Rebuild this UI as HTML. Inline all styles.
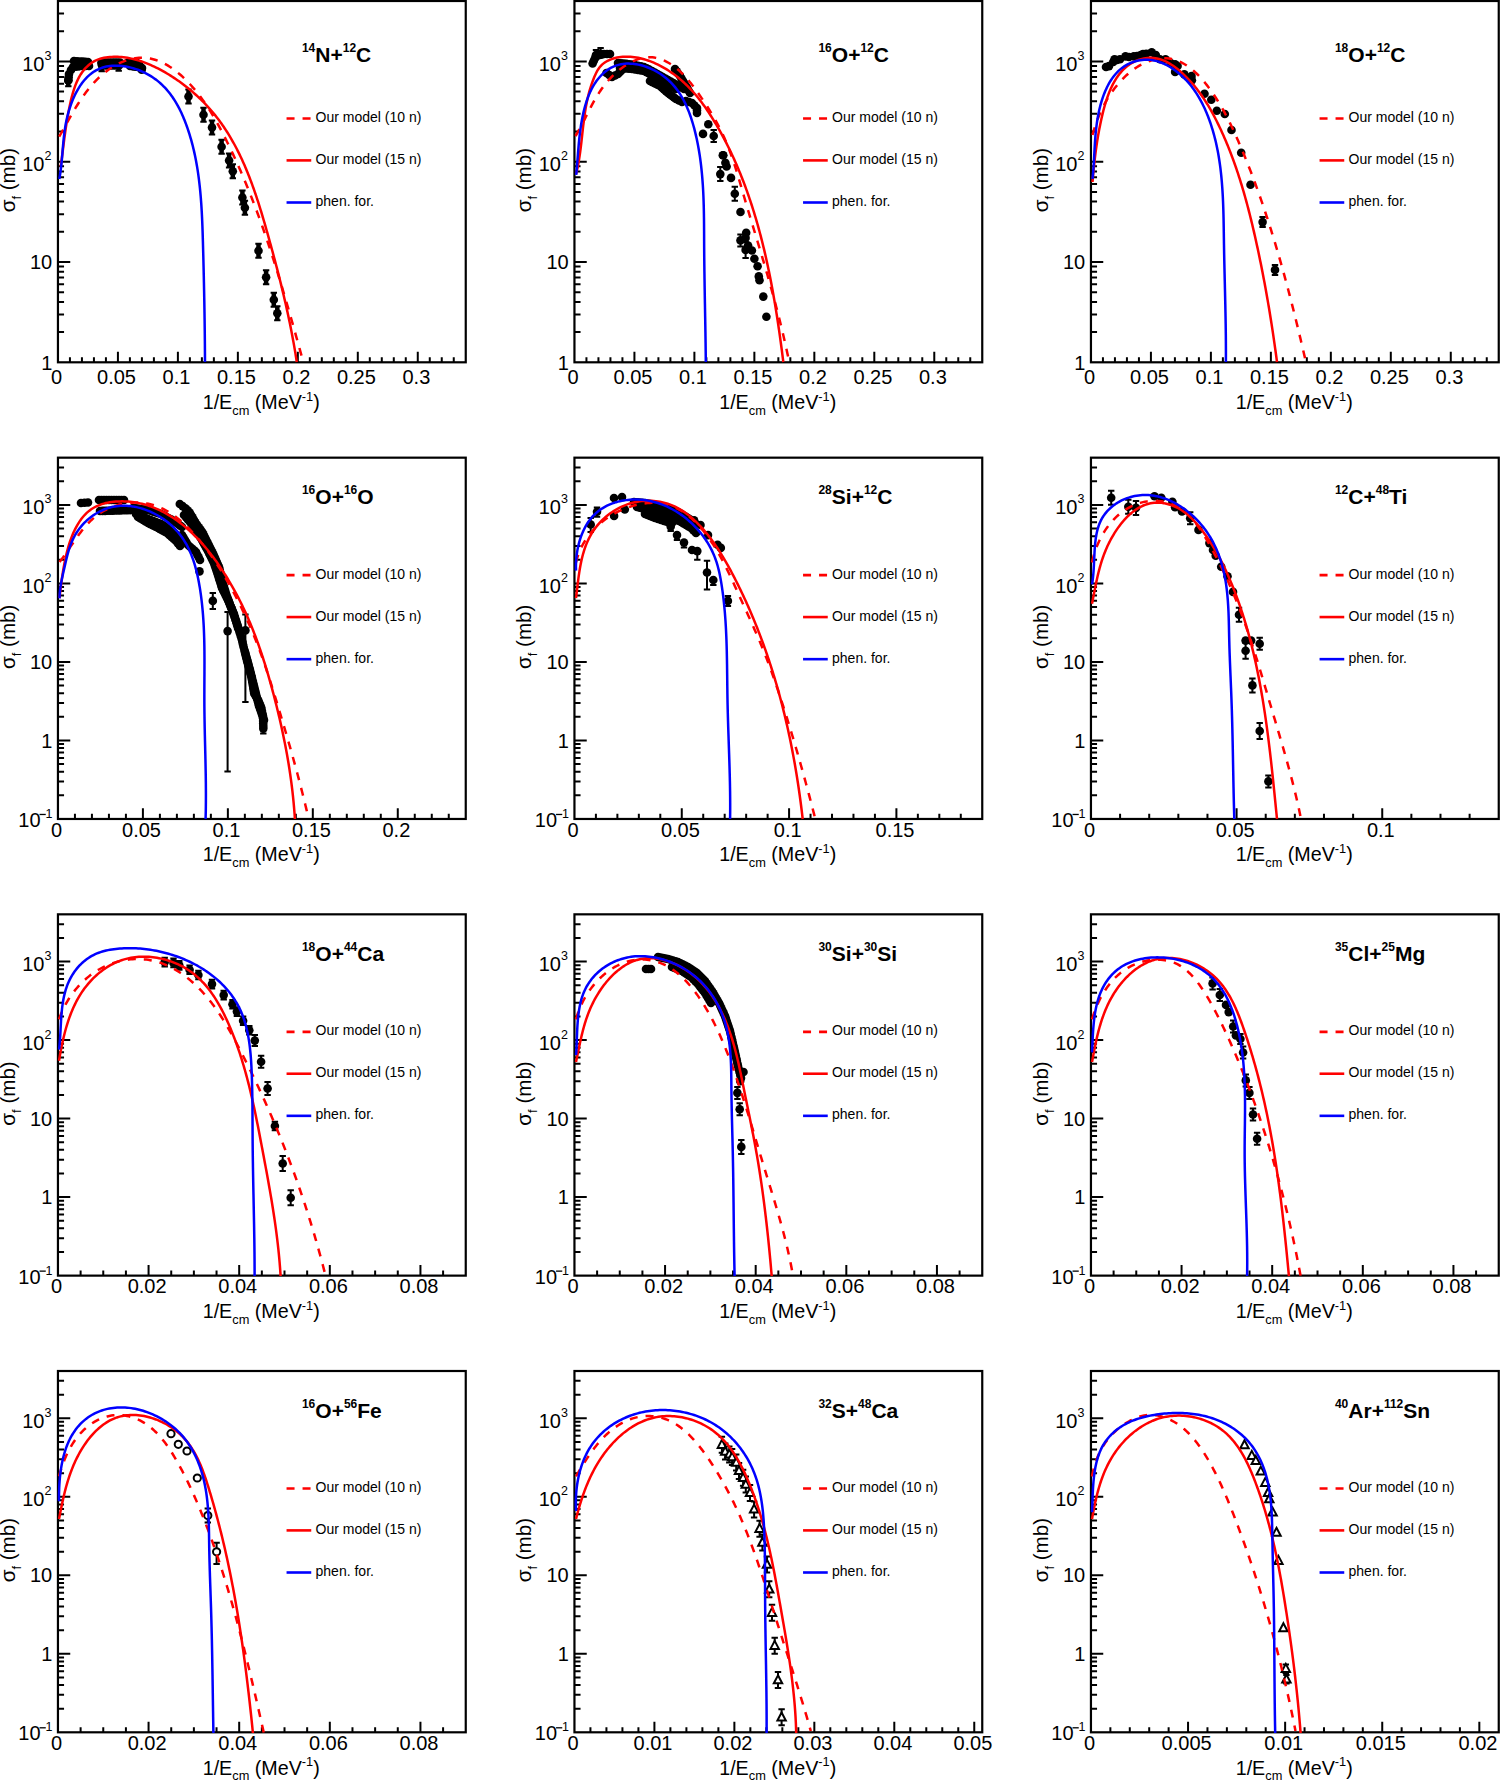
<!DOCTYPE html><html><head><meta charset="utf-8"><style>html,body{margin:0;padding:0;background:#fff;}svg{display:block;}</style></head><body>
<svg width="1500" height="1781" viewBox="0 0 1500 1781" font-family="&quot;Liberation Sans&quot;, sans-serif">
<rect width="1500" height="1781" fill="#fff"/>
<g>
<path d="M69.94,362.3V357.2M81.94,362.3V357.2M93.93,362.3V357.2M105.93,362.3V357.2M117.92,362.3V351.7M129.91,362.3V357.2M141.91,362.3V357.2M153.9,362.3V357.2M165.9,362.3V357.2M177.89,362.3V351.7M189.89,362.3V357.2M201.88,362.3V357.2M213.87,362.3V357.2M225.87,362.3V357.2M237.86,362.3V351.7M249.86,362.3V357.2M261.85,362.3V357.2M273.84,362.3V357.2M285.84,362.3V357.2M297.83,362.3V351.7M309.83,362.3V357.2M321.82,362.3V357.2M333.81,362.3V357.2M345.81,362.3V357.2M357.8,362.3V351.7M369.8,362.3V357.2M381.79,362.3V357.2M393.79,362.3V357.2M405.78,362.3V357.2M417.77,362.3V351.7M429.77,362.3V357.2M441.76,362.3V357.2M453.76,362.3V357.2M57.95,332.11H64.05M57.95,314.44H64.05M57.95,301.91H64.05M57.95,292.19H64.05M57.95,284.25H64.05M57.95,277.53H64.05M57.95,271.72H64.05M57.95,266.59H64.05M57.95,262H70.25M57.95,231.8H64.05M57.95,214.14H64.05M57.95,201.61H64.05M57.95,191.89H64.05M57.95,183.94H64.05M57.95,177.23H64.05M57.95,171.41H64.05M57.95,166.28H64.05M57.95,161.69H70.25M57.95,131.5H64.05M57.95,113.84H64.05M57.95,101.3H64.05M57.95,91.58H64.05M57.95,83.64H64.05M57.95,76.93H64.05M57.95,71.11H64.05M57.95,65.98H64.05M57.95,61.39H70.25M57.95,31.19H64.05M57.95,13.53H64.05" stroke="#000" stroke-width="2.0" fill="none"/>
<rect x="57.95" y="1" width="407.8" height="361.3" fill="none" stroke="#000" stroke-width="2.2"/>
<text x="56.55" y="384.2" text-anchor="middle" font-size="20">0</text>
<text x="116.52" y="384.2" text-anchor="middle" font-size="20">0.05</text>
<text x="176.49" y="384.2" text-anchor="middle" font-size="20">0.1</text>
<text x="236.46" y="384.2" text-anchor="middle" font-size="20">0.15</text>
<text x="296.43" y="384.2" text-anchor="middle" font-size="20">0.2</text>
<text x="356.4" y="384.2" text-anchor="middle" font-size="20">0.25</text>
<text x="416.37" y="384.2" text-anchor="middle" font-size="20">0.3</text>
<text x="52.25" y="369.5" text-anchor="end" font-size="20">1</text>
<text x="52.25" y="269.2" text-anchor="end" font-size="20">10</text>
<text x="51.45" y="171.09" text-anchor="end" font-size="20">10<tspan font-size="12.5" dy="-11">2</tspan></text>
<text x="51.45" y="70.79" text-anchor="end" font-size="20">10<tspan font-size="12.5" dy="-11">3</tspan></text>
<text x="261.25" y="409" text-anchor="middle" font-size="19.7">1/E<tspan font-size="12.8" dy="5.6">cm</tspan><tspan dy="-5.6"> (MeV</tspan><tspan font-size="12.8" dy="-8.4">-1</tspan><tspan dy="8.4">)</tspan></text>
<text transform="translate(14.75,180.15) rotate(-90)" text-anchor="middle" font-size="20.6">σ<tspan font-size="13" dy="6">f</tspan><tspan dy="-6"> (mb)</tspan></text>
<text x="301.95" y="61.8" font-size="21" font-weight="bold"><tspan font-size="12" dy="-9.7">14</tspan><tspan dy="9.7">N+</tspan><tspan font-size="12" dy="-9.7">12</tspan><tspan dy="9.7">C</tspan></text>
<path d="M286.55,118.5H311.25" stroke="#f00" stroke-width="2.6" stroke-dasharray="8,8"/>
<path d="M286.55,160.4H311.25" stroke="#f00" stroke-width="2.6"/>
<path d="M286.55,202.5H311.25" stroke="#00f" stroke-width="2.6"/>
<text x="315.55" y="122" font-size="14">Our model (10 n)</text>
<text x="315.55" y="164" font-size="14">Our model (15 n)</text>
<text x="315.55" y="206" font-size="14">phen. for.</text>
<path d="M68.3,80.3V86.3M65.1,86.3H71.5M101.7,63.7V71.2M98.5,71.2H104.9M118.7,63.7V70.7M115.5,70.7H121.9M188.5,89.5V103.5M185.3,89.5H191.7M185.3,103.5H191.7M203.5,107.7V121.7M200.3,107.7H206.7M200.3,121.7H206.7M212,120.5V134.5M208.8,120.5H215.2M208.8,134.5H215.2M221.6,139.7V153.7M218.4,139.7H224.8M218.4,153.7H224.8M229.1,153.5V167.5M225.9,153.5H232.3M225.9,167.5H232.3M232.8,164.2V178.2M229.6,164.2H236M229.6,178.2H236M242.4,190.5V204.5M239.2,190.5H245.6M239.2,204.5H245.6M244.9,200.8V214.8M241.7,200.8H248.1M241.7,214.8H248.1M258.5,243.8V257.8M255.3,243.8H261.7M255.3,257.8H261.7M266.1,270.3V284.3M262.9,270.3H269.3M262.9,284.3H269.3M273.8,292.7V306.7M270.6,292.7H277M270.6,306.7H277M277.3,306.3V320.3M274.1,306.3H280.5M274.1,320.3H280.5" stroke="#000" stroke-width="2" fill="none"/>
<path d="M68.3,80.3V86.3M101.7,63.7V71.2M118.7,63.7V70.7M188.5,89.5V103.5M203.5,107.7V121.7M212,120.5V134.5M221.6,139.7V153.7M229.1,153.5V167.5M232.8,164.2V178.2M242.4,190.5V204.5M244.9,200.8V214.8M258.5,243.8V257.8M266.1,270.3V284.3M273.8,292.7V306.7M277.3,306.3V320.3" stroke="#000" stroke-width="4.5" fill="none"/>
<circle cx="68.3" cy="80.3" r="4.3"/>
<circle cx="101.7" cy="63.7" r="4.3"/>
<circle cx="118.7" cy="63.7" r="4.3"/>
<circle cx="141.7" cy="69.7" r="4.3"/>
<circle cx="188.5" cy="96.5" r="4.3"/>
<circle cx="203.5" cy="114.7" r="4.3"/>
<circle cx="212" cy="127.5" r="4.3"/>
<circle cx="221.6" cy="146.7" r="4.3"/>
<circle cx="229.1" cy="160.5" r="4.3"/>
<circle cx="232.8" cy="171.2" r="4.3"/>
<circle cx="242.4" cy="197.5" r="4.3"/>
<circle cx="244.9" cy="207.8" r="4.3"/>
<circle cx="258.5" cy="250.8" r="4.3"/>
<circle cx="266.1" cy="277.3" r="4.3"/>
<circle cx="273.8" cy="299.7" r="4.3"/>
<circle cx="277.3" cy="313.3" r="4.3"/>
<circle cx="68.3" cy="80.5" r="4.3"/>
<circle cx="68.65" cy="77.25" r="4.3"/>
<circle cx="69" cy="74" r="4.3"/>
<circle cx="71" cy="70" r="4.3"/>
<circle cx="74" cy="61" r="4.3"/>
<circle cx="77" cy="61.25" r="4.3"/>
<circle cx="80" cy="61.5" r="4.3"/>
<circle cx="82.67" cy="61.67" r="4.3"/>
<circle cx="85.33" cy="61.83" r="4.3"/>
<circle cx="88" cy="62" r="4.3"/>
<circle cx="73" cy="67" r="4.3"/>
<circle cx="76" cy="66.67" r="4.3"/>
<circle cx="79" cy="66.33" r="4.3"/>
<circle cx="82" cy="66" r="4.3"/>
<circle cx="85.5" cy="66" r="4.3"/>
<circle cx="89" cy="66" r="4.3"/>
<circle cx="101.5" cy="62.5" r="4.3"/>
<circle cx="104.14" cy="62.5" r="4.3"/>
<circle cx="106.79" cy="62.5" r="4.3"/>
<circle cx="109.43" cy="62.5" r="4.3"/>
<circle cx="112.07" cy="62.5" r="4.3"/>
<circle cx="114.71" cy="62.5" r="4.3"/>
<circle cx="117.36" cy="62.5" r="4.3"/>
<circle cx="120" cy="62.5" r="4.3"/>
<circle cx="102" cy="65.5" r="4.3"/>
<circle cx="104.83" cy="65.5" r="4.3"/>
<circle cx="107.67" cy="65.5" r="4.3"/>
<circle cx="110.5" cy="65.5" r="4.3"/>
<circle cx="113.33" cy="65.5" r="4.3"/>
<circle cx="116.17" cy="65.5" r="4.3"/>
<circle cx="119" cy="65.5" r="4.3"/>
<circle cx="127" cy="63" r="4.3"/>
<circle cx="129.5" cy="63" r="4.3"/>
<circle cx="132" cy="63" r="4.3"/>
<circle cx="134.5" cy="63" r="4.3"/>
<circle cx="137" cy="63" r="4.3"/>
<circle cx="139.5" cy="65.5" r="4.3"/>
<circle cx="142" cy="68" r="4.3"/>
<circle cx="130" cy="66" r="4.3"/>
<circle cx="132.67" cy="66.33" r="4.3"/>
<circle cx="135.33" cy="66.67" r="4.3"/>
<circle cx="138" cy="67" r="4.3"/>
<path d="M59.2,136.69L60.17,134.98 61.14,133.26 62.1,131.54 63.07,129.81 64.03,128.07 64.99,126.33 65.96,124.59 66.93,122.85 67.9,121.1 68.87,119.36 69.86,117.62 70.85,115.87 71.85,114.14 72.86,112.4 73.88,110.67 74.91,108.94 75.96,107.22 77.02,105.5 78.1,103.79 79.19,102.09 80.3,100.4 81.43,98.72 82.58,97.05 83.75,95.4 84.95,93.75 86.16,92.12 87.41,90.5 88.68,88.9 89.97,87.31 91.3,85.74 92.65,84.19 94.03,82.65 95.45,81.14 96.89,79.65 98.36,78.19 99.86,76.76 101.39,75.37 102.95,74 104.54,72.68 106.15,71.4 107.79,70.15 109.46,68.96 111.16,67.81 112.88,66.71 114.63,65.67 116.41,64.68 118.21,63.74 120.04,62.87 121.89,62.06 123.75,61.32 125.63,60.64 127.53,60.03 129.43,59.48 131.34,59.01 133.26,58.61 135.18,58.28 137.09,58.04 139.01,57.87 140.92,57.78 142.82,57.77 144.71,57.85 146.59,58.01 148.46,58.25 150.31,58.58 152.15,58.98 153.98,59.45 155.79,60 157.58,60.62 159.36,61.31 161.13,62.06 162.88,62.88 164.61,63.75 166.33,64.69 168.03,65.67 169.71,66.72 171.37,67.81 173.01,68.95 174.64,70.14 176.25,71.37 177.83,72.64 179.4,73.95 180.95,75.29 182.47,76.67 183.98,78.08 185.46,79.52 186.93,80.98 188.37,82.47 189.78,83.98 191.18,85.51 192.55,87.05 193.9,88.61 195.22,90.18 196.52,91.77 197.8,93.37 199.06,94.98 200.29,96.6 201.51,98.23 202.7,99.87 203.88,101.53 205.04,103.19 206.18,104.87 207.3,106.55 208.41,108.24 209.5,109.95 210.57,111.66 211.63,113.38 212.67,115.1 213.7,116.84 214.72,118.58 215.72,120.33 216.71,122.08 217.69,123.84 218.66,125.61 219.62,127.38 220.57,129.16 221.51,130.94 222.44,132.72 223.36,134.51 224.28,136.31 225.19,138.1 226.09,139.9 226.99,141.7 227.88,143.51 228.76,145.31 229.64,147.12 230.52,148.93 231.38,150.75 232.24,152.56 233.1,154.38 233.95,156.21 234.79,158.03 235.63,159.86 236.46,161.69 237.29,163.52 238.11,165.35 238.93,167.19 239.74,169.03 240.55,170.87 241.35,172.71 242.15,174.55 242.94,176.4 243.72,178.25 244.5,180.1 245.28,181.96 246.05,183.81 246.81,185.67 247.58,187.53 248.33,189.39 249.08,191.26 249.83,193.12 250.57,194.99 251.31,196.86 252.04,198.73 252.77,200.61 253.5,202.48 254.22,204.36 254.93,206.24 255.64,208.12 256.35,210 257.06,211.89 257.75,213.77 258.45,215.66 259.14,217.55 259.83,219.44 260.51,221.33 261.19,223.23 261.87,225.12 262.54,227.02 263.21,228.92 263.87,230.82 264.53,232.72 265.19,234.62 265.84,236.53 266.49,238.43 267.14,240.34 267.78,242.25 268.42,244.16 269.06,246.07 269.69,247.98 270.33,249.89 270.95,251.81 271.58,253.72 272.2,255.64 272.82,257.56 273.43,259.47 274.05,261.39 274.66,263.31 275.27,265.24 275.87,267.16 276.47,269.08 277.07,271.01 277.67,272.93 278.26,274.86 278.86,276.78 279.45,278.71 280.03,280.64 280.62,282.57 281.2,284.5 281.78,286.43 282.36,288.36 282.94,290.29 283.51,292.23 284.09,294.16 284.66,296.09 285.23,298.03 285.79,299.96 286.36,301.9 286.92,303.84 287.48,305.77 288.05,307.71 288.6,309.65 289.16,311.58 289.72,313.52 290.27,315.46 290.82,317.4 291.38,319.34 291.93,321.27 292.48,323.21 293.02,325.15 293.57,327.09 294.12,329.03 294.66,330.97 295.21,332.91 295.75,334.85 296.29,336.79 296.83,338.73 297.38,340.67 297.92,342.61 298.45,344.55 298.99,346.49 299.53,348.43 300.07,350.37 300.61,352.31 301.14,354.25 301.68,356.19 302.22,358.13 302.75,360.06 303.29,362" stroke="#f00" stroke-width="2.5" fill="none" stroke-dasharray="8,8"/>
<path d="M60.7,166.7L60.98,164.65 61.25,162.6 61.52,160.56 61.78,158.54 62.04,156.52 62.3,154.51 62.55,152.51 62.8,150.52 63.05,148.53 63.3,146.55 63.55,144.57 63.8,142.6 64.06,140.64 64.31,138.67 64.57,136.71 64.84,134.76 65.11,132.8 65.39,130.84 65.67,128.89 65.96,126.93 66.26,124.97 66.56,123.01 66.88,121.05 67.21,119.08 67.55,117.11 67.9,115.14 68.26,113.16 68.64,111.18 69.03,109.18 69.44,107.19 69.86,105.18 70.3,103.16 70.76,101.14 71.24,99.12 71.74,97.09 72.28,95.07 72.84,93.05 73.43,91.05 74.06,89.06 74.74,87.09 75.45,85.15 76.22,83.23 77.03,81.35 77.89,79.5 78.82,77.7 79.8,75.93 80.84,74.22 81.95,72.55 83.13,70.95 84.38,69.4 85.69,67.93 87.07,66.53 88.51,65.21 90.01,63.98 91.58,62.84 93.2,61.81 94.88,60.88 96.62,60.07 98.41,59.36 100.24,58.76 102.1,58.25 104,57.83 105.92,57.49 107.86,57.23 109.81,57.03 111.76,56.9 113.71,56.82 115.67,56.81 117.63,56.85 119.58,56.94 121.54,57.09 123.5,57.3 125.45,57.55 127.41,57.85 129.36,58.21 131.31,58.61 133.25,59.06 135.19,59.55 137.13,60.08 139.06,60.66 140.98,61.28 142.9,61.94 144.81,62.63 146.72,63.36 148.61,64.13 150.5,64.94 152.38,65.77 154.25,66.64 156.11,67.53 157.95,68.46 159.79,69.41 161.61,70.39 163.42,71.39 165.22,72.42 167.01,73.47 168.78,74.54 170.53,75.63 172.27,76.73 173.99,77.86 175.7,79 177.39,80.16 179.07,81.33 180.72,82.52 182.37,83.73 183.99,84.95 185.6,86.18 187.19,87.44 188.77,88.71 190.32,89.99 191.87,91.29 193.39,92.61 194.9,93.94 196.39,95.28 197.86,96.64 199.32,98.02 200.76,99.41 202.18,100.81 203.59,102.23 204.98,103.66 206.35,105.11 207.7,106.57 209.04,108.05 210.35,109.54 211.65,111.04 212.94,112.55 214.2,114.08 215.45,115.63 216.68,117.19 217.89,118.76 219.08,120.34 220.26,121.93 221.42,123.54 222.56,125.16 223.68,126.8 224.78,128.44 225.87,130.1 226.95,131.77 228,133.45 229.04,135.14 230.07,136.84 231.08,138.56 232.07,140.28 233.05,142.01 234.02,143.75 234.97,145.51 235.9,147.27 236.83,149.04 237.73,150.82 238.63,152.61 239.51,154.41 240.38,156.21 241.24,158.03 242.08,159.85 242.91,161.68 243.73,163.52 244.54,165.36 245.33,167.22 246.12,169.07 246.89,170.94 247.65,172.81 248.41,174.69 249.15,176.57 249.88,178.46 250.6,180.35 251.32,182.25 252.02,184.16 252.71,186.07 253.4,187.98 254.08,189.9 254.74,191.82 255.41,193.75 256.06,195.68 256.7,197.61 257.34,199.54 257.97,201.48 258.6,203.42 259.21,205.37 259.82,207.31 260.43,209.26 261.03,211.21 261.62,213.16 262.21,215.12 262.79,217.07 263.37,219.02 263.94,220.98 264.51,222.93 265.08,224.89 265.64,226.85 266.19,228.8 266.75,230.76 267.3,232.71 267.85,234.66 268.39,236.62 268.94,238.57 269.48,240.52 270.01,242.46 270.55,244.41 271.08,246.35 271.62,248.3 272.14,250.24 272.67,252.18 273.19,254.12 273.72,256.06 274.23,258 274.75,259.94 275.26,261.87 275.78,263.81 276.28,265.75 276.79,267.68 277.29,269.62 277.79,271.55 278.29,273.49 278.78,275.43 279.27,277.36 279.76,279.3 280.24,281.23 280.72,283.17 281.2,285.11 281.67,287.04 282.15,288.98 282.61,290.92 283.08,292.86 283.54,294.8 283.99,296.74 284.45,298.69 284.9,300.63 285.34,302.58 285.79,304.52 286.23,306.47 286.66,308.42 287.09,310.37 287.52,312.33 287.94,314.28 288.36,316.24 288.78,318.2 289.19,320.16 289.59,322.12 290,324.09 290.4,326.06 290.79,328.03 291.18,330 291.56,331.98 291.95,333.96 292.32,335.94 292.69,337.92 293.06,339.91 293.42,341.9 293.78,343.9 294.14,345.9 294.48,347.9 294.83,349.9 295.17,351.91 295.5,353.92 295.83,355.94 296.16,357.96 296.47,359.98 296.79,362.01" stroke="#f00" stroke-width="2.5" fill="none"/>
<path d="M59.29,179L59.66,176.98 60,174.97 60.31,172.96 60.59,170.97 60.85,168.97 61.1,166.98 61.32,165 61.53,163.01 61.72,161.03 61.91,159.06 62.08,157.08 62.25,155.11 62.42,153.13 62.58,151.16 62.74,149.19 62.9,147.21 63.07,145.24 63.25,143.26 63.43,141.29 63.63,139.31 63.84,137.32 64.06,135.34 64.31,133.35 64.57,131.35 64.86,129.35 65.17,127.35 65.51,125.33 65.88,123.32 66.28,121.29 66.71,119.26 67.18,117.22 67.68,115.18 68.22,113.14 68.8,111.1 69.42,109.07 70.07,107.05 70.76,105.04 71.48,103.04 72.25,101.07 73.05,99.12 73.89,97.19 74.77,95.29 75.69,93.42 76.65,91.59 77.65,89.79 78.68,88.04 79.76,86.33 80.88,84.67 82.05,83.05 83.25,81.49 84.49,79.99 85.78,78.55 87.11,77.17 88.48,75.86 89.9,74.62 91.36,73.44 92.86,72.35 94.41,71.33 96,70.4 97.63,69.55 99.32,68.79 101.04,68.11 102.8,67.52 104.6,67.01 106.43,66.59 108.29,66.24 110.17,65.98 112.08,65.79 114.02,65.68 115.97,65.64 117.93,65.68 119.91,65.79 121.9,65.97 123.9,66.22 125.89,66.53 127.89,66.91 129.89,67.36 131.88,67.87 133.86,68.44 135.84,69.08 137.79,69.77 139.73,70.52 141.65,71.33 143.55,72.19 145.42,73.1 147.27,74.07 149.08,75.08 150.86,76.15 152.6,77.26 154.29,78.42 155.95,79.62 157.56,80.87 159.12,82.16 160.64,83.49 162.12,84.85 163.55,86.26 164.94,87.7 166.29,89.18 167.6,90.69 168.87,92.24 170.1,93.81 171.29,95.42 172.45,97.05 173.57,98.71 174.65,100.4 175.71,102.11 176.73,103.85 177.71,105.6 178.67,107.38 179.6,109.18 180.49,110.99 181.36,112.82 182.2,114.67 183.02,116.53 183.8,118.4 184.57,120.28 185.31,122.17 186.03,124.08 186.72,125.98 187.39,127.9 188.05,129.82 188.68,131.74 189.3,133.67 189.89,135.6 190.47,137.53 191.03,139.46 191.57,141.4 192.09,143.35 192.6,145.29 193.08,147.24 193.56,149.2 194.01,151.15 194.45,153.11 194.87,155.07 195.28,157.04 195.68,159 196.06,160.97 196.42,162.95 196.77,164.92 197.11,166.9 197.43,168.88 197.74,170.86 198.04,172.84 198.32,174.83 198.59,176.82 198.86,178.81 199.1,180.8 199.34,182.8 199.57,184.79 199.79,186.79 200,188.79 200.19,190.79 200.38,192.79 200.56,194.8 200.73,196.8 200.89,198.81 201.04,200.82 201.19,202.83 201.33,204.84 201.46,206.85 201.58,208.86 201.7,210.87 201.81,212.89 201.91,214.9 202.01,216.92 202.11,218.93 202.2,220.95 202.28,222.97 202.36,224.99 202.44,227 202.51,229.02 202.58,231.04 202.65,233.06 202.71,235.08 202.77,237.1 202.83,239.11 202.89,241.13 202.95,243.15 203,245.17 203.06,247.19 203.11,249.2 203.17,251.22 203.22,253.23 203.28,255.25 203.33,257.27 203.38,259.28 203.43,261.3 203.48,263.31 203.53,265.33 203.58,267.34 203.63,269.35 203.68,271.37 203.72,273.38 203.77,275.4 203.82,277.41 203.86,279.42 203.9,281.44 203.95,283.45 203.99,285.46 204.03,287.47 204.07,289.49 204.12,291.5 204.16,293.51 204.19,295.52 204.23,297.54 204.27,299.55 204.31,301.56 204.34,303.57 204.38,305.59 204.41,307.6 204.45,309.61 204.48,311.62 204.51,313.64 204.54,315.65 204.57,317.66 204.6,319.67 204.63,321.69 204.66,323.7 204.68,325.71 204.71,327.73 204.73,329.74 204.76,331.76 204.78,333.77 204.8,335.78 204.82,337.8 204.84,339.81 204.86,341.83 204.88,343.84 204.9,345.86 204.91,347.88 204.93,349.89 204.94,351.91 204.96,353.93 204.97,355.95 204.98,357.96 204.99,359.98 205,362" stroke="#00f" stroke-width="2.5" fill="none"/>
</g>
<g>
<path d="M586.44,362.3V357.2M598.44,362.3V357.2M610.43,362.3V357.2M622.43,362.3V357.2M634.42,362.3V351.7M646.41,362.3V357.2M658.41,362.3V357.2M670.4,362.3V357.2M682.4,362.3V357.2M694.39,362.3V351.7M706.39,362.3V357.2M718.38,362.3V357.2M730.37,362.3V357.2M742.37,362.3V357.2M754.36,362.3V351.7M766.36,362.3V357.2M778.35,362.3V357.2M790.34,362.3V357.2M802.34,362.3V357.2M814.33,362.3V351.7M826.33,362.3V357.2M838.32,362.3V357.2M850.31,362.3V357.2M862.31,362.3V357.2M874.3,362.3V351.7M886.3,362.3V357.2M898.29,362.3V357.2M910.29,362.3V357.2M922.28,362.3V357.2M934.27,362.3V351.7M946.27,362.3V357.2M958.26,362.3V357.2M970.26,362.3V357.2M574.45,332.11H580.55M574.45,314.44H580.55M574.45,301.91H580.55M574.45,292.19H580.55M574.45,284.25H580.55M574.45,277.53H580.55M574.45,271.72H580.55M574.45,266.59H580.55M574.45,262H586.75M574.45,231.8H580.55M574.45,214.14H580.55M574.45,201.61H580.55M574.45,191.89H580.55M574.45,183.94H580.55M574.45,177.23H580.55M574.45,171.41H580.55M574.45,166.28H580.55M574.45,161.69H586.75M574.45,131.5H580.55M574.45,113.84H580.55M574.45,101.3H580.55M574.45,91.58H580.55M574.45,83.64H580.55M574.45,76.93H580.55M574.45,71.11H580.55M574.45,65.98H580.55M574.45,61.39H586.75M574.45,31.19H580.55M574.45,13.53H580.55" stroke="#000" stroke-width="2.0" fill="none"/>
<rect x="574.45" y="1" width="407.8" height="361.3" fill="none" stroke="#000" stroke-width="2.2"/>
<text x="573.05" y="384.2" text-anchor="middle" font-size="20">0</text>
<text x="633.02" y="384.2" text-anchor="middle" font-size="20">0.05</text>
<text x="692.99" y="384.2" text-anchor="middle" font-size="20">0.1</text>
<text x="752.96" y="384.2" text-anchor="middle" font-size="20">0.15</text>
<text x="812.93" y="384.2" text-anchor="middle" font-size="20">0.2</text>
<text x="872.9" y="384.2" text-anchor="middle" font-size="20">0.25</text>
<text x="932.87" y="384.2" text-anchor="middle" font-size="20">0.3</text>
<text x="568.75" y="369.5" text-anchor="end" font-size="20">1</text>
<text x="568.75" y="269.2" text-anchor="end" font-size="20">10</text>
<text x="567.95" y="171.09" text-anchor="end" font-size="20">10<tspan font-size="12.5" dy="-11">2</tspan></text>
<text x="567.95" y="70.79" text-anchor="end" font-size="20">10<tspan font-size="12.5" dy="-11">3</tspan></text>
<text x="777.75" y="409" text-anchor="middle" font-size="19.7">1/E<tspan font-size="12.8" dy="5.6">cm</tspan><tspan dy="-5.6"> (MeV</tspan><tspan font-size="12.8" dy="-8.4">-1</tspan><tspan dy="8.4">)</tspan></text>
<text transform="translate(531.25,180.15) rotate(-90)" text-anchor="middle" font-size="20.6">σ<tspan font-size="13" dy="6">f</tspan><tspan dy="-6"> (mb)</tspan></text>
<text x="818.45" y="61.8" font-size="21" font-weight="bold"><tspan font-size="12" dy="-9.7">16</tspan><tspan dy="9.7">O+</tspan><tspan font-size="12" dy="-9.7">12</tspan><tspan dy="9.7">C</tspan></text>
<path d="M803.05,118.5H827.75" stroke="#f00" stroke-width="2.6" stroke-dasharray="8,8"/>
<path d="M803.05,160.4H827.75" stroke="#f00" stroke-width="2.6"/>
<path d="M803.05,202.5H827.75" stroke="#00f" stroke-width="2.6"/>
<text x="832.05" y="122" font-size="14">Our model (10 n)</text>
<text x="832.05" y="164" font-size="14">Our model (15 n)</text>
<text x="832.05" y="206" font-size="14">phen. for.</text>
<path d="M600.6,47.9V53.9M597.4,47.9H603.8M596,50V55M592.8,50H599.2M713.7,130V142M710.5,130H716.9M710.5,142H716.9M720.3,167.1V181.1M717.1,167.1H723.5M717.1,181.1H723.5M734.8,186.7V200.7M731.6,186.7H738M731.6,200.7H738M740.5,234.4V246.4M737.3,234.4H743.7M737.3,246.4H743.7M745.6,241.9V257.9M742.4,241.9H748.8M742.4,257.9H748.8" stroke="#000" stroke-width="2" fill="none"/>
<circle cx="600.6" cy="53.9" r="4.3"/>
<circle cx="596" cy="55" r="4.3"/>
<circle cx="708.3" cy="124.3" r="4.3"/>
<circle cx="703" cy="133.9" r="4.3"/>
<circle cx="713.7" cy="136" r="4.3"/>
<circle cx="723.3" cy="155.2" r="4.3"/>
<circle cx="722.8" cy="155.2" r="4.3"/>
<circle cx="725.4" cy="162.7" r="4.3"/>
<circle cx="726.6" cy="166.5" r="4.3"/>
<circle cx="720.3" cy="174.1" r="4.3"/>
<circle cx="731" cy="177.9" r="4.3"/>
<circle cx="734.8" cy="193.7" r="4.3"/>
<circle cx="740.5" cy="212" r="4.3"/>
<circle cx="746.2" cy="232.8" r="4.3"/>
<circle cx="740.5" cy="240.4" r="4.3"/>
<circle cx="745.6" cy="237.9" r="4.3"/>
<circle cx="748.1" cy="245.5" r="4.3"/>
<circle cx="745.6" cy="249.9" r="4.3"/>
<circle cx="751.9" cy="250.5" r="4.3"/>
<circle cx="754.4" cy="258.7" r="4.3"/>
<circle cx="757.6" cy="266.3" r="4.3"/>
<circle cx="758.8" cy="276.4" r="4.3"/>
<circle cx="759.5" cy="280.2" r="4.3"/>
<circle cx="763.3" cy="296.6" r="4.3"/>
<circle cx="766.4" cy="316.8" r="4.3"/>
<circle cx="592.6" cy="63.5" r="4.3"/>
<circle cx="593.73" cy="61" r="4.3"/>
<circle cx="594.87" cy="58.5" r="4.3"/>
<circle cx="596" cy="56" r="4.3"/>
<circle cx="598.67" cy="55.33" r="4.3"/>
<circle cx="601.33" cy="54.67" r="4.3"/>
<circle cx="604" cy="54" r="4.3"/>
<circle cx="607" cy="54" r="4.3"/>
<circle cx="610" cy="54" r="4.3"/>
<circle cx="606.5" cy="73" r="4.3"/>
<circle cx="609.25" cy="75" r="4.3"/>
<circle cx="612" cy="77" r="4.3"/>
<circle cx="615" cy="75.5" r="4.3"/>
<circle cx="618" cy="74" r="4.3"/>
<circle cx="620" cy="72" r="4.3"/>
<circle cx="622" cy="70" r="4.3"/>
<circle cx="618" cy="63" r="4.3"/>
<circle cx="620.8" cy="63.3" r="4.3"/>
<circle cx="623.6" cy="63.6" r="4.3"/>
<circle cx="626.4" cy="63.9" r="4.3"/>
<circle cx="629.2" cy="64.2" r="4.3"/>
<circle cx="632" cy="64.5" r="4.3"/>
<circle cx="635" cy="65.12" r="4.3"/>
<circle cx="638" cy="65.75" r="4.3"/>
<circle cx="641" cy="66.38" r="4.3"/>
<circle cx="644" cy="67" r="4.3"/>
<circle cx="646.67" cy="68.33" r="4.3"/>
<circle cx="649.33" cy="69.67" r="4.3"/>
<circle cx="652" cy="71" r="4.3"/>
<circle cx="654.67" cy="72.5" r="4.3"/>
<circle cx="657.33" cy="74" r="4.3"/>
<circle cx="660" cy="75.5" r="4.3"/>
<circle cx="662.67" cy="77" r="4.3"/>
<circle cx="665.33" cy="78.5" r="4.3"/>
<circle cx="668" cy="80" r="4.3"/>
<circle cx="670.67" cy="81.5" r="4.3"/>
<circle cx="673.33" cy="83" r="4.3"/>
<circle cx="676" cy="84.5" r="4.3"/>
<circle cx="678.67" cy="86" r="4.3"/>
<circle cx="681.33" cy="87.5" r="4.3"/>
<circle cx="684" cy="89" r="4.3"/>
<circle cx="620" cy="68" r="4.3"/>
<circle cx="623" cy="68.25" r="4.3"/>
<circle cx="626" cy="68.5" r="4.3"/>
<circle cx="629" cy="68.75" r="4.3"/>
<circle cx="632" cy="69" r="4.3"/>
<circle cx="635" cy="69.5" r="4.3"/>
<circle cx="638" cy="70" r="4.3"/>
<circle cx="641" cy="70.5" r="4.3"/>
<circle cx="644" cy="71" r="4.3"/>
<circle cx="646.67" cy="72.33" r="4.3"/>
<circle cx="649.33" cy="73.67" r="4.3"/>
<circle cx="652" cy="75" r="4.3"/>
<circle cx="654.67" cy="76.67" r="4.3"/>
<circle cx="657.33" cy="78.33" r="4.3"/>
<circle cx="660" cy="80" r="4.3"/>
<circle cx="662.67" cy="81.33" r="4.3"/>
<circle cx="665.33" cy="82.67" r="4.3"/>
<circle cx="668" cy="84" r="4.3"/>
<circle cx="670.67" cy="85.67" r="4.3"/>
<circle cx="673.33" cy="87.33" r="4.3"/>
<circle cx="676" cy="89" r="4.3"/>
<circle cx="650" cy="81" r="4.3"/>
<circle cx="652.5" cy="82.25" r="4.3"/>
<circle cx="655" cy="83.5" r="4.3"/>
<circle cx="657.5" cy="84.75" r="4.3"/>
<circle cx="660" cy="86" r="4.3"/>
<circle cx="662" cy="87.75" r="4.3"/>
<circle cx="664" cy="89.5" r="4.3"/>
<circle cx="666" cy="91.25" r="4.3"/>
<circle cx="668" cy="93" r="4.3"/>
<circle cx="670" cy="94.5" r="4.3"/>
<circle cx="672" cy="96" r="4.3"/>
<circle cx="674" cy="97.5" r="4.3"/>
<circle cx="676" cy="99" r="4.3"/>
<circle cx="679" cy="100.5" r="4.3"/>
<circle cx="682" cy="102" r="4.3"/>
<circle cx="686" cy="101" r="4.3"/>
<circle cx="689" cy="102" r="4.3"/>
<circle cx="692" cy="103" r="4.3"/>
<circle cx="694.5" cy="105.5" r="4.3"/>
<circle cx="697" cy="108" r="4.3"/>
<circle cx="697" cy="110.5" r="4.3"/>
<circle cx="697" cy="113" r="4.3"/>
<circle cx="675" cy="69" r="4.3"/>
<circle cx="676.67" cy="71.33" r="4.3"/>
<circle cx="678.33" cy="73.67" r="4.3"/>
<circle cx="680" cy="76" r="4.3"/>
<circle cx="681.5" cy="78.5" r="4.3"/>
<circle cx="683" cy="81" r="4.3"/>
<circle cx="684.5" cy="83.5" r="4.3"/>
<circle cx="686" cy="86" r="4.3"/>
<circle cx="687.33" cy="88.33" r="4.3"/>
<circle cx="688.67" cy="90.67" r="4.3"/>
<circle cx="690" cy="93" r="4.3"/>
<path d="M575.5,136L576.54,134.25 577.56,132.5 578.56,130.74 579.53,128.98 580.49,127.21 581.43,125.44 582.36,123.67 583.28,121.9 584.19,120.12 585.09,118.34 585.99,116.56 586.89,114.79 587.78,113.02 588.68,111.24 589.59,109.48 590.5,107.71 591.43,105.96 592.36,104.2 593.31,102.46 594.28,100.72 595.27,98.99 596.28,97.27 597.32,95.56 598.38,93.86 599.47,92.17 600.59,90.49 601.75,88.83 602.94,87.18 604.17,85.54 605.44,83.92 606.75,82.32 608.11,80.74 609.5,79.18 610.93,77.64 612.4,76.14 613.91,74.67 615.44,73.23 617.01,71.83 618.61,70.48 620.23,69.17 621.88,67.92 623.56,66.71 625.26,65.57 626.98,64.48 628.72,63.45 630.47,62.49 632.24,61.6 634.03,60.79 635.83,60.05 637.64,59.39 639.46,58.81 641.29,58.32 643.13,57.91 644.96,57.6 646.8,57.39 648.65,57.28 650.49,57.26 652.33,57.36 654.16,57.56 655.99,57.88 657.81,58.29 659.62,58.81 661.42,59.42 663.2,60.12 664.97,60.91 666.72,61.78 668.44,62.72 670.15,63.74 671.83,64.83 673.48,65.98 675.1,67.19 676.69,68.46 678.25,69.77 679.77,71.13 681.26,72.54 682.72,73.99 684.15,75.47 685.55,76.98 686.92,78.53 688.27,80.1 689.59,81.7 690.89,83.32 692.17,84.96 693.43,86.61 694.67,88.27 695.89,89.94 697.1,91.62 698.29,93.3 699.47,94.98 700.64,96.66 701.8,98.34 702.94,100.02 704.07,101.71 705.18,103.39 706.28,105.08 707.37,106.78 708.44,108.47 709.5,110.17 710.55,111.87 711.58,113.58 712.6,115.29 713.6,117.01 714.59,118.73 715.56,120.46 716.52,122.19 717.46,123.93 718.39,125.68 719.3,127.43 720.19,129.2 721.08,130.96 721.94,132.74 722.79,134.53 723.63,136.32 724.44,138.12 725.25,139.94 726.03,141.76 726.8,143.59 727.55,145.43 728.29,147.29 729.02,149.15 729.73,151.02 730.43,152.89 731.11,154.78 731.78,156.67 732.44,158.57 733.09,160.47 733.74,162.38 734.37,164.3 734.99,166.22 735.6,168.14 736.21,170.07 736.81,172.01 737.4,173.94 737.99,175.88 738.57,177.82 739.15,179.77 739.72,181.71 740.29,183.66 740.86,185.6 741.42,187.55 741.99,189.5 742.55,191.44 743.12,193.39 743.68,195.33 744.25,197.27 744.81,199.21 745.38,201.15 745.95,203.09 746.52,205.02 747.1,206.95 747.67,208.88 748.25,210.81 748.83,212.73 749.4,214.65 749.98,216.58 750.56,218.5 751.14,220.42 751.73,222.34 752.31,224.26 752.89,226.18 753.47,228.09 754.05,230.01 754.64,231.93 755.22,233.84 755.8,235.76 756.38,237.68 756.96,239.59 757.54,241.51 758.12,243.43 758.7,245.34 759.28,247.26 759.86,249.18 760.43,251.1 761.01,253.02 761.58,254.95 762.15,256.87 762.72,258.8 763.29,260.72 763.86,262.65 764.43,264.58 764.99,266.5 765.55,268.43 766.11,270.37 766.67,272.3 767.23,274.23 767.78,276.16 768.33,278.1 768.88,280.03 769.43,281.97 769.98,283.91 770.52,285.85 771.06,287.79 771.6,289.73 772.13,291.67 772.67,293.61 773.2,295.55 773.73,297.5 774.25,299.44 774.77,301.39 775.29,303.33 775.81,305.28 776.32,307.23 776.83,309.17 777.34,311.12 777.84,313.07 778.34,315.02 778.84,316.97 779.33,318.92 779.82,320.88 780.31,322.83 780.79,324.78 781.27,326.74 781.75,328.69 782.22,330.65 782.69,332.6 783.15,334.56 783.61,336.52 784.07,338.47 784.52,340.43 784.97,342.39 785.41,344.35 785.85,346.31 786.29,348.27 786.72,350.23 787.14,352.19 787.56,354.15 787.98,356.11 788.39,358.07 788.8,360.04 789.2,362" stroke="#f00" stroke-width="2.5" fill="none" stroke-dasharray="8,8"/>
<path d="M576.2,173.6L576.67,171.64 577.12,169.68 577.54,167.71 577.93,165.75 578.31,163.77 578.67,161.8 579,159.82 579.32,157.84 579.62,155.86 579.91,153.87 580.19,151.89 580.45,149.9 580.71,147.91 580.95,145.92 581.19,143.92 581.42,141.93 581.64,139.94 581.86,137.94 582.08,135.95 582.3,133.96 582.52,131.96 582.74,129.97 582.96,127.97 583.19,125.98 583.43,123.99 583.67,122 583.92,120.01 584.18,118.03 584.45,116.04 584.74,114.06 585.04,112.08 585.35,110.1 585.68,108.13 586.03,106.15 586.4,104.18 586.79,102.22 587.21,100.25 587.65,98.29 588.11,96.33 588.6,94.37 589.11,92.41 589.66,90.46 590.23,88.51 590.84,86.56 591.48,84.61 592.16,82.66 592.87,80.72 593.62,78.78 594.4,76.84 595.24,74.92 596.13,73.04 597.09,71.22 598.13,69.48 599.26,67.83 600.48,66.29 601.8,64.88 603.24,63.62 604.77,62.48 606.38,61.47 608.06,60.58 609.8,59.79 611.58,59.11 613.4,58.51 615.24,58.01 617.1,57.58 618.97,57.24 620.86,56.97 622.76,56.78 624.68,56.67 626.6,56.63 628.53,56.66 630.47,56.76 632.42,56.93 634.36,57.16 636.32,57.46 638.27,57.82 640.22,58.24 642.17,58.71 644.12,59.25 646.06,59.84 647.99,60.48 649.92,61.18 651.84,61.92 653.74,62.71 655.64,63.55 657.51,64.43 659.38,65.36 661.23,66.32 663.05,67.33 664.86,68.37 666.65,69.44 668.41,70.55 670.15,71.69 671.86,72.86 673.55,74.06 675.2,75.28 676.83,76.53 678.43,77.8 679.99,79.1 681.54,80.42 683.05,81.76 684.54,83.12 686,84.51 687.44,85.91 688.85,87.34 690.24,88.78 691.61,90.24 692.95,91.73 694.27,93.22 695.57,94.74 696.85,96.27 698.11,97.82 699.35,99.38 700.57,100.96 701.77,102.55 702.96,104.15 704.12,105.77 705.27,107.4 706.41,109.04 707.53,110.69 708.63,112.35 709.72,114.02 710.8,115.7 711.86,117.39 712.92,119.09 713.96,120.79 714.99,122.5 716,124.21 717.01,125.93 718.01,127.66 719,129.39 719.98,131.13 720.94,132.87 721.9,134.62 722.85,136.37 723.79,138.13 724.71,139.9 725.63,141.67 726.54,143.44 727.44,145.22 728.33,147.01 729.21,148.8 730.08,150.59 730.94,152.39 731.79,154.19 732.63,156 733.46,157.82 734.29,159.64 735.1,161.46 735.91,163.29 736.71,165.12 737.49,166.96 738.27,168.8 739.04,170.64 739.81,172.49 740.56,174.34 741.3,176.2 742.04,178.06 742.77,179.93 743.49,181.8 744.2,183.67 744.9,185.54 745.6,187.42 746.29,189.31 746.97,191.2 747.64,193.09 748.3,194.98 748.96,196.88 749.61,198.78 750.25,200.68 750.88,202.59 751.51,204.5 752.12,206.41 752.74,208.33 753.34,210.25 753.94,212.17 754.52,214.1 755.11,216.03 755.68,217.96 756.25,219.89 756.81,221.83 757.37,223.76 757.91,225.7 758.46,227.65 758.99,229.59 759.52,231.54 760.04,233.49 760.56,235.44 761.06,237.4 761.57,239.35 762.06,241.31 762.55,243.27 763.04,245.23 763.52,247.2 763.99,249.16 764.46,251.13 764.92,253.1 765.37,255.07 765.82,257.04 766.26,259.01 766.7,260.98 767.14,262.96 767.56,264.94 767.99,266.91 768.4,268.89 768.81,270.87 769.22,272.85 769.62,274.84 770.02,276.82 770.41,278.8 770.8,280.79 771.18,282.77 771.56,284.76 771.93,286.74 772.3,288.73 772.66,290.71 773.02,292.7 773.37,294.69 773.72,296.68 774.07,298.66 774.41,300.65 774.75,302.64 775.08,304.63 775.41,306.61 775.74,308.6 776.06,310.59 776.38,312.58 776.7,314.56 777.01,316.55 777.31,318.54 777.62,320.52 777.92,322.51 778.22,324.49 778.51,326.47 778.8,328.46 779.09,330.44 779.37,332.42 779.65,334.4 779.93,336.38 780.21,338.35 780.48,340.33 780.75,342.31 781.02,344.28 781.28,346.25 781.55,348.23 781.81,350.2 782.06,352.16 782.32,354.13 782.57,356.1 782.82,358.06 783.07,360.02 783.32,361.98" stroke="#f00" stroke-width="2.5" fill="none"/>
<path d="M576.19,174.99L576.38,173.02 576.57,171.05 576.74,169.08 576.91,167.11 577.07,165.14 577.23,163.16 577.39,161.19 577.54,159.21 577.69,157.23 577.84,155.25 577.99,153.27 578.15,151.28 578.31,149.3 578.48,147.31 578.65,145.32 578.83,143.33 579.02,141.33 579.22,139.34 579.43,137.34 579.66,135.33 579.89,133.33 580.15,131.32 580.42,129.31 580.7,127.3 581.01,125.29 581.34,123.27 581.69,121.25 582.06,119.22 582.45,117.19 582.87,115.16 583.32,113.13 583.79,111.09 584.3,109.06 584.83,107.03 585.4,105.02 586,103.01 586.65,101.01 587.33,99.04 588.05,97.08 588.81,95.14 589.61,93.23 590.47,91.35 591.37,89.5 592.32,87.69 593.32,85.91 594.37,84.17 595.47,82.48 596.62,80.83 597.82,79.24 599.08,77.7 600.37,76.22 601.72,74.81 603.11,73.47 604.55,72.19 606.03,71 607.55,69.88 609.12,68.85 610.72,67.91 612.37,67.06 614.06,66.3 615.78,65.64 617.54,65.08 619.34,64.61 621.16,64.23 623,63.94 624.87,63.74 626.76,63.62 628.66,63.59 630.58,63.64 632.51,63.77 634.45,63.98 636.39,64.26 638.33,64.62 640.27,65.05 642.21,65.56 644.14,66.13 646.05,66.77 647.96,67.47 649.85,68.24 651.71,69.07 653.56,69.95 655.38,70.9 657.17,71.9 658.93,72.96 660.65,74.07 662.34,75.23 663.99,76.44 665.59,77.69 667.14,78.99 668.65,80.34 670.1,81.72 671.51,83.15 672.87,84.61 674.18,86.11 675.45,87.65 676.67,89.22 677.85,90.82 678.99,92.46 680.08,94.13 681.14,95.82 682.15,97.54 683.13,99.29 684.07,101.07 684.98,102.86 685.85,104.68 686.68,106.52 687.49,108.38 688.26,110.25 689.01,112.15 689.72,114.05 690.41,115.97 691.07,117.9 691.7,119.85 692.31,121.8 692.89,123.76 693.46,125.73 694,127.7 694.52,129.67 695.02,131.65 695.5,133.63 695.97,135.61 696.42,137.58 696.85,139.56 697.26,141.55 697.66,143.53 698.04,145.51 698.41,147.49 698.76,149.47 699.1,151.46 699.42,153.44 699.73,155.43 700.02,157.41 700.3,159.4 700.56,161.39 700.82,163.38 701.06,165.36 701.28,167.35 701.5,169.34 701.7,171.33 701.9,173.32 702.08,175.32 702.25,177.31 702.41,179.3 702.56,181.29 702.7,183.29 702.84,185.28 702.96,187.28 703.07,189.27 703.18,191.27 703.28,193.27 703.37,195.26 703.45,197.26 703.53,199.26 703.6,201.26 703.66,203.26 703.72,205.26 703.77,207.26 703.82,209.26 703.86,211.26 703.9,213.26 703.93,215.26 703.96,217.27 703.99,219.27 704.01,221.27 704.03,223.28 704.05,225.28 704.06,227.29 704.07,229.29 704.09,231.3 704.1,233.31 704.11,235.32 704.11,237.32 704.12,239.33 704.13,241.34 704.14,243.35 704.15,245.36 704.16,247.37 704.18,249.38 704.19,251.39 704.21,253.4 704.22,255.41 704.24,257.42 704.26,259.43 704.29,261.45 704.31,263.46 704.33,265.47 704.36,267.49 704.38,269.5 704.41,271.51 704.44,273.53 704.47,275.54 704.49,277.55 704.53,279.57 704.56,281.58 704.59,283.6 704.62,285.61 704.65,287.63 704.69,289.64 704.72,291.66 704.75,293.67 704.79,295.68 704.82,297.7 704.86,299.71 704.89,301.73 704.93,303.74 704.97,305.75 705,307.77 705.04,309.78 705.07,311.79 705.11,313.81 705.14,315.82 705.18,317.83 705.22,319.85 705.25,321.86 705.28,323.87 705.32,325.88 705.35,327.89 705.38,329.9 705.42,331.91 705.45,333.92 705.48,335.93 705.51,337.94 705.54,339.95 705.57,341.95 705.6,343.96 705.62,345.97 705.65,347.97 705.67,349.98 705.7,351.98 705.72,353.99 705.74,355.99 705.76,357.99 705.78,360 705.8,362" stroke="#00f" stroke-width="2.5" fill="none"/>
</g>
<g>
<path d="M1102.94,362.3V357.2M1114.94,362.3V357.2M1126.93,362.3V357.2M1138.93,362.3V357.2M1150.92,362.3V351.7M1162.91,362.3V357.2M1174.91,362.3V357.2M1186.9,362.3V357.2M1198.9,362.3V357.2M1210.89,362.3V351.7M1222.89,362.3V357.2M1234.88,362.3V357.2M1246.87,362.3V357.2M1258.87,362.3V357.2M1270.86,362.3V351.7M1282.86,362.3V357.2M1294.85,362.3V357.2M1306.84,362.3V357.2M1318.84,362.3V357.2M1330.83,362.3V351.7M1342.83,362.3V357.2M1354.82,362.3V357.2M1366.81,362.3V357.2M1378.81,362.3V357.2M1390.8,362.3V351.7M1402.8,362.3V357.2M1414.79,362.3V357.2M1426.79,362.3V357.2M1438.78,362.3V357.2M1450.77,362.3V351.7M1462.77,362.3V357.2M1474.76,362.3V357.2M1486.76,362.3V357.2M1090.95,332.11H1097.05M1090.95,314.44H1097.05M1090.95,301.91H1097.05M1090.95,292.19H1097.05M1090.95,284.25H1097.05M1090.95,277.53H1097.05M1090.95,271.72H1097.05M1090.95,266.59H1097.05M1090.95,262H1103.25M1090.95,231.8H1097.05M1090.95,214.14H1097.05M1090.95,201.61H1097.05M1090.95,191.89H1097.05M1090.95,183.94H1097.05M1090.95,177.23H1097.05M1090.95,171.41H1097.05M1090.95,166.28H1097.05M1090.95,161.69H1103.25M1090.95,131.5H1097.05M1090.95,113.84H1097.05M1090.95,101.3H1097.05M1090.95,91.58H1097.05M1090.95,83.64H1097.05M1090.95,76.93H1097.05M1090.95,71.11H1097.05M1090.95,65.98H1097.05M1090.95,61.39H1103.25M1090.95,31.19H1097.05M1090.95,13.53H1097.05" stroke="#000" stroke-width="2.0" fill="none"/>
<rect x="1090.95" y="1" width="407.8" height="361.3" fill="none" stroke="#000" stroke-width="2.2"/>
<text x="1089.55" y="384.2" text-anchor="middle" font-size="20">0</text>
<text x="1149.52" y="384.2" text-anchor="middle" font-size="20">0.05</text>
<text x="1209.49" y="384.2" text-anchor="middle" font-size="20">0.1</text>
<text x="1269.46" y="384.2" text-anchor="middle" font-size="20">0.15</text>
<text x="1329.43" y="384.2" text-anchor="middle" font-size="20">0.2</text>
<text x="1389.4" y="384.2" text-anchor="middle" font-size="20">0.25</text>
<text x="1449.37" y="384.2" text-anchor="middle" font-size="20">0.3</text>
<text x="1085.25" y="369.5" text-anchor="end" font-size="20">1</text>
<text x="1085.25" y="269.2" text-anchor="end" font-size="20">10</text>
<text x="1084.45" y="171.09" text-anchor="end" font-size="20">10<tspan font-size="12.5" dy="-11">2</tspan></text>
<text x="1084.45" y="70.79" text-anchor="end" font-size="20">10<tspan font-size="12.5" dy="-11">3</tspan></text>
<text x="1294.25" y="409" text-anchor="middle" font-size="19.7">1/E<tspan font-size="12.8" dy="5.6">cm</tspan><tspan dy="-5.6"> (MeV</tspan><tspan font-size="12.8" dy="-8.4">-1</tspan><tspan dy="8.4">)</tspan></text>
<text transform="translate(1047.75,180.15) rotate(-90)" text-anchor="middle" font-size="20.6">σ<tspan font-size="13" dy="6">f</tspan><tspan dy="-6"> (mb)</tspan></text>
<text x="1334.95" y="61.8" font-size="21" font-weight="bold"><tspan font-size="12" dy="-9.7">18</tspan><tspan dy="9.7">O+</tspan><tspan font-size="12" dy="-9.7">12</tspan><tspan dy="9.7">C</tspan></text>
<path d="M1319.55,118.5H1344.25" stroke="#f00" stroke-width="2.6" stroke-dasharray="8,8"/>
<path d="M1319.55,160.4H1344.25" stroke="#f00" stroke-width="2.6"/>
<path d="M1319.55,202.5H1344.25" stroke="#00f" stroke-width="2.6"/>
<text x="1348.55" y="122" font-size="14">Our model (10 n)</text>
<text x="1348.55" y="164" font-size="14">Our model (15 n)</text>
<text x="1348.55" y="206" font-size="14">phen. for.</text>
<path d="M1262.6,217.1V227.1M1259.4,217.1H1265.8M1259.4,227.1H1265.8M1275,264.9V274.9M1271.8,264.9H1278.2M1271.8,274.9H1278.2" stroke="#000" stroke-width="2" fill="none"/>
<circle cx="1109" cy="66.1" r="4.3"/>
<circle cx="1113.2" cy="62" r="4.3"/>
<circle cx="1114.5" cy="59.2" r="4.3"/>
<circle cx="1120" cy="59.2" r="4.3"/>
<circle cx="1125.5" cy="56.4" r="4.3"/>
<circle cx="1133.8" cy="56.4" r="4.3"/>
<circle cx="1140.7" cy="55.1" r="4.3"/>
<circle cx="1146.2" cy="53.7" r="4.3"/>
<circle cx="1151.7" cy="52.3" r="4.3"/>
<circle cx="1155.8" cy="55.1" r="4.3"/>
<circle cx="1160" cy="59.2" r="4.3"/>
<circle cx="1165.5" cy="59.2" r="4.3"/>
<circle cx="1171" cy="63.3" r="4.3"/>
<circle cx="1175.1" cy="64.3" r="4.3"/>
<circle cx="1177.6" cy="66" r="4.3"/>
<circle cx="1175.1" cy="71.9" r="4.3"/>
<circle cx="1184.3" cy="74.4" r="4.3"/>
<circle cx="1191.5" cy="76.1" r="4.3"/>
<circle cx="1191.9" cy="80.3" r="4.3"/>
<circle cx="1204.5" cy="93.8" r="4.3"/>
<circle cx="1211.3" cy="99.7" r="4.3"/>
<circle cx="1216.8" cy="110.7" r="4.3"/>
<circle cx="1224.8" cy="114" r="4.3"/>
<circle cx="1231.5" cy="130" r="4.3"/>
<circle cx="1241.2" cy="152.8" r="4.3"/>
<circle cx="1250.5" cy="184.8" r="4.3"/>
<circle cx="1262.6" cy="222.1" r="4.3"/>
<circle cx="1275" cy="269.9" r="4.3"/>
<circle cx="1117" cy="60" r="4.3"/>
<circle cx="1129" cy="57" r="4.3"/>
<circle cx="1137" cy="56" r="4.3"/>
<circle cx="1143" cy="54" r="4.3"/>
<circle cx="1106" cy="67" r="4.3"/>
<path d="M1092.5,135L1093.06,133.02 1093.63,131.06 1094.22,129.11 1094.83,127.17 1095.46,125.25 1096.12,123.34 1096.8,121.44 1097.49,119.56 1098.22,117.7 1098.96,115.85 1099.73,114.01 1100.53,112.19 1101.35,110.38 1102.2,108.59 1103.07,106.81 1103.97,105.05 1104.9,103.31 1105.86,101.58 1106.84,99.86 1107.86,98.16 1108.9,96.48 1109.98,94.82 1111.09,93.17 1112.23,91.53 1113.4,89.92 1114.6,88.32 1115.84,86.73 1117.11,85.17 1118.42,83.62 1119.76,82.08 1121.14,80.57 1122.55,79.08 1124,77.62 1125.48,76.19 1126.99,74.79 1128.54,73.43 1130.12,72.1 1131.74,70.82 1133.39,69.58 1135.08,68.39 1136.79,67.25 1138.55,66.17 1140.33,65.14 1142.15,64.17 1144,63.26 1145.87,62.42 1147.76,61.65 1149.68,60.95 1151.6,60.33 1153.54,59.78 1155.48,59.32 1157.43,58.93 1159.37,58.64 1161.3,58.43 1163.23,58.31 1165.14,58.29 1167.03,58.37 1168.89,58.55 1170.74,58.83 1172.56,59.2 1174.36,59.67 1176.13,60.22 1177.88,60.86 1179.61,61.59 1181.31,62.39 1182.99,63.27 1184.65,64.22 1186.28,65.23 1187.89,66.32 1189.48,67.47 1191.04,68.67 1192.58,69.93 1194.09,71.25 1195.59,72.61 1197.05,74.02 1198.5,75.48 1199.92,76.97 1201.32,78.5 1202.69,80.06 1204.04,81.65 1205.37,83.26 1206.67,84.9 1207.95,86.56 1209.21,88.24 1210.44,89.92 1211.65,91.62 1212.83,93.33 1214,95.04 1215.14,96.75 1216.26,98.48 1217.35,100.21 1218.43,101.94 1219.49,103.68 1220.53,105.43 1221.55,107.18 1222.55,108.94 1223.54,110.7 1224.51,112.47 1225.47,114.24 1226.4,116.02 1227.33,117.8 1228.24,119.59 1229.14,121.38 1230.03,123.17 1230.9,124.97 1231.76,126.77 1232.62,128.58 1233.46,130.39 1234.29,132.2 1235.12,134.02 1235.94,135.84 1236.75,137.66 1237.55,139.49 1238.35,141.32 1239.14,143.15 1239.93,144.98 1240.72,146.82 1241.5,148.66 1242.27,150.5 1243.04,152.34 1243.81,154.19 1244.57,156.04 1245.32,157.89 1246.07,159.74 1246.82,161.6 1247.56,163.46 1248.3,165.32 1249.03,167.18 1249.76,169.04 1250.49,170.91 1251.21,172.78 1251.92,174.65 1252.64,176.52 1253.34,178.4 1254.05,180.28 1254.75,182.16 1255.44,184.04 1256.13,185.92 1256.82,187.81 1257.5,189.69 1258.18,191.58 1258.86,193.47 1259.53,195.36 1260.19,197.26 1260.86,199.16 1261.52,201.05 1262.17,202.95 1262.82,204.85 1263.47,206.76 1264.11,208.66 1264.75,210.57 1265.39,212.48 1266.02,214.38 1266.65,216.3 1267.28,218.21 1267.9,220.12 1268.52,222.04 1269.14,223.95 1269.75,225.87 1270.36,227.79 1270.96,229.71 1271.56,231.63 1272.16,233.56 1272.76,235.48 1273.35,237.41 1273.94,239.33 1274.52,241.26 1275.11,243.19 1275.69,245.12 1276.26,247.05 1276.83,248.99 1277.4,250.92 1277.97,252.85 1278.54,254.79 1279.1,256.73 1279.65,258.66 1280.21,260.6 1280.76,262.54 1281.31,264.48 1281.86,266.42 1282.4,268.37 1282.94,270.31 1283.48,272.25 1284.02,274.2 1284.55,276.14 1285.08,278.09 1285.61,280.03 1286.14,281.98 1286.66,283.93 1287.18,285.87 1287.7,287.82 1288.22,289.77 1288.73,291.72 1289.24,293.67 1289.75,295.62 1290.26,297.57 1290.76,299.52 1291.26,301.47 1291.76,303.43 1292.26,305.38 1292.76,307.33 1293.25,309.28 1293.74,311.24 1294.23,313.19 1294.72,315.14 1295.2,317.09 1295.69,319.05 1296.17,321 1296.65,322.96 1297.13,324.91 1297.6,326.86 1298.08,328.82 1298.55,330.77 1299.02,332.72 1299.49,334.68 1299.96,336.63 1300.43,338.58 1300.89,340.53 1301.35,342.49 1301.82,344.44 1302.28,346.39 1302.73,348.34 1303.19,350.29 1303.65,352.25 1304.1,354.2 1304.55,356.15 1305.01,358.1 1305.46,360.05 1305.91,361.99" stroke="#f00" stroke-width="2.5" fill="none" stroke-dasharray="8,8"/>
<path d="M1092.5,182.01L1092.69,179.87 1092.88,177.76 1093.07,175.68 1093.26,173.61 1093.46,171.56 1093.66,169.53 1093.86,167.52 1094.07,165.53 1094.28,163.54 1094.49,161.57 1094.71,159.62 1094.94,157.67 1095.17,155.73 1095.41,153.8 1095.66,151.88 1095.91,149.96 1096.18,148.05 1096.45,146.14 1096.73,144.23 1097.02,142.32 1097.32,140.41 1097.63,138.49 1097.95,136.58 1098.28,134.66 1098.62,132.73 1098.98,130.79 1099.35,128.85 1099.73,126.89 1100.13,124.92 1100.54,122.94 1100.96,120.95 1101.4,118.94 1101.86,116.92 1102.33,114.89 1102.82,112.84 1103.34,110.8 1103.87,108.75 1104.43,106.71 1105.01,104.67 1105.62,102.63 1106.25,100.6 1106.92,98.59 1107.61,96.59 1108.33,94.61 1109.09,92.66 1109.88,90.72 1110.71,88.81 1111.57,86.94 1112.47,85.09 1113.41,83.28 1114.39,81.51 1115.41,79.78 1116.47,78.09 1117.58,76.45 1118.74,74.86 1119.94,73.33 1121.19,71.84 1122.49,70.42 1123.84,69.06 1125.25,67.76 1126.71,66.53 1128.22,65.37 1129.79,64.28 1131.41,63.26 1133.08,62.33 1134.8,61.47 1136.55,60.7 1138.33,60.02 1140.15,59.42 1141.99,58.92 1143.85,58.51 1145.73,58.2 1147.62,57.98 1149.51,57.87 1151.41,57.87 1153.3,57.97 1155.19,58.18 1157.06,58.51 1158.92,58.94 1160.77,59.49 1162.59,60.14 1164.4,60.88 1166.19,61.71 1167.96,62.63 1169.71,63.63 1171.44,64.69 1173.14,65.83 1174.82,67.02 1176.48,68.27 1178.11,69.57 1179.71,70.91 1181.29,72.28 1182.83,73.69 1184.35,75.12 1185.84,76.58 1187.29,78.05 1188.72,79.54 1190.12,81.05 1191.49,82.57 1192.83,84.11 1194.15,85.67 1195.44,87.24 1196.7,88.83 1197.94,90.43 1199.16,92.05 1200.35,93.68 1201.52,95.33 1202.67,96.98 1203.79,98.65 1204.9,100.34 1205.98,102.03 1207.05,103.74 1208.09,105.45 1209.12,107.18 1210.13,108.91 1211.12,110.66 1212.1,112.41 1213.06,114.17 1214,115.94 1214.93,117.72 1215.85,119.5 1216.75,121.29 1217.65,123.09 1218.53,124.89 1219.39,126.7 1220.25,128.51 1221.1,130.33 1221.93,132.15 1222.76,133.97 1223.57,135.8 1224.38,137.64 1225.17,139.48 1225.95,141.32 1226.73,143.17 1227.49,145.02 1228.25,146.87 1228.99,148.73 1229.73,150.59 1230.46,152.46 1231.18,154.33 1231.88,156.2 1232.58,158.08 1233.28,159.96 1233.96,161.85 1234.63,163.74 1235.3,165.63 1235.95,167.52 1236.6,169.42 1237.25,171.32 1237.88,173.23 1238.5,175.13 1239.12,177.04 1239.73,178.95 1240.34,180.87 1240.93,182.79 1241.52,184.71 1242.1,186.63 1242.68,188.56 1243.25,190.49 1243.81,192.42 1244.36,194.35 1244.91,196.28 1245.45,198.22 1245.99,200.16 1246.52,202.1 1247.04,204.04 1247.56,205.99 1248.08,207.93 1248.58,209.88 1249.08,211.83 1249.58,213.78 1250.07,215.74 1250.56,217.69 1251.04,219.65 1251.52,221.6 1251.99,223.56 1252.46,225.52 1252.92,227.48 1253.38,229.44 1253.84,231.4 1254.29,233.36 1254.74,235.33 1255.18,237.29 1255.62,239.26 1256.06,241.22 1256.49,243.19 1256.92,245.15 1257.35,247.12 1257.77,249.09 1258.19,251.05 1258.61,253.02 1259.02,254.99 1259.43,256.96 1259.84,258.93 1260.24,260.9 1260.64,262.87 1261.04,264.84 1261.43,266.81 1261.82,268.78 1262.21,270.75 1262.6,272.73 1262.98,274.7 1263.36,276.67 1263.73,278.65 1264.11,280.62 1264.48,282.6 1264.84,284.57 1265.21,286.55 1265.57,288.53 1265.93,290.5 1266.28,292.48 1266.63,294.46 1266.98,296.44 1267.33,298.41 1267.67,300.39 1268.01,302.37 1268.35,304.35 1268.69,306.33 1269.02,308.32 1269.35,310.3 1269.68,312.28 1270,314.26 1270.32,316.25 1270.64,318.23 1270.96,320.21 1271.27,322.2 1271.58,324.18 1271.89,326.17 1272.19,328.16 1272.5,330.14 1272.8,332.13 1273.1,334.12 1273.39,336.11 1273.68,338.09 1273.97,340.08 1274.26,342.07 1274.55,344.06 1274.83,346.05 1275.11,348.05 1275.39,350.04 1275.66,352.03 1275.94,354.02 1276.21,356.02 1276.48,358.01 1276.74,360 1277.01,362" stroke="#f00" stroke-width="2.5" fill="none"/>
<path d="M1092.5,179L1092.71,176.93 1092.91,174.87 1093.1,172.83 1093.26,170.79 1093.42,168.77 1093.56,166.76 1093.69,164.76 1093.82,162.76 1093.93,160.77 1094.04,158.79 1094.15,156.82 1094.25,154.85 1094.36,152.88 1094.46,150.92 1094.56,148.96 1094.67,147 1094.79,145.04 1094.91,143.08 1095.04,141.12 1095.18,139.16 1095.33,137.2 1095.49,135.23 1095.67,133.26 1095.86,131.28 1096.08,129.3 1096.31,127.31 1096.56,125.31 1096.83,123.3 1097.13,121.29 1097.45,119.26 1097.8,117.22 1098.18,115.18 1098.59,113.12 1099.03,111.07 1099.49,109.02 1099.99,106.97 1100.53,104.92 1101.09,102.89 1101.7,100.86 1102.34,98.86 1103.01,96.87 1103.73,94.9 1104.48,92.95 1105.27,91.03 1106.11,89.14 1106.98,87.29 1107.9,85.47 1108.86,83.68 1109.87,81.94 1110.93,80.25 1112.03,78.6 1113.18,77 1114.38,75.45 1115.63,73.96 1116.93,72.53 1118.29,71.16 1119.69,69.86 1121.15,68.62 1122.67,67.46 1124.24,66.37 1125.86,65.35 1127.54,64.41 1129.25,63.55 1131.01,62.77 1132.8,62.08 1134.62,61.47 1136.47,60.94 1138.35,60.51 1140.24,60.16 1142.15,59.91 1144.08,59.75 1146.01,59.69 1147.95,59.73 1149.89,59.87 1151.82,60.11 1153.75,60.44 1155.67,60.88 1157.58,61.4 1159.48,62.02 1161.36,62.71 1163.22,63.48 1165.07,64.33 1166.89,65.25 1168.68,66.23 1170.45,67.27 1172.19,68.37 1173.9,69.53 1175.58,70.73 1177.21,71.97 1178.81,73.26 1180.37,74.58 1181.89,75.94 1183.37,77.34 1184.81,78.76 1186.21,80.22 1187.58,81.71 1188.91,83.22 1190.2,84.77 1191.46,86.34 1192.68,87.95 1193.87,89.57 1195.02,91.22 1196.14,92.9 1197.23,94.59 1198.28,96.31 1199.31,98.05 1200.3,99.81 1201.26,101.59 1202.2,103.38 1203.1,105.19 1203.98,107.01 1204.83,108.85 1205.65,110.7 1206.45,112.57 1207.22,114.44 1207.97,116.33 1208.69,118.22 1209.39,120.12 1210.06,122.03 1210.72,123.94 1211.35,125.86 1211.95,127.78 1212.54,129.7 1213.11,131.63 1213.66,133.56 1214.19,135.5 1214.69,137.44 1215.18,139.38 1215.65,141.33 1216.11,143.28 1216.54,145.23 1216.96,147.19 1217.36,149.15 1217.74,151.11 1218.11,153.08 1218.46,155.05 1218.79,157.02 1219.11,158.99 1219.42,160.97 1219.71,162.95 1219.98,164.93 1220.25,166.92 1220.5,168.9 1220.73,170.89 1220.96,172.88 1221.17,174.88 1221.37,176.87 1221.56,178.87 1221.74,180.87 1221.91,182.87 1222.06,184.87 1222.21,186.87 1222.35,188.88 1222.48,190.89 1222.6,192.89 1222.71,194.9 1222.82,196.91 1222.92,198.93 1223.01,200.94 1223.09,202.95 1223.17,204.97 1223.24,206.98 1223.31,209 1223.37,211.02 1223.42,213.04 1223.48,215.05 1223.52,217.07 1223.57,219.09 1223.61,221.11 1223.65,223.13 1223.68,225.15 1223.72,227.17 1223.75,229.19 1223.78,231.21 1223.81,233.23 1223.84,235.25 1223.87,237.27 1223.9,239.29 1223.93,241.3 1223.96,243.32 1224,245.34 1224.03,247.35 1224.07,249.37 1224.1,251.38 1224.14,253.4 1224.18,255.41 1224.22,257.43 1224.26,259.44 1224.31,261.45 1224.35,263.46 1224.4,265.47 1224.44,267.48 1224.49,269.49 1224.53,271.5 1224.58,273.51 1224.63,275.52 1224.67,277.53 1224.72,279.54 1224.77,281.55 1224.82,283.56 1224.87,285.57 1224.91,287.57 1224.96,289.58 1225.01,291.59 1225.06,293.6 1225.1,295.61 1225.15,297.61 1225.19,299.62 1225.24,301.63 1225.28,303.64 1225.33,305.65 1225.37,307.65 1225.41,309.66 1225.45,311.67 1225.49,313.68 1225.53,315.69 1225.57,317.7 1225.6,319.71 1225.63,321.71 1225.67,323.72 1225.7,325.73 1225.73,327.74 1225.76,329.76 1225.78,331.77 1225.8,333.78 1225.83,335.79 1225.85,337.8 1225.86,339.82 1225.88,341.83 1225.89,343.84 1225.9,345.86 1225.91,347.87 1225.92,349.89 1225.92,351.91 1225.92,353.92 1225.92,355.94 1225.91,357.96 1225.9,359.98 1225.89,362" stroke="#00f" stroke-width="2.5" fill="none"/>
</g>
<g>
<path d="M74.94,818.97V813.87M91.93,818.97V813.87M108.93,818.97V813.87M125.92,818.97V813.87M142.91,818.97V808.37M159.9,818.97V813.87M176.89,818.97V813.87M193.88,818.97V813.87M210.88,818.97V813.87M227.87,818.97V808.37M244.86,818.97V813.87M261.85,818.97V813.87M278.84,818.97V813.87M295.83,818.97V813.87M312.82,818.97V808.37M329.82,818.97V813.87M346.81,818.97V813.87M363.8,818.97V813.87M380.79,818.97V813.87M397.78,818.97V808.37M414.77,818.97V813.87M431.77,818.97V813.87M448.76,818.97V813.87M57.95,795.34H64.05M57.95,781.51H64.05M57.95,771.7H64.05M57.95,764.1H64.05M57.95,757.88H64.05M57.95,752.62H64.05M57.95,748.07H64.05M57.95,744.05H64.05M57.95,740.46H70.25M57.95,716.83H64.05M57.95,703H64.05M57.95,693.19H64.05M57.95,685.59H64.05M57.95,679.37H64.05M57.95,674.11H64.05M57.95,669.56H64.05M57.95,665.55H64.05M57.95,661.95H70.25M57.95,638.32H64.05M57.95,624.5H64.05M57.95,614.69H64.05M57.95,607.08H64.05M57.95,600.86H64.05M57.95,595.61H64.05M57.95,591.05H64.05M57.95,587.04H64.05M57.95,583.45H70.25M57.95,559.81H64.05M57.95,545.99H64.05M57.95,536.18H64.05M57.95,528.57H64.05M57.95,522.35H64.05M57.95,517.1H64.05M57.95,512.54H64.05M57.95,508.53H64.05M57.95,504.94H70.25M57.95,481.3H64.05M57.95,467.48H64.05" stroke="#000" stroke-width="2.0" fill="none"/>
<rect x="57.95" y="457.67" width="407.8" height="361.3" fill="none" stroke="#000" stroke-width="2.2"/>
<text x="56.55" y="836.67" text-anchor="middle" font-size="20">0</text>
<text x="141.51" y="836.67" text-anchor="middle" font-size="20">0.05</text>
<text x="226.47" y="836.67" text-anchor="middle" font-size="20">0.1</text>
<text x="311.43" y="836.67" text-anchor="middle" font-size="20">0.15</text>
<text x="396.38" y="836.67" text-anchor="middle" font-size="20">0.2</text>
<text x="40.55" y="826.87" text-anchor="end" font-size="20">10</text>
<path d="M39.55,814.47H45.75" stroke="#000" stroke-width="1.3"/>
<text x="52.35" y="817.87" text-anchor="end" font-size="12.5">1</text>
<text x="52.25" y="747.66" text-anchor="end" font-size="20">1</text>
<text x="52.25" y="669.15" text-anchor="end" font-size="20">10</text>
<text x="51.45" y="592.85" text-anchor="end" font-size="20">10<tspan font-size="12.5" dy="-11">2</tspan></text>
<text x="51.45" y="514.34" text-anchor="end" font-size="20">10<tspan font-size="12.5" dy="-11">3</tspan></text>
<text x="261.25" y="861.27" text-anchor="middle" font-size="19.7">1/E<tspan font-size="12.8" dy="5.6">cm</tspan><tspan dy="-5.6"> (MeV</tspan><tspan font-size="12.8" dy="-8.4">-1</tspan><tspan dy="8.4">)</tspan></text>
<text transform="translate(14.75,636.82) rotate(-90)" text-anchor="middle" font-size="20.6">σ<tspan font-size="13" dy="6">f</tspan><tspan dy="-6"> (mb)</tspan></text>
<text x="301.95" y="504.17" font-size="21" font-weight="bold"><tspan font-size="12" dy="-9.7">16</tspan><tspan dy="9.7">O+</tspan><tspan font-size="12" dy="-9.7">16</tspan><tspan dy="9.7">O</tspan></text>
<path d="M286.55,575.17H311.25" stroke="#f00" stroke-width="2.6" stroke-dasharray="8,8"/>
<path d="M286.55,617.07H311.25" stroke="#f00" stroke-width="2.6"/>
<path d="M286.55,659.17H311.25" stroke="#00f" stroke-width="2.6"/>
<text x="315.55" y="578.67" font-size="14">Our model (10 n)</text>
<text x="315.55" y="620.67" font-size="14">Our model (15 n)</text>
<text x="315.55" y="662.67" font-size="14">phen. for.</text>
<path d="M212.8,592.9V608.9M209.6,592.9H216M209.6,608.9H216M227.6,612.1V771.6M224.4,612.1H230.8M224.4,771.6H230.8M245.4,614.4V702M242.2,614.4H248.6M242.2,702H248.6M263.3,728.6V733.6M260.1,733.6H266.5" stroke="#000" stroke-width="2" fill="none"/>
<circle cx="212.8" cy="600.9" r="4.3"/>
<circle cx="227.6" cy="631.1" r="4.3"/>
<circle cx="245.4" cy="630.4" r="4.3"/>
<circle cx="263.3" cy="728.6" r="4.3"/>
<circle cx="199.5" cy="571.4" r="4.3"/>
<circle cx="81" cy="503" r="4.3"/>
<circle cx="84.5" cy="502.75" r="4.3"/>
<circle cx="88" cy="502.5" r="4.3"/>
<circle cx="99" cy="500" r="4.3"/>
<circle cx="101.5" cy="500" r="4.3"/>
<circle cx="104" cy="500" r="4.3"/>
<circle cx="106.5" cy="500" r="4.3"/>
<circle cx="109" cy="500" r="4.3"/>
<circle cx="111.5" cy="500" r="4.3"/>
<circle cx="114" cy="500" r="4.3"/>
<circle cx="116.5" cy="500" r="4.3"/>
<circle cx="119" cy="500" r="4.3"/>
<circle cx="121.5" cy="500" r="4.3"/>
<circle cx="124" cy="500" r="4.3"/>
<circle cx="100" cy="511" r="4.3"/>
<circle cx="102.54" cy="510.92" r="4.3"/>
<circle cx="105.08" cy="510.85" r="4.3"/>
<circle cx="107.62" cy="510.77" r="4.3"/>
<circle cx="110.15" cy="510.69" r="4.3"/>
<circle cx="112.69" cy="510.62" r="4.3"/>
<circle cx="115.23" cy="510.54" r="4.3"/>
<circle cx="117.77" cy="510.46" r="4.3"/>
<circle cx="120.31" cy="510.38" r="4.3"/>
<circle cx="122.85" cy="510.31" r="4.3"/>
<circle cx="125.38" cy="510.23" r="4.3"/>
<circle cx="127.92" cy="510.15" r="4.3"/>
<circle cx="130.46" cy="510.08" r="4.3"/>
<circle cx="133" cy="510" r="4.3"/>
<circle cx="133" cy="508" r="4.3"/>
<circle cx="135.5" cy="508.33" r="4.3"/>
<circle cx="138" cy="508.67" r="4.3"/>
<circle cx="140.5" cy="509" r="4.3"/>
<circle cx="143" cy="509.33" r="4.3"/>
<circle cx="145.5" cy="509.67" r="4.3"/>
<circle cx="148" cy="510" r="4.3"/>
<circle cx="150.6" cy="510.8" r="4.3"/>
<circle cx="153.2" cy="511.6" r="4.3"/>
<circle cx="155.8" cy="512.4" r="4.3"/>
<circle cx="158.4" cy="513.2" r="4.3"/>
<circle cx="161" cy="514" r="4.3"/>
<circle cx="163.6" cy="515.4" r="4.3"/>
<circle cx="166.2" cy="516.8" r="4.3"/>
<circle cx="168.8" cy="518.2" r="4.3"/>
<circle cx="171.4" cy="519.6" r="4.3"/>
<circle cx="174" cy="521" r="4.3"/>
<circle cx="176" cy="522.5" r="4.3"/>
<circle cx="178" cy="524" r="4.3"/>
<circle cx="180" cy="525.5" r="4.3"/>
<circle cx="182" cy="527" r="4.3"/>
<circle cx="136" cy="514" r="4.3"/>
<circle cx="138.4" cy="515" r="4.3"/>
<circle cx="140.8" cy="516" r="4.3"/>
<circle cx="143.2" cy="517" r="4.3"/>
<circle cx="145.6" cy="518" r="4.3"/>
<circle cx="148" cy="519" r="4.3"/>
<circle cx="150.6" cy="520" r="4.3"/>
<circle cx="153.2" cy="521" r="4.3"/>
<circle cx="155.8" cy="522" r="4.3"/>
<circle cx="158.4" cy="523" r="4.3"/>
<circle cx="161" cy="524" r="4.3"/>
<circle cx="163.2" cy="525.4" r="4.3"/>
<circle cx="165.4" cy="526.8" r="4.3"/>
<circle cx="167.6" cy="528.2" r="4.3"/>
<circle cx="169.8" cy="529.6" r="4.3"/>
<circle cx="172" cy="531" r="4.3"/>
<circle cx="174" cy="532.75" r="4.3"/>
<circle cx="176" cy="534.5" r="4.3"/>
<circle cx="178" cy="536.25" r="4.3"/>
<circle cx="180" cy="538" r="4.3"/>
<circle cx="138" cy="517" r="4.3"/>
<circle cx="140.5" cy="518.5" r="4.3"/>
<circle cx="143" cy="520" r="4.3"/>
<circle cx="145.5" cy="521.5" r="4.3"/>
<circle cx="148" cy="523" r="4.3"/>
<circle cx="150.5" cy="524.25" r="4.3"/>
<circle cx="153" cy="525.5" r="4.3"/>
<circle cx="155.5" cy="526.75" r="4.3"/>
<circle cx="158" cy="528" r="4.3"/>
<circle cx="160.25" cy="529.25" r="4.3"/>
<circle cx="162.5" cy="530.5" r="4.3"/>
<circle cx="164.75" cy="531.75" r="4.3"/>
<circle cx="167" cy="533" r="4.3"/>
<circle cx="169.25" cy="535" r="4.3"/>
<circle cx="171.5" cy="537" r="4.3"/>
<circle cx="173.75" cy="539" r="4.3"/>
<circle cx="176" cy="541" r="4.3"/>
<circle cx="178" cy="543.5" r="4.3"/>
<circle cx="180" cy="546" r="4.3"/>
<circle cx="179.8" cy="504" r="4.3"/>
<circle cx="182.6" cy="506.1" r="4.3"/>
<circle cx="185.4" cy="508.2" r="4.3"/>
<circle cx="187.55" cy="510.35" r="4.3"/>
<circle cx="189.7" cy="512.5" r="4.3"/>
<circle cx="191.1" cy="514.95" r="4.3"/>
<circle cx="192.5" cy="517.4" r="4.3"/>
<circle cx="193.9" cy="519.85" r="4.3"/>
<circle cx="195.3" cy="522.3" r="4.3"/>
<circle cx="197.05" cy="524.75" r="4.3"/>
<circle cx="198.8" cy="527.2" r="4.3"/>
<circle cx="200.55" cy="529.65" r="4.3"/>
<circle cx="202.3" cy="532.1" r="4.3"/>
<circle cx="203.42" cy="534.34" r="4.3"/>
<circle cx="204.54" cy="536.58" r="4.3"/>
<circle cx="205.66" cy="538.82" r="4.3"/>
<circle cx="206.78" cy="541.06" r="4.3"/>
<circle cx="207.9" cy="543.3" r="4.3"/>
<circle cx="209.02" cy="545.56" r="4.3"/>
<circle cx="210.14" cy="547.82" r="4.3"/>
<circle cx="211.26" cy="550.08" r="4.3"/>
<circle cx="212.38" cy="552.34" r="4.3"/>
<circle cx="213.5" cy="554.6" r="4.3"/>
<circle cx="214.62" cy="557.12" r="4.3"/>
<circle cx="215.74" cy="559.64" r="4.3"/>
<circle cx="216.86" cy="562.16" r="4.3"/>
<circle cx="217.98" cy="564.68" r="4.3"/>
<circle cx="219.1" cy="567.2" r="4.3"/>
<circle cx="219.66" cy="569.72" r="4.3"/>
<circle cx="220.22" cy="572.24" r="4.3"/>
<circle cx="220.78" cy="574.76" r="4.3"/>
<circle cx="221.34" cy="577.28" r="4.3"/>
<circle cx="221.9" cy="579.8" r="4.3"/>
<circle cx="222.74" cy="582.62" r="4.3"/>
<circle cx="223.58" cy="585.44" r="4.3"/>
<circle cx="224.42" cy="588.26" r="4.3"/>
<circle cx="225.26" cy="591.08" r="4.3"/>
<circle cx="226.1" cy="593.9" r="4.3"/>
<circle cx="227.05" cy="596.47" r="4.3"/>
<circle cx="228" cy="599.03" r="4.3"/>
<circle cx="228.95" cy="601.6" r="4.3"/>
<circle cx="229.9" cy="604.17" r="4.3"/>
<circle cx="230.85" cy="606.73" r="4.3"/>
<circle cx="231.8" cy="609.3" r="4.3"/>
<circle cx="232.73" cy="611.88" r="4.3"/>
<circle cx="233.67" cy="614.47" r="4.3"/>
<circle cx="234.6" cy="617.05" r="4.3"/>
<circle cx="235.53" cy="619.63" r="4.3"/>
<circle cx="236.47" cy="622.22" r="4.3"/>
<circle cx="237.4" cy="624.8" r="4.3"/>
<circle cx="238.24" cy="627.6" r="4.3"/>
<circle cx="239.08" cy="630.4" r="4.3"/>
<circle cx="239.92" cy="633.2" r="4.3"/>
<circle cx="240.76" cy="636" r="4.3"/>
<circle cx="241.6" cy="638.8" r="4.3"/>
<circle cx="242.3" cy="641.6" r="4.3"/>
<circle cx="243" cy="644.4" r="4.3"/>
<circle cx="243.7" cy="647.22" r="4.3"/>
<circle cx="244.4" cy="650.03" r="4.3"/>
<circle cx="245.1" cy="652.85" r="4.3"/>
<circle cx="245.8" cy="655.67" r="4.3"/>
<circle cx="246.5" cy="658.48" r="4.3"/>
<circle cx="247.2" cy="661.3" r="4.3"/>
<circle cx="247.9" cy="663.87" r="4.3"/>
<circle cx="248.6" cy="666.43" r="4.3"/>
<circle cx="249.3" cy="669" r="4.3"/>
<circle cx="250" cy="671.57" r="4.3"/>
<circle cx="250.7" cy="674.13" r="4.3"/>
<circle cx="251.4" cy="676.7" r="4.3"/>
<circle cx="251.87" cy="679.5" r="4.3"/>
<circle cx="252.33" cy="682.3" r="4.3"/>
<circle cx="252.8" cy="685.1" r="4.3"/>
<circle cx="253.27" cy="687.9" r="4.3"/>
<circle cx="253.73" cy="690.7" r="4.3"/>
<circle cx="254.2" cy="693.5" r="4.3"/>
<circle cx="255.6" cy="695.87" r="4.3"/>
<circle cx="257" cy="698.23" r="4.3"/>
<circle cx="258.4" cy="700.6" r="4.3"/>
<circle cx="259.33" cy="702.93" r="4.3"/>
<circle cx="260.27" cy="705.27" r="4.3"/>
<circle cx="261.2" cy="707.6" r="4.3"/>
<circle cx="261.8" cy="710.4" r="4.3"/>
<circle cx="262.4" cy="713.2" r="4.3"/>
<circle cx="263" cy="716" r="4.3"/>
<circle cx="263.07" cy="718.5" r="4.3"/>
<circle cx="263.15" cy="721" r="4.3"/>
<circle cx="263.23" cy="723.5" r="4.3"/>
<circle cx="263.3" cy="726" r="4.3"/>
<circle cx="184" cy="515" r="4.3"/>
<circle cx="186" cy="517.33" r="4.3"/>
<circle cx="188" cy="519.67" r="4.3"/>
<circle cx="190" cy="522" r="4.3"/>
<circle cx="191.5" cy="524" r="4.3"/>
<circle cx="193" cy="526" r="4.3"/>
<circle cx="194.5" cy="528" r="4.3"/>
<circle cx="196" cy="530" r="4.3"/>
<circle cx="197.5" cy="532.5" r="4.3"/>
<circle cx="199" cy="535" r="4.3"/>
<circle cx="200.5" cy="537.5" r="4.3"/>
<circle cx="202" cy="540" r="4.3"/>
<circle cx="203.2" cy="542.2" r="4.3"/>
<circle cx="204.4" cy="544.4" r="4.3"/>
<circle cx="205.6" cy="546.6" r="4.3"/>
<circle cx="206.8" cy="548.8" r="4.3"/>
<circle cx="208" cy="551" r="4.3"/>
<circle cx="209.2" cy="553.4" r="4.3"/>
<circle cx="210.4" cy="555.8" r="4.3"/>
<circle cx="211.6" cy="558.2" r="4.3"/>
<circle cx="212.8" cy="560.6" r="4.3"/>
<circle cx="214" cy="563" r="4.3"/>
<circle cx="214.8" cy="565.4" r="4.3"/>
<circle cx="215.6" cy="567.8" r="4.3"/>
<circle cx="216.4" cy="570.2" r="4.3"/>
<circle cx="217.2" cy="572.6" r="4.3"/>
<circle cx="218" cy="575" r="4.3"/>
<circle cx="218.8" cy="577.6" r="4.3"/>
<circle cx="219.6" cy="580.2" r="4.3"/>
<circle cx="220.4" cy="582.8" r="4.3"/>
<circle cx="221.2" cy="585.4" r="4.3"/>
<circle cx="222" cy="588" r="4.3"/>
<circle cx="223.2" cy="590.4" r="4.3"/>
<circle cx="224.4" cy="592.8" r="4.3"/>
<circle cx="225.6" cy="595.2" r="4.3"/>
<circle cx="226.8" cy="597.6" r="4.3"/>
<circle cx="228" cy="600" r="4.3"/>
<circle cx="229" cy="602.33" r="4.3"/>
<circle cx="230" cy="604.67" r="4.3"/>
<circle cx="231" cy="607" r="4.3"/>
<circle cx="232" cy="609.33" r="4.3"/>
<circle cx="233" cy="611.67" r="4.3"/>
<circle cx="234" cy="614" r="4.3"/>
<circle cx="234.8" cy="616.8" r="4.3"/>
<circle cx="235.6" cy="619.6" r="4.3"/>
<circle cx="236.4" cy="622.4" r="4.3"/>
<circle cx="237.2" cy="625.2" r="4.3"/>
<circle cx="238" cy="628" r="4.3"/>
<circle cx="182" cy="535" r="4.3"/>
<circle cx="183.5" cy="537.5" r="4.3"/>
<circle cx="185" cy="540" r="4.3"/>
<circle cx="186.5" cy="542.5" r="4.3"/>
<circle cx="188" cy="545" r="4.3"/>
<circle cx="190" cy="546.75" r="4.3"/>
<circle cx="192" cy="548.5" r="4.3"/>
<circle cx="194" cy="550.25" r="4.3"/>
<circle cx="196" cy="552" r="4.3"/>
<circle cx="197.33" cy="554.67" r="4.3"/>
<circle cx="198.67" cy="557.33" r="4.3"/>
<circle cx="200" cy="560" r="4.3"/>
<circle cx="245" cy="652" r="4.3"/>
<circle cx="245.71" cy="654.57" r="4.3"/>
<circle cx="246.43" cy="657.14" r="4.3"/>
<circle cx="247.14" cy="659.71" r="4.3"/>
<circle cx="247.86" cy="662.29" r="4.3"/>
<circle cx="248.57" cy="664.86" r="4.3"/>
<circle cx="249.29" cy="667.43" r="4.3"/>
<circle cx="250" cy="670" r="4.3"/>
<circle cx="250.67" cy="672.67" r="4.3"/>
<circle cx="251.33" cy="675.33" r="4.3"/>
<circle cx="252" cy="678" r="4.3"/>
<circle cx="252.67" cy="680.67" r="4.3"/>
<circle cx="253.33" cy="683.33" r="4.3"/>
<circle cx="254" cy="686" r="4.3"/>
<circle cx="254.62" cy="688.5" r="4.3"/>
<circle cx="255.25" cy="691" r="4.3"/>
<circle cx="255.88" cy="693.5" r="4.3"/>
<circle cx="256.5" cy="696" r="4.3"/>
<circle cx="257.12" cy="698.5" r="4.3"/>
<circle cx="257.75" cy="701" r="4.3"/>
<circle cx="258.38" cy="703.5" r="4.3"/>
<circle cx="259" cy="706" r="4.3"/>
<circle cx="260" cy="708.8" r="4.3"/>
<circle cx="261" cy="711.6" r="4.3"/>
<circle cx="262" cy="714.4" r="4.3"/>
<circle cx="263" cy="717.2" r="4.3"/>
<circle cx="264" cy="720" r="4.3"/>
<path d="M59.51,562L60.68,560.5 61.85,558.97 63.01,557.4 64.16,555.81 65.3,554.2 66.44,552.57 67.58,550.92 68.73,549.25 69.87,547.57 71.01,545.89 72.16,544.19 73.32,542.5 74.49,540.81 75.66,539.12 76.85,537.43 78.06,535.76 79.28,534.1 80.51,532.45 81.77,530.83 83.04,529.22 84.34,527.64 85.67,526.09 87.02,524.57 88.4,523.08 89.81,521.63 91.24,520.22 92.72,518.86 94.23,517.54 95.77,516.27 97.35,515.05 98.98,513.88 100.64,512.78 102.33,511.72 104.06,510.73 105.82,509.78 107.61,508.9 109.43,508.07 111.27,507.3 113.14,506.59 115.02,505.93 116.93,505.33 118.85,504.79 120.79,504.31 122.74,503.88 124.71,503.52 126.68,503.21 128.65,502.96 130.64,502.77 132.62,502.65 134.61,502.58 136.59,502.57 138.57,502.62 140.55,502.74 142.51,502.91 144.47,503.15 146.42,503.45 148.35,503.81 150.27,504.23 152.16,504.71 154.04,505.26 155.9,505.87 157.73,506.54 159.55,507.27 161.34,508.06 163.11,508.9 164.86,509.8 166.59,510.74 168.3,511.74 169.98,512.78 171.65,513.87 173.3,515 174.93,516.17 176.53,517.39 178.12,518.64 179.69,519.92 181.24,521.24 182.77,522.6 184.28,523.98 185.77,525.39 187.24,526.82 188.7,528.28 190.14,529.77 191.55,531.27 192.95,532.79 194.34,534.33 195.7,535.88 197.05,537.45 198.38,539.02 199.69,540.61 200.99,542.2 202.26,543.8 203.53,545.4 204.77,547.01 206,548.62 207.22,550.24 208.42,551.86 209.6,553.49 210.77,555.12 211.93,556.76 213.07,558.41 214.2,560.06 215.32,561.71 216.42,563.38 217.52,565.04 218.6,566.71 219.67,568.39 220.72,570.08 221.77,571.77 222.81,573.46 223.83,575.16 224.85,576.87 225.85,578.58 226.85,580.3 227.84,582.02 228.82,583.75 229.79,585.48 230.76,587.22 231.72,588.97 232.67,590.72 233.61,592.48 234.55,594.25 235.48,596.02 236.4,597.79 237.32,599.57 238.23,601.36 239.13,603.15 240.03,604.95 240.92,606.75 241.8,608.55 242.67,610.37 243.54,612.18 244.4,614 245.25,615.83 246.1,617.66 246.94,619.49 247.77,621.32 248.59,623.17 249.4,625.01 250.21,626.86 251.01,628.71 251.8,630.57 252.58,632.42 253.36,634.29 254.12,636.15 254.88,638.02 255.63,639.89 256.37,641.76 257.11,643.64 257.83,645.51 258.55,647.4 259.26,649.28 259.96,651.16 260.66,653.05 261.34,654.94 262.02,656.83 262.69,658.72 263.36,660.62 264.02,662.52 264.67,664.41 265.32,666.32 265.96,668.22 266.6,670.12 267.23,672.03 267.86,673.93 268.48,675.84 269.1,677.75 269.72,679.66 270.33,681.57 270.94,683.48 271.54,685.4 272.14,687.31 272.74,689.23 273.33,691.14 273.93,693.06 274.52,694.97 275.11,696.89 275.7,698.81 276.29,700.73 276.87,702.65 277.46,704.57 278.04,706.49 278.62,708.41 279.21,710.33 279.79,712.25 280.37,714.17 280.94,716.1 281.52,718.02 282.09,719.94 282.67,721.87 283.24,723.79 283.81,725.72 284.38,727.64 284.95,729.57 285.51,731.49 286.08,733.42 286.64,735.35 287.2,737.28 287.76,739.2 288.31,741.13 288.87,743.06 289.42,744.99 289.97,746.93 290.52,748.86 291.07,750.79 291.61,752.72 292.16,754.66 292.7,756.59 293.24,758.52 293.77,760.46 294.31,762.4 294.84,764.33 295.37,766.27 295.9,768.21 296.42,770.15 296.94,772.09 297.46,774.03 297.98,775.97 298.5,777.91 299.01,779.85 299.52,781.8 300.02,783.74 300.53,785.69 301.03,787.63 301.53,789.58 302.02,791.53 302.52,793.48 303.01,795.42 303.49,797.37 303.98,799.33 304.46,801.28 304.94,803.23 305.41,805.18 305.89,807.14 306.35,809.09 306.82,811.05 307.28,813" stroke="#f00" stroke-width="2.5" fill="none" stroke-dasharray="8,8"/>
<path d="M59.5,598L59.72,596.02 59.94,594.04 60.17,592.07 60.41,590.09 60.65,588.12 60.9,586.14 61.15,584.17 61.42,582.19 61.69,580.22 61.98,578.24 62.27,576.26 62.58,574.28 62.89,572.3 63.22,570.31 63.56,568.32 63.92,566.33 64.28,564.33 64.67,562.33 65.07,560.33 65.49,558.32 65.93,556.32 66.39,554.32 66.88,552.32 67.39,550.33 67.93,548.35 68.49,546.37 69.09,544.4 69.72,542.44 70.38,540.5 71.07,538.56 71.81,536.64 72.58,534.74 73.39,532.85 74.24,530.98 75.13,529.14 76.07,527.32 77.05,525.54 78.08,523.79 79.16,522.08 80.29,520.42 81.47,518.81 82.7,517.25 83.98,515.75 85.32,514.31 86.72,512.94 88.17,511.64 89.69,510.42 91.26,509.27 92.89,508.21 94.59,507.24 96.34,506.35 98.14,505.54 99.99,504.82 101.89,504.17 103.82,503.59 105.78,503.09 107.77,502.65 109.79,502.29 111.82,501.99 113.87,501.75 115.93,501.57 117.99,501.45 120.05,501.38 122.11,501.37 124.15,501.4 126.19,501.49 128.2,501.62 130.21,501.8 132.19,502.02 134.17,502.29 136.12,502.61 138.07,502.96 139.99,503.36 141.91,503.81 143.8,504.29 145.69,504.82 147.55,505.38 149.41,505.99 151.24,506.63 153.07,507.32 154.87,508.04 156.67,508.79 158.45,509.59 160.21,510.41 161.96,511.28 163.69,512.18 165.41,513.11 167.12,514.07 168.8,515.07 170.48,516.1 172.14,517.16 173.78,518.24 175.42,519.36 177.03,520.51 178.63,521.69 180.22,522.89 181.79,524.12 183.35,525.37 184.89,526.66 186.42,527.96 187.93,529.29 189.43,530.65 190.92,532.02 192.39,533.42 193.84,534.84 195.28,536.28 196.71,537.74 198.12,539.22 199.52,540.72 200.9,542.23 202.27,543.77 203.62,545.32 204.96,546.88 206.29,548.46 207.6,550.06 208.89,551.67 210.17,553.29 211.44,554.93 212.7,556.58 213.93,558.23 215.16,559.9 216.37,561.58 217.57,563.27 218.75,564.97 219.91,566.67 221.07,568.38 222.21,570.1 223.33,571.83 224.44,573.56 225.54,575.29 226.62,577.03 227.69,578.77 228.74,580.52 229.79,582.27 230.81,584.02 231.83,585.78 232.83,587.54 233.82,589.31 234.79,591.08 235.76,592.85 236.71,594.63 237.64,596.41 238.57,598.2 239.48,599.99 240.39,601.78 241.28,603.58 242.16,605.38 243.02,607.19 243.88,609 244.73,610.81 245.56,612.63 246.38,614.45 247.2,616.27 248,618.1 248.79,619.93 249.57,621.76 250.35,623.6 251.11,625.44 251.86,627.29 252.61,629.14 253.34,630.99 254.07,632.84 254.78,634.7 255.49,636.56 256.19,638.43 256.88,640.29 257.56,642.17 258.24,644.04 258.9,645.92 259.56,647.8 260.21,649.68 260.85,651.57 261.49,653.46 262.12,655.35 262.74,657.25 263.35,659.15 263.96,661.05 264.56,662.95 265.16,664.86 265.74,666.77 266.33,668.68 266.9,670.6 267.47,672.52 268.04,674.44 268.6,676.37 269.15,678.29 269.7,680.22 270.24,682.15 270.78,684.09 271.32,686.03 271.85,687.97 272.37,689.91 272.89,691.85 273.41,693.8 273.93,695.75 274.43,697.7 274.94,699.66 275.44,701.61 275.94,703.57 276.43,705.53 276.92,707.5 277.4,709.46 277.88,711.43 278.35,713.4 278.82,715.37 279.28,717.34 279.74,719.32 280.2,721.29 280.65,723.27 281.09,725.25 281.53,727.23 281.96,729.21 282.39,731.19 282.81,733.18 283.23,735.16 283.64,737.15 284.05,739.14 284.45,741.13 284.84,743.12 285.23,745.11 285.61,747.1 285.99,749.1 286.36,751.09 286.73,753.09 287.09,755.08 287.44,757.08 287.78,759.08 288.12,761.07 288.46,763.07 288.78,765.07 289.1,767.07 289.42,769.07 289.72,771.07 290.02,773.07 290.32,775.07 290.6,777.07 290.88,779.07 291.15,781.07 291.42,783.07 291.68,785.07 291.93,787.07 292.17,789.07 292.41,791.07 292.63,793.07 292.85,795.06 293.07,797.06 293.27,799.06 293.47,801.06 293.66,803.05 293.84,805.05 294.01,807.04 294.18,809.04 294.34,811.03 294.49,813.02 294.63,815.02 294.76,817.01 294.89,819" stroke="#f00" stroke-width="2.5" fill="none"/>
<path d="M59.5,598.4L59.57,596.33 59.68,594.28 59.84,592.26 60.05,590.26 60.29,588.29 60.57,586.32 60.88,584.38 61.22,582.44 61.59,580.51 61.97,578.58 62.38,576.65 62.8,574.72 63.23,572.78 63.67,570.84 64.12,568.88 64.57,566.91 65.02,564.92 65.48,562.92 65.94,560.92 66.42,558.9 66.92,556.89 67.44,554.89 67.99,552.88 68.57,550.89 69.18,548.92 69.83,546.95 70.52,545.01 71.26,543.1 72.04,541.21 72.89,539.36 73.78,537.54 74.74,535.75 75.75,534 76.82,532.3 77.94,530.63 79.1,529 80.32,527.42 81.59,525.88 82.9,524.39 84.26,522.95 85.66,521.55 87.1,520.2 88.59,518.9 90.11,517.66 91.67,516.47 93.27,515.33 94.9,514.26 96.56,513.23 98.26,512.27 99.99,511.37 101.74,510.53 103.53,509.75 105.33,509.03 107.17,508.38 109.02,507.8 110.9,507.29 112.8,506.84 114.72,506.47 116.65,506.17 118.6,505.94 120.56,505.78 122.54,505.7 124.52,505.7 126.52,505.77 128.52,505.91 130.52,506.11 132.53,506.39 134.53,506.73 136.54,507.14 138.54,507.61 140.53,508.15 142.51,508.74 144.48,509.4 146.44,510.11 148.39,510.88 150.31,511.7 152.22,512.57 154.11,513.5 155.97,514.48 157.8,515.5 159.61,516.57 161.39,517.69 163.14,518.86 164.85,520.06 166.52,521.31 168.16,522.59 169.75,523.92 171.3,525.28 172.81,526.67 174.27,528.1 175.68,529.56 177.04,531.05 178.35,532.58 179.6,534.13 180.81,535.7 181.97,537.31 183.09,538.94 184.16,540.6 185.18,542.27 186.17,543.98 187.11,545.7 188.01,547.45 188.87,549.22 189.69,551 190.48,552.81 191.23,554.63 191.95,556.47 192.63,558.32 193.29,560.19 193.91,562.07 194.5,563.97 195.07,565.88 195.6,567.8 196.11,569.73 196.6,571.67 197.06,573.61 197.51,575.57 197.93,577.53 198.33,579.5 198.71,581.47 199.08,583.45 199.42,585.42 199.76,587.4 200.08,589.39 200.38,591.37 200.67,593.36 200.95,595.35 201.21,597.34 201.46,599.33 201.7,601.33 201.93,603.32 202.14,605.32 202.34,607.32 202.53,609.32 202.71,611.33 202.88,613.33 203.04,615.34 203.18,617.34 203.32,619.35 203.45,621.36 203.57,623.37 203.68,625.39 203.78,627.4 203.87,629.41 203.95,631.43 204.03,633.45 204.1,635.46 204.16,637.48 204.22,639.5 204.27,641.52 204.31,643.54 204.35,645.56 204.38,647.59 204.4,649.61 204.43,651.63 204.44,653.65 204.46,655.68 204.47,657.7 204.47,659.73 204.48,661.75 204.48,663.78 204.47,665.8 204.47,667.83 204.46,669.85 204.45,671.88 204.45,673.9 204.44,675.93 204.42,677.95 204.41,679.98 204.4,682 204.39,684.03 204.38,686.05 204.37,688.07 204.36,690.1 204.36,692.12 204.35,694.14 204.35,696.16 204.35,698.18 204.35,700.2 204.36,702.22 204.37,704.24 204.38,706.25 204.4,708.27 204.42,710.28 204.44,712.3 204.47,714.31 204.5,716.33 204.53,718.34 204.56,720.35 204.6,722.36 204.63,724.37 204.67,726.39 204.71,728.4 204.76,730.41 204.8,732.41 204.84,734.42 204.89,736.43 204.94,738.44 204.98,740.45 205.03,742.46 205.08,744.47 205.13,746.47 205.18,748.48 205.22,750.49 205.27,752.5 205.32,754.51 205.37,756.51 205.41,758.52 205.46,760.53 205.5,762.54 205.54,764.55 205.58,766.56 205.62,768.57 205.66,770.58 205.7,772.59 205.73,774.6 205.76,776.61 205.79,778.62 205.81,780.63 205.84,782.64 205.86,784.66 205.87,786.67 205.89,788.68 205.9,790.7 205.91,792.71 205.91,794.73 205.91,796.75 205.9,798.77 205.89,800.79 205.88,802.81 205.86,804.83 205.84,806.85 205.81,808.87 205.78,810.9 205.74,812.92 205.69,814.95 205.64,816.97 205.59,819" stroke="#00f" stroke-width="2.5" fill="none"/>
</g>
<g>
<path d="M595.91,818.97V813.87M617.38,818.97V813.87M638.84,818.97V813.87M660.3,818.97V813.87M681.77,818.97V808.37M703.23,818.97V813.87M724.69,818.97V813.87M746.16,818.97V813.87M767.62,818.97V813.87M789.08,818.97V808.37M810.54,818.97V813.87M832.01,818.97V813.87M853.47,818.97V813.87M874.93,818.97V813.87M896.4,818.97V808.37M917.86,818.97V813.87M939.32,818.97V813.87M960.79,818.97V813.87M574.45,795.34H580.55M574.45,781.51H580.55M574.45,771.7H580.55M574.45,764.1H580.55M574.45,757.88H580.55M574.45,752.62H580.55M574.45,748.07H580.55M574.45,744.05H580.55M574.45,740.46H586.75M574.45,716.83H580.55M574.45,703H580.55M574.45,693.19H580.55M574.45,685.59H580.55M574.45,679.37H580.55M574.45,674.11H580.55M574.45,669.56H580.55M574.45,665.55H580.55M574.45,661.95H586.75M574.45,638.32H580.55M574.45,624.5H580.55M574.45,614.69H580.55M574.45,607.08H580.55M574.45,600.86H580.55M574.45,595.61H580.55M574.45,591.05H580.55M574.45,587.04H580.55M574.45,583.45H586.75M574.45,559.81H580.55M574.45,545.99H580.55M574.45,536.18H580.55M574.45,528.57H580.55M574.45,522.35H580.55M574.45,517.1H580.55M574.45,512.54H580.55M574.45,508.53H580.55M574.45,504.94H586.75M574.45,481.3H580.55M574.45,467.48H580.55" stroke="#000" stroke-width="2.0" fill="none"/>
<rect x="574.45" y="457.67" width="407.8" height="361.3" fill="none" stroke="#000" stroke-width="2.2"/>
<text x="573.05" y="836.67" text-anchor="middle" font-size="20">0</text>
<text x="680.37" y="836.67" text-anchor="middle" font-size="20">0.05</text>
<text x="787.68" y="836.67" text-anchor="middle" font-size="20">0.1</text>
<text x="895" y="836.67" text-anchor="middle" font-size="20">0.15</text>
<text x="557.05" y="826.87" text-anchor="end" font-size="20">10</text>
<path d="M556.05,814.47H562.25" stroke="#000" stroke-width="1.3"/>
<text x="568.85" y="817.87" text-anchor="end" font-size="12.5">1</text>
<text x="568.75" y="747.66" text-anchor="end" font-size="20">1</text>
<text x="568.75" y="669.15" text-anchor="end" font-size="20">10</text>
<text x="567.95" y="592.85" text-anchor="end" font-size="20">10<tspan font-size="12.5" dy="-11">2</tspan></text>
<text x="567.95" y="514.34" text-anchor="end" font-size="20">10<tspan font-size="12.5" dy="-11">3</tspan></text>
<text x="777.75" y="861.27" text-anchor="middle" font-size="19.7">1/E<tspan font-size="12.8" dy="5.6">cm</tspan><tspan dy="-5.6"> (MeV</tspan><tspan font-size="12.8" dy="-8.4">-1</tspan><tspan dy="8.4">)</tspan></text>
<text transform="translate(531.25,636.82) rotate(-90)" text-anchor="middle" font-size="20.6">σ<tspan font-size="13" dy="6">f</tspan><tspan dy="-6"> (mb)</tspan></text>
<text x="818.45" y="504.17" font-size="21" font-weight="bold"><tspan font-size="12" dy="-9.7">28</tspan><tspan dy="9.7">Si+</tspan><tspan font-size="12" dy="-9.7">12</tspan><tspan dy="9.7">C</tspan></text>
<path d="M803.05,575.17H827.75" stroke="#f00" stroke-width="2.6" stroke-dasharray="8,8"/>
<path d="M803.05,617.07H827.75" stroke="#f00" stroke-width="2.6"/>
<path d="M803.05,659.17H827.75" stroke="#00f" stroke-width="2.6"/>
<text x="832.05" y="578.67" font-size="14">Our model (10 n)</text>
<text x="832.05" y="620.67" font-size="14">Our model (15 n)</text>
<text x="832.05" y="662.67" font-size="14">phen. for.</text>
<path d="M597,507.4V516.7M593.8,507.4H600.2M593.8,516.7H600.2M590.7,518V532M587.5,518H593.9M587.5,532H593.9M670.7,526.6V531.1M667.5,531.1H673.9M677,535.1V540.1M673.8,540.1H680.2M684,542.6V547.6M680.8,547.6H687.2M697.3,551.1V559.7M694.1,559.7H700.5M707,560.7V589.5M703.8,560.7H710.2M703.8,589.5H710.2M713.3,580V585M710.1,585H716.5M727.9,595.9V605.9M724.7,595.9H731.1M724.7,605.9H731.1" stroke="#000" stroke-width="2" fill="none"/>
<circle cx="597" cy="511.7" r="4.3"/>
<circle cx="590.7" cy="524.5" r="4.3"/>
<circle cx="614" cy="498" r="4.3"/>
<circle cx="622" cy="497" r="4.3"/>
<circle cx="614.1" cy="515.9" r="4.3"/>
<circle cx="624.8" cy="509.5" r="4.3"/>
<circle cx="694.1" cy="520.2" r="4.3"/>
<circle cx="700.5" cy="525" r="4.3"/>
<circle cx="708" cy="535.1" r="4.3"/>
<circle cx="717.6" cy="544.7" r="4.3"/>
<circle cx="720.8" cy="547.9" r="4.3"/>
<circle cx="670.7" cy="526.6" r="4.3"/>
<circle cx="677" cy="535.1" r="4.3"/>
<circle cx="684" cy="542.6" r="4.3"/>
<circle cx="692" cy="550" r="4.3"/>
<circle cx="697.3" cy="551.1" r="4.3"/>
<circle cx="707" cy="572.5" r="4.3"/>
<circle cx="713.3" cy="580" r="4.3"/>
<circle cx="727.9" cy="600.9" r="4.3"/>
<circle cx="634" cy="502" r="4.3"/>
<circle cx="636.75" cy="502.25" r="4.3"/>
<circle cx="639.5" cy="502.5" r="4.3"/>
<circle cx="642.25" cy="502.75" r="4.3"/>
<circle cx="645" cy="503" r="4.3"/>
<circle cx="647.75" cy="503.5" r="4.3"/>
<circle cx="650.5" cy="504" r="4.3"/>
<circle cx="653.25" cy="504.5" r="4.3"/>
<circle cx="656" cy="505" r="4.3"/>
<circle cx="658.75" cy="505.75" r="4.3"/>
<circle cx="661.5" cy="506.5" r="4.3"/>
<circle cx="664.25" cy="507.25" r="4.3"/>
<circle cx="667" cy="508" r="4.3"/>
<circle cx="669.75" cy="509" r="4.3"/>
<circle cx="672.5" cy="510" r="4.3"/>
<circle cx="675.25" cy="511" r="4.3"/>
<circle cx="678" cy="512" r="4.3"/>
<circle cx="680.5" cy="513.5" r="4.3"/>
<circle cx="683" cy="515" r="4.3"/>
<circle cx="685.5" cy="516.5" r="4.3"/>
<circle cx="688" cy="518" r="4.3"/>
<circle cx="690.33" cy="519.67" r="4.3"/>
<circle cx="692.67" cy="521.33" r="4.3"/>
<circle cx="695" cy="523" r="4.3"/>
<circle cx="637" cy="507" r="4.3"/>
<circle cx="639.75" cy="507.75" r="4.3"/>
<circle cx="642.5" cy="508.5" r="4.3"/>
<circle cx="645.25" cy="509.25" r="4.3"/>
<circle cx="648" cy="510" r="4.3"/>
<circle cx="650.75" cy="510.75" r="4.3"/>
<circle cx="653.5" cy="511.5" r="4.3"/>
<circle cx="656.25" cy="512.25" r="4.3"/>
<circle cx="659" cy="513" r="4.3"/>
<circle cx="661.75" cy="514" r="4.3"/>
<circle cx="664.5" cy="515" r="4.3"/>
<circle cx="667.25" cy="516" r="4.3"/>
<circle cx="670" cy="517" r="4.3"/>
<circle cx="672.75" cy="518.25" r="4.3"/>
<circle cx="675.5" cy="519.5" r="4.3"/>
<circle cx="678.25" cy="520.75" r="4.3"/>
<circle cx="681" cy="522" r="4.3"/>
<circle cx="683.5" cy="523.5" r="4.3"/>
<circle cx="686" cy="525" r="4.3"/>
<circle cx="688.5" cy="526.5" r="4.3"/>
<circle cx="691" cy="528" r="4.3"/>
<circle cx="693.5" cy="530.5" r="4.3"/>
<circle cx="696" cy="533" r="4.3"/>
<circle cx="645" cy="514" r="4.3"/>
<circle cx="647.5" cy="515" r="4.3"/>
<circle cx="650" cy="516" r="4.3"/>
<circle cx="652.5" cy="517" r="4.3"/>
<circle cx="655" cy="518" r="4.3"/>
<circle cx="658" cy="519" r="4.3"/>
<circle cx="661" cy="520" r="4.3"/>
<circle cx="664" cy="521" r="4.3"/>
<circle cx="666.67" cy="521.67" r="4.3"/>
<circle cx="669.33" cy="522.33" r="4.3"/>
<circle cx="672" cy="523" r="4.3"/>
<path d="M576.01,562.4L576.5,560.41 577.05,558.45 577.66,556.51 578.31,554.6 579.02,552.71 579.78,550.86 580.59,549.03 581.45,547.23 582.36,545.45 583.31,543.71 584.32,542 585.37,540.31 586.46,538.66 587.6,537.03 588.78,535.44 590.01,533.88 591.27,532.34 592.58,530.84 593.93,529.38 595.32,527.94 596.74,526.54 598.21,525.17 599.71,523.83 601.25,522.53 602.82,521.26 604.43,520.03 606.07,518.83 607.75,517.67 609.45,516.54 611.19,515.45 612.96,514.39 614.75,513.37 616.58,512.4 618.42,511.46 620.29,510.56 622.18,509.71 624.09,508.9 626.02,508.13 627.96,507.42 629.91,506.75 631.88,506.12 633.86,505.55 635.84,505.03 637.83,504.56 639.83,504.15 641.82,503.79 643.82,503.48 645.82,503.24 647.81,503.05 649.8,502.92 651.78,502.85 653.76,502.85 655.72,502.91 657.67,503.03 659.61,503.22 661.53,503.47 663.43,503.79 665.32,504.18 667.18,504.65 669.02,505.18 670.83,505.79 672.62,506.46 674.39,507.2 676.13,508.01 677.85,508.87 679.55,509.8 681.22,510.79 682.86,511.83 684.49,512.92 686.08,514.07 687.66,515.27 689.21,516.51 690.74,517.8 692.24,519.13 693.72,520.5 695.18,521.91 696.61,523.35 698.02,524.83 699.41,526.34 700.77,527.89 702.11,529.45 703.42,531.05 704.71,532.66 705.98,534.3 707.22,535.96 708.44,537.63 709.64,539.32 710.82,541.01 711.97,542.72 713.09,544.44 714.2,546.16 715.28,547.89 716.34,549.63 717.39,551.37 718.41,553.12 719.41,554.88 720.4,556.64 721.37,558.41 722.33,560.18 723.27,561.96 724.2,563.74 725.11,565.52 726.01,567.31 726.9,569.11 727.79,570.91 728.66,572.71 729.52,574.51 730.38,576.32 731.22,578.13 732.07,579.94 732.91,581.76 733.74,583.58 734.57,585.4 735.4,587.22 736.23,589.04 737.05,590.87 737.88,592.69 738.71,594.52 739.54,596.35 740.37,598.17 741.21,600 742.04,601.83 742.88,603.66 743.72,605.49 744.55,607.32 745.39,609.15 746.23,610.98 747.06,612.82 747.9,614.65 748.73,616.49 749.57,618.32 750.4,620.16 751.23,622 752.05,623.84 752.88,625.69 753.7,627.53 754.51,629.38 755.32,631.22 756.13,633.07 756.94,634.92 757.74,636.77 758.53,638.63 759.32,640.48 760.11,642.34 760.88,644.2 761.65,646.06 762.42,647.93 763.18,649.79 763.93,651.66 764.67,653.53 765.41,655.4 766.14,657.28 766.86,659.16 767.58,661.04 768.29,662.92 769,664.8 769.7,666.68 770.39,668.57 771.08,670.46 771.77,672.35 772.45,674.24 773.12,676.13 773.79,678.03 774.45,679.92 775.11,681.82 775.77,683.72 776.42,685.62 777.06,687.53 777.71,689.43 778.35,691.34 778.98,693.24 779.61,695.15 780.24,697.06 780.87,698.97 781.49,700.89 782.11,702.8 782.73,704.72 783.34,706.63 783.96,708.55 784.57,710.47 785.17,712.39 785.78,714.31 786.38,716.23 786.98,718.15 787.58,720.07 788.18,722 788.77,723.92 789.36,725.85 789.95,727.77 790.54,729.7 791.13,731.63 791.71,733.56 792.29,735.49 792.87,737.42 793.44,739.35 794.02,741.29 794.59,743.22 795.16,745.15 795.72,747.09 796.29,749.02 796.85,750.96 797.41,752.9 797.97,754.83 798.53,756.77 799.08,758.71 799.63,760.65 800.19,762.59 800.73,764.53 801.28,766.47 801.82,768.41 802.37,770.35 802.91,772.3 803.45,774.24 803.98,776.18 804.52,778.13 805.05,780.07 805.58,782.01 806.11,783.96 806.63,785.9 807.16,787.85 807.68,789.79 808.2,791.74 808.72,793.69 809.24,795.63 809.76,797.58 810.27,799.53 810.78,801.47 811.29,803.42 811.8,805.37 812.31,807.31 812.81,809.26 813.31,811.21 813.82,813.15 814.32,815.1 814.81,817.05 815.31,819" stroke="#f00" stroke-width="2.5" fill="none" stroke-dasharray="8,8"/>
<path d="M576,598.2L576.24,596.29 576.48,594.36 576.71,592.42 576.94,590.46 577.18,588.49 577.41,586.5 577.65,584.5 577.89,582.5 578.15,580.48 578.41,578.46 578.68,576.43 578.97,574.41 579.27,572.38 579.59,570.34 579.93,568.31 580.29,566.29 580.67,564.27 581.08,562.25 581.51,560.24 581.97,558.25 582.47,556.26 582.99,554.28 583.55,552.32 584.15,550.38 584.78,548.45 585.45,546.54 586.17,544.65 586.92,542.79 587.73,540.94 588.58,539.13 589.48,537.34 590.43,535.57 591.43,533.84 592.49,532.14 593.59,530.47 594.75,528.83 595.95,527.23 597.2,525.66 598.49,524.13 599.83,522.64 601.21,521.19 602.63,519.77 604.09,518.4 605.59,517.07 607.13,515.79 608.7,514.54 610.31,513.35 611.95,512.2 613.62,511.1 615.33,510.05 617.06,509.04 618.83,508.09 620.61,507.2 622.43,506.35 624.27,505.56 626.13,504.83 628.01,504.15 629.92,503.53 631.84,502.97 633.79,502.48 635.74,502.04 637.72,501.66 639.71,501.35 641.71,501.11 643.72,500.93 645.74,500.81 647.76,500.76 649.79,500.78 651.82,500.86 653.84,501 655.86,501.21 657.87,501.47 659.87,501.81 661.86,502.2 663.83,502.66 665.78,503.17 667.7,503.75 669.61,504.39 671.48,505.09 673.33,505.86 675.14,506.68 676.91,507.55 678.66,508.49 680.37,509.47 682.06,510.51 683.71,511.6 685.33,512.73 686.93,513.9 688.49,515.11 690.03,516.36 691.55,517.65 693.04,518.97 694.5,520.32 695.94,521.69 697.36,523.09 698.75,524.52 700.13,525.96 701.48,527.43 702.81,528.91 704.12,530.42 705.42,531.94 706.69,533.48 707.94,535.04 709.18,536.61 710.4,538.2 711.6,539.81 712.78,541.43 713.95,543.06 715.1,544.71 716.24,546.37 717.36,548.05 718.46,549.73 719.55,551.43 720.63,553.14 721.7,554.86 722.75,556.59 723.79,558.33 724.81,560.08 725.83,561.83 726.83,563.6 727.83,565.37 728.81,567.14 729.78,568.93 730.75,570.71 731.7,572.51 732.65,574.31 733.59,576.11 734.52,577.91 735.44,579.72 736.36,581.53 737.27,583.34 738.17,585.15 739.07,586.97 739.96,588.79 740.84,590.61 741.71,592.44 742.58,594.27 743.44,596.1 744.3,597.93 745.14,599.77 745.98,601.6 746.82,603.44 747.64,605.29 748.46,607.13 749.28,608.98 750.08,610.83 750.88,612.68 751.67,614.54 752.46,616.39 753.24,618.25 754.01,620.12 754.78,621.98 755.54,623.85 756.29,625.71 757.04,627.58 757.78,629.46 758.51,631.33 759.24,633.21 759.96,635.09 760.67,636.97 761.38,638.86 762.08,640.74 762.78,642.63 763.47,644.52 764.15,646.41 764.83,648.31 765.5,650.2 766.16,652.1 766.82,654 767.47,655.9 768.12,657.81 768.76,659.71 769.39,661.62 770.02,663.53 770.64,665.44 771.26,667.36 771.87,669.27 772.47,671.19 773.07,673.11 773.66,675.03 774.25,676.95 774.83,678.88 775.4,680.8 775.97,682.73 776.54,684.66 777.09,686.59 777.64,688.53 778.19,690.46 778.73,692.4 779.27,694.34 779.79,696.28 780.32,698.22 780.84,700.16 781.35,702.11 781.86,704.05 782.36,706 782.85,707.95 783.34,709.9 783.83,711.85 784.31,713.81 784.78,715.76 785.25,717.72 785.72,719.68 786.17,721.64 786.63,723.6 787.08,725.56 787.52,727.52 787.96,729.49 788.39,731.45 788.82,733.42 789.24,735.39 789.65,737.36 790.07,739.33 790.47,741.3 790.88,743.28 791.27,745.25 791.66,747.23 792.05,749.2 792.43,751.18 792.81,753.16 793.18,755.14 793.55,757.12 793.92,759.11 794.27,761.09 794.63,763.08 794.98,765.06 795.32,767.05 795.66,769.04 795.99,771.03 796.32,773.02 796.65,775.01 796.97,777 797.29,778.99 797.6,780.98 797.91,782.98 798.21,784.97 798.51,786.97 798.8,788.97 799.09,790.96 799.37,792.96 799.66,794.96 799.93,796.96 800.2,798.96 800.47,800.96 800.74,802.97 801,804.97 801.25,806.97 801.5,808.98 801.75,810.98 801.99,812.99 802.23,814.99 802.46,817 802.7,819.01" stroke="#f00" stroke-width="2.5" fill="none"/>
<path d="M576.02,570.6L575.95,568.64 575.93,566.66 575.96,564.66 576.02,562.65 576.14,560.62 576.29,558.59 576.49,556.54 576.74,554.5 577.03,552.46 577.37,550.41 577.75,548.38 578.18,546.35 578.66,544.33 579.19,542.33 579.76,540.34 580.38,538.38 581.06,536.43 581.78,534.52 582.55,532.63 583.37,530.77 584.24,528.95 585.17,527.16 586.14,525.41 587.17,523.71 588.25,522.05 589.38,520.44 590.57,518.89 591.81,517.38 593.1,515.94 594.45,514.55 595.85,513.23 597.31,511.97 598.81,510.77 600.36,509.64 601.96,508.57 603.61,507.56 605.29,506.61 607.01,505.72 608.77,504.89 610.57,504.12 612.39,503.42 614.25,502.77 616.13,502.18 618.04,501.65 619.97,501.18 621.92,500.77 623.88,500.42 625.87,500.13 627.87,499.89 629.88,499.71 631.9,499.59 633.92,499.53 635.95,499.52 637.98,499.57 640.01,499.67 642.04,499.83 644.07,500.05 646.08,500.32 648.09,500.64 650.09,501.02 652.07,501.45 654.04,501.94 655.99,502.48 657.93,503.07 659.85,503.7 661.76,504.39 663.65,505.13 665.52,505.91 667.37,506.73 669.2,507.61 671.01,508.52 672.8,509.48 674.56,510.48 676.31,511.52 678.03,512.6 679.73,513.72 681.4,514.87 683.05,516.07 684.67,517.3 686.27,518.56 687.83,519.86 689.37,521.19 690.88,522.55 692.36,523.94 693.81,525.36 695.23,526.81 696.62,528.29 697.97,529.79 699.29,531.32 700.58,532.87 701.83,534.45 703.05,536.05 704.23,537.67 705.37,539.32 706.48,540.98 707.55,542.67 708.58,544.38 709.57,546.1 710.52,547.85 711.43,549.62 712.3,551.4 713.13,553.21 713.91,555.03 714.66,556.86 715.36,558.72 716.02,560.59 716.64,562.47 717.22,564.37 717.76,566.28 718.27,568.2 718.76,570.14 719.21,572.08 719.63,574.03 720.03,575.99 720.41,577.96 720.77,579.93 721.11,581.9 721.44,583.88 721.75,585.86 722.05,587.84 722.34,589.83 722.61,591.81 722.88,593.8 723.13,595.79 723.37,597.78 723.6,599.77 723.83,601.77 724.04,603.76 724.24,605.76 724.43,607.76 724.62,609.76 724.79,611.76 724.96,613.76 725.11,615.76 725.26,617.77 725.4,619.77 725.54,621.78 725.66,623.79 725.78,625.79 725.9,627.8 726,629.81 726.1,631.83 726.19,633.84 726.28,635.85 726.36,637.86 726.44,639.88 726.51,641.89 726.57,643.91 726.64,645.92 726.69,647.94 726.75,649.95 726.8,651.97 726.84,653.99 726.88,656.01 726.92,658.02 726.96,660.04 726.99,662.06 727.03,664.08 727.06,666.1 727.08,668.12 727.11,670.14 727.14,672.16 727.16,674.17 727.19,676.19 727.21,678.21 727.23,680.23 727.26,682.25 727.28,684.27 727.3,686.28 727.33,688.3 727.36,690.32 727.38,692.33 727.41,694.35 727.44,696.37 727.48,698.38 727.51,700.4 727.55,702.41 727.59,704.42 727.64,706.44 727.68,708.45 727.73,710.46 727.78,712.47 727.84,714.48 727.89,716.49 727.95,718.5 728.01,720.51 728.07,722.52 728.13,724.52 728.19,726.53 728.26,728.54 728.32,730.55 728.39,732.55 728.46,734.56 728.53,736.57 728.59,738.57 728.66,740.58 728.73,742.59 728.8,744.59 728.87,746.6 728.94,748.6 729,750.61 729.07,752.62 729.14,754.62 729.2,756.63 729.27,758.63 729.33,760.64 729.4,762.65 729.46,764.65 729.52,766.66 729.58,768.67 729.63,770.67 729.69,772.68 729.74,774.69 729.79,776.7 729.84,778.71 729.88,780.71 729.93,782.72 729.97,784.73 730,786.74 730.04,788.76 730.07,790.77 730.1,792.78 730.12,794.79 730.14,796.81 730.16,798.82 730.17,800.83 730.18,802.85 730.18,804.87 730.18,806.88 730.18,808.9 730.17,810.92 730.16,812.94 730.14,814.96 730.12,816.98 730.09,819" stroke="#00f" stroke-width="2.5" fill="none"/>
</g>
<g>
<path d="M1120.08,818.97V813.87M1149.21,818.97V813.87M1178.34,818.97V813.87M1207.46,818.97V813.87M1236.59,818.97V808.37M1265.72,818.97V813.87M1294.85,818.97V813.87M1323.98,818.97V813.87M1353.11,818.97V813.87M1382.24,818.97V808.37M1411.36,818.97V813.87M1440.49,818.97V813.87M1469.62,818.97V813.87M1090.95,795.34H1097.05M1090.95,781.51H1097.05M1090.95,771.7H1097.05M1090.95,764.1H1097.05M1090.95,757.88H1097.05M1090.95,752.62H1097.05M1090.95,748.07H1097.05M1090.95,744.05H1097.05M1090.95,740.46H1103.25M1090.95,716.83H1097.05M1090.95,703H1097.05M1090.95,693.19H1097.05M1090.95,685.59H1097.05M1090.95,679.37H1097.05M1090.95,674.11H1097.05M1090.95,669.56H1097.05M1090.95,665.55H1097.05M1090.95,661.95H1103.25M1090.95,638.32H1097.05M1090.95,624.5H1097.05M1090.95,614.69H1097.05M1090.95,607.08H1097.05M1090.95,600.86H1097.05M1090.95,595.61H1097.05M1090.95,591.05H1097.05M1090.95,587.04H1097.05M1090.95,583.45H1103.25M1090.95,559.81H1097.05M1090.95,545.99H1097.05M1090.95,536.18H1097.05M1090.95,528.57H1097.05M1090.95,522.35H1097.05M1090.95,517.1H1097.05M1090.95,512.54H1097.05M1090.95,508.53H1097.05M1090.95,504.94H1103.25M1090.95,481.3H1097.05M1090.95,467.48H1097.05" stroke="#000" stroke-width="2.0" fill="none"/>
<rect x="1090.95" y="457.67" width="407.8" height="361.3" fill="none" stroke="#000" stroke-width="2.2"/>
<text x="1089.55" y="836.67" text-anchor="middle" font-size="20">0</text>
<text x="1235.19" y="836.67" text-anchor="middle" font-size="20">0.05</text>
<text x="1380.84" y="836.67" text-anchor="middle" font-size="20">0.1</text>
<text x="1073.55" y="826.87" text-anchor="end" font-size="20">10</text>
<path d="M1072.55,814.47H1078.75" stroke="#000" stroke-width="1.3"/>
<text x="1085.35" y="817.87" text-anchor="end" font-size="12.5">1</text>
<text x="1085.25" y="747.66" text-anchor="end" font-size="20">1</text>
<text x="1085.25" y="669.15" text-anchor="end" font-size="20">10</text>
<text x="1084.45" y="592.85" text-anchor="end" font-size="20">10<tspan font-size="12.5" dy="-11">2</tspan></text>
<text x="1084.45" y="514.34" text-anchor="end" font-size="20">10<tspan font-size="12.5" dy="-11">3</tspan></text>
<text x="1294.25" y="861.27" text-anchor="middle" font-size="19.7">1/E<tspan font-size="12.8" dy="5.6">cm</tspan><tspan dy="-5.6"> (MeV</tspan><tspan font-size="12.8" dy="-8.4">-1</tspan><tspan dy="8.4">)</tspan></text>
<text transform="translate(1047.75,636.82) rotate(-90)" text-anchor="middle" font-size="20.6">σ<tspan font-size="13" dy="6">f</tspan><tspan dy="-6"> (mb)</tspan></text>
<text x="1334.95" y="504.17" font-size="21" font-weight="bold"><tspan font-size="12" dy="-9.7">12</tspan><tspan dy="9.7">C+</tspan><tspan font-size="12" dy="-9.7">48</tspan><tspan dy="9.7">Ti</tspan></text>
<path d="M1319.55,575.17H1344.25" stroke="#f00" stroke-width="2.6" stroke-dasharray="8,8"/>
<path d="M1319.55,617.07H1344.25" stroke="#f00" stroke-width="2.6"/>
<path d="M1319.55,659.17H1344.25" stroke="#00f" stroke-width="2.6"/>
<text x="1348.55" y="578.67" font-size="14">Our model (10 n)</text>
<text x="1348.55" y="620.67" font-size="14">Our model (15 n)</text>
<text x="1348.55" y="662.67" font-size="14">phen. for.</text>
<path d="M1111.2,490.7V504.7M1108,490.7H1114.4M1108,504.7H1114.4M1128.3,499.8V513.8M1125.1,499.8H1131.5M1125.1,513.8H1131.5M1136,500.9V514.9M1132.8,500.9H1139.2M1132.8,514.9H1139.2M1190.2,512.3V524.3M1187,512.3H1193.4M1187,524.3H1193.4M1239,607.7V621.7M1235.8,607.7H1242.2M1235.8,621.7H1242.2M1245.6,642.8V658.8M1242.4,642.8H1248.8M1242.4,658.8H1248.8M1259.7,637.8V649.8M1256.5,637.8H1262.9M1256.5,649.8H1262.9M1252.4,678.4V692.4M1249.2,678.4H1255.6M1249.2,692.4H1255.6M1259.7,723V739M1256.5,723H1262.9M1256.5,739H1262.9M1268.4,775.4V787.4M1265.2,775.4H1271.6M1265.2,787.4H1271.6" stroke="#000" stroke-width="2" fill="none"/>
<circle cx="1111.2" cy="497.7" r="4.3"/>
<circle cx="1128.3" cy="506.8" r="4.3"/>
<circle cx="1136" cy="507.9" r="4.3"/>
<circle cx="1154.5" cy="496.3" r="4.3"/>
<circle cx="1161.3" cy="497.7" r="4.3"/>
<circle cx="1172.4" cy="501.8" r="4.3"/>
<circle cx="1175.1" cy="507.3" r="4.3"/>
<circle cx="1182" cy="511.4" r="4.3"/>
<circle cx="1190.2" cy="518.3" r="4.3"/>
<circle cx="1198.5" cy="529.9" r="4.3"/>
<circle cx="1209.4" cy="543.1" r="4.3"/>
<circle cx="1213" cy="550" r="4.3"/>
<circle cx="1215.7" cy="555.7" r="4.3"/>
<circle cx="1221.2" cy="566.7" r="4.3"/>
<circle cx="1227.5" cy="576.2" r="4.3"/>
<circle cx="1233" cy="591.9" r="4.3"/>
<circle cx="1239" cy="614.7" r="4.3"/>
<circle cx="1245.6" cy="640.6" r="4.3"/>
<circle cx="1245.6" cy="650.8" r="4.3"/>
<circle cx="1251.1" cy="640.6" r="4.3"/>
<circle cx="1259.7" cy="643.8" r="4.3"/>
<circle cx="1252.4" cy="685.4" r="4.3"/>
<circle cx="1259.7" cy="731" r="4.3"/>
<circle cx="1268.4" cy="781.4" r="4.3"/>
<path d="M1092.01,562.4L1092.42,560.52 1092.88,558.64 1093.38,556.75 1093.92,554.85 1094.5,552.95 1095.12,551.06 1095.79,549.16 1096.5,547.28 1097.25,545.39 1098.05,543.52 1098.89,541.66 1099.77,539.81 1100.69,537.98 1101.66,536.17 1102.67,534.38 1103.72,532.61 1104.81,530.86 1105.95,529.14 1107.13,527.46 1108.35,525.8 1109.61,524.18 1110.92,522.59 1112.27,521.04 1113.66,519.53 1115.09,518.07 1116.57,516.64 1118.08,515.27 1119.64,513.95 1121.24,512.67 1122.89,511.45 1124.57,510.29 1126.29,509.18 1128.05,508.14 1129.84,507.15 1131.66,506.23 1133.5,505.38 1135.37,504.59 1137.27,503.87 1139.18,503.22 1141.11,502.65 1143.05,502.15 1145.01,501.73 1146.97,501.39 1148.94,501.12 1150.92,500.94 1152.89,500.85 1154.87,500.83 1156.83,500.9 1158.79,501.04 1160.74,501.26 1162.67,501.56 1164.58,501.94 1166.47,502.4 1168.34,502.93 1170.17,503.53 1171.98,504.21 1173.75,504.96 1175.48,505.78 1177.17,506.68 1178.82,507.64 1180.43,508.67 1182,509.76 1183.54,510.91 1185.05,512.12 1186.51,513.38 1187.95,514.7 1189.35,516.07 1190.73,517.48 1192.07,518.94 1193.38,520.44 1194.67,521.98 1195.93,523.56 1197.17,525.17 1198.38,526.82 1199.56,528.49 1200.73,530.19 1201.87,531.91 1202.99,533.66 1204.1,535.42 1205.18,537.21 1206.25,539 1207.31,540.81 1208.35,542.62 1209.37,544.44 1210.38,546.27 1211.38,548.09 1212.37,549.91 1213.35,551.73 1214.32,553.55 1215.28,555.37 1216.23,557.18 1217.17,559 1218.1,560.81 1219.03,562.62 1219.94,564.44 1220.84,566.25 1221.74,568.06 1222.62,569.87 1223.5,571.68 1224.36,573.49 1225.22,575.31 1226.07,577.12 1226.91,578.94 1227.75,580.75 1228.57,582.57 1229.39,584.39 1230.2,586.21 1231,588.04 1231.8,589.87 1232.58,591.7 1233.36,593.53 1234.13,595.36 1234.9,597.2 1235.65,599.05 1236.4,600.89 1237.15,602.74 1237.88,604.6 1238.61,606.46 1239.34,608.32 1240.06,610.19 1240.77,612.06 1241.47,613.93 1242.17,615.8 1242.87,617.68 1243.55,619.57 1244.24,621.45 1244.91,623.34 1245.58,625.23 1246.25,627.13 1246.91,629.02 1247.57,630.92 1248.22,632.83 1248.87,634.73 1249.51,636.64 1250.15,638.55 1250.79,640.46 1251.42,642.37 1252.04,644.29 1252.67,646.21 1253.28,648.13 1253.9,650.05 1254.51,651.97 1255.12,653.9 1255.73,655.82 1256.33,657.75 1256.93,659.68 1257.53,661.61 1258.12,663.54 1258.72,665.48 1259.31,667.41 1259.89,669.35 1260.48,671.28 1261.06,673.22 1261.65,675.16 1262.23,677.09 1262.81,679.03 1263.38,680.97 1263.96,682.91 1264.54,684.85 1265.11,686.79 1265.68,688.73 1266.26,690.67 1266.83,692.61 1267.4,694.55 1267.97,696.49 1268.54,698.42 1269.12,700.36 1269.69,702.3 1270.26,704.24 1270.83,706.17 1271.4,708.11 1271.98,710.04 1272.55,711.98 1273.13,713.91 1273.7,715.85 1274.27,717.78 1274.85,719.71 1275.42,721.64 1276,723.57 1276.57,725.5 1277.14,727.43 1277.71,729.36 1278.28,731.29 1278.85,733.22 1279.42,735.15 1279.99,737.08 1280.56,739.01 1281.12,740.94 1281.68,742.87 1282.25,744.8 1282.81,746.74 1283.36,748.67 1283.92,750.6 1284.47,752.53 1285.02,754.47 1285.57,756.4 1286.12,758.33 1286.66,760.27 1287.2,762.21 1287.73,764.14 1288.27,766.08 1288.8,768.02 1289.33,769.96 1289.85,771.9 1290.37,773.84 1290.88,775.79 1291.4,777.73 1291.9,779.68 1292.41,781.63 1292.91,783.58 1293.4,785.53 1293.89,787.48 1294.38,789.44 1294.86,791.39 1295.33,793.35 1295.8,795.31 1296.27,797.27 1296.73,799.24 1297.18,801.2 1297.63,803.17 1298.07,805.14 1298.51,807.11 1298.94,809.09 1299.36,811.07 1299.78,813.05 1300.19,815.03 1300.6,817.01 1301,819" stroke="#f00" stroke-width="2.5" fill="none" stroke-dasharray="8,8"/>
<path d="M1092,603.7L1092.41,601.65 1092.81,599.62 1093.21,597.59 1093.6,595.58 1093.99,593.59 1094.38,591.6 1094.77,589.62 1095.16,587.66 1095.55,585.71 1095.95,583.76 1096.36,581.83 1096.77,579.9 1097.2,577.98 1097.64,576.07 1098.09,574.16 1098.55,572.27 1099.03,570.37 1099.53,568.49 1100.05,566.61 1100.59,564.73 1101.15,562.86 1101.74,560.99 1102.35,559.12 1102.99,557.26 1103.66,555.4 1104.36,553.54 1105.09,551.68 1105.86,549.82 1106.66,547.96 1107.49,546.11 1108.37,544.25 1109.28,542.39 1110.24,540.53 1111.23,538.68 1112.26,536.84 1113.33,535.01 1114.44,533.19 1115.58,531.4 1116.75,529.63 1117.96,527.88 1119.21,526.17 1120.49,524.49 1121.8,522.84 1123.15,521.24 1124.53,519.67 1125.93,518.16 1127.37,516.69 1128.84,515.28 1130.34,513.92 1131.87,512.63 1133.43,511.39 1135.02,510.23 1136.63,509.13 1138.27,508.11 1139.94,507.16 1141.63,506.3 1143.34,505.52 1145.09,504.82 1146.85,504.22 1148.64,503.71 1150.45,503.29 1152.28,502.98 1154.14,502.77 1156.01,502.65 1157.89,502.64 1159.78,502.71 1161.67,502.88 1163.56,503.14 1165.45,503.49 1167.34,503.93 1169.21,504.45 1171.07,505.05 1172.91,505.73 1174.73,506.5 1176.53,507.33 1178.29,508.25 1180.02,509.23 1181.72,510.29 1183.37,511.41 1185,512.6 1186.58,513.84 1188.14,515.14 1189.66,516.5 1191.15,517.9 1192.61,519.34 1194.04,520.82 1195.44,522.34 1196.81,523.89 1198.16,525.47 1199.48,527.07 1200.77,528.69 1202.04,530.33 1203.29,531.99 1204.51,533.65 1205.71,535.32 1206.89,537 1208.05,538.69 1209.18,540.39 1210.3,542.09 1211.4,543.81 1212.48,545.53 1213.53,547.26 1214.57,549 1215.59,550.74 1216.6,552.5 1217.58,554.26 1218.55,556.02 1219.51,557.8 1220.44,559.58 1221.36,561.36 1222.27,563.16 1223.16,564.95 1224.04,566.76 1224.9,568.57 1225.75,570.38 1226.59,572.2 1227.41,574.03 1228.22,575.86 1229.02,577.69 1229.81,579.53 1230.59,581.37 1231.36,583.22 1232.12,585.07 1232.86,586.92 1233.6,588.78 1234.33,590.64 1235.05,592.51 1235.76,594.38 1236.46,596.25 1237.15,598.12 1237.84,600 1238.51,601.88 1239.18,603.77 1239.83,605.65 1240.48,607.54 1241.12,609.44 1241.75,611.33 1242.37,613.23 1242.99,615.14 1243.59,617.04 1244.19,618.95 1244.78,620.86 1245.36,622.78 1245.93,624.69 1246.5,626.61 1247.05,628.54 1247.6,630.46 1248.14,632.39 1248.68,634.32 1249.21,636.25 1249.72,638.19 1250.24,640.12 1250.74,642.06 1251.24,644.01 1251.73,645.95 1252.21,647.9 1252.69,649.84 1253.16,651.8 1253.62,653.75 1254.08,655.7 1254.53,657.66 1254.98,659.62 1255.41,661.58 1255.84,663.54 1256.27,665.51 1256.69,667.48 1257.1,669.44 1257.51,671.41 1257.91,673.39 1258.3,675.36 1258.69,677.33 1259.08,679.31 1259.46,681.29 1259.83,683.27 1260.2,685.25 1260.56,687.23 1260.92,689.21 1261.27,691.2 1261.62,693.19 1261.96,695.17 1262.3,697.16 1262.63,699.15 1262.96,701.14 1263.28,703.13 1263.6,705.13 1263.91,707.12 1264.22,709.11 1264.53,711.11 1264.83,713.11 1265.13,715.1 1265.42,717.1 1265.71,719.1 1265.99,721.1 1266.28,723.1 1266.55,725.1 1266.83,727.1 1267.1,729.1 1267.37,731.1 1267.63,733.11 1267.89,735.11 1268.15,737.11 1268.4,739.12 1268.66,741.12 1268.9,743.12 1269.15,745.13 1269.39,747.13 1269.63,749.14 1269.87,751.14 1270.11,753.14 1270.34,755.15 1270.57,757.15 1270.8,759.16 1271.03,761.16 1271.25,763.16 1271.47,765.17 1271.69,767.17 1271.91,769.17 1272.13,771.17 1272.34,773.17 1272.55,775.18 1272.77,777.18 1272.98,779.18 1273.19,781.18 1273.39,783.17 1273.6,785.17 1273.81,787.17 1274.01,789.17 1274.21,791.16 1274.42,793.16 1274.62,795.15 1274.82,797.14 1275.02,799.13 1275.22,801.13 1275.42,803.12 1275.62,805.1 1275.82,807.09 1276.02,809.08 1276.22,811.06 1276.42,813.05 1276.62,815.03 1276.82,817.01 1277.02,818.99" stroke="#f00" stroke-width="2.5" fill="none"/>
<path d="M1091.99,584.39L1092.31,582.56 1092.59,580.69 1092.84,578.81 1093.06,576.89 1093.25,574.96 1093.42,573 1093.57,571.02 1093.7,569.03 1093.81,567.01 1093.92,564.98 1094.02,562.92 1094.11,560.86 1094.2,558.78 1094.3,556.68 1094.4,554.58 1094.51,552.46 1094.63,550.33 1094.77,548.2 1094.93,546.07 1095.12,543.94 1095.34,541.82 1095.59,539.71 1095.89,537.61 1096.22,535.54 1096.61,533.49 1097.05,531.47 1097.55,529.48 1098.11,527.53 1098.73,525.61 1099.43,523.74 1100.2,521.92 1101.05,520.15 1101.98,518.44 1102.99,516.78 1104.06,515.17 1105.21,513.62 1106.42,512.13 1107.7,510.7 1109.04,509.32 1110.44,508 1111.89,506.74 1113.4,505.54 1114.96,504.4 1116.56,503.33 1118.21,502.31 1119.9,501.36 1121.63,500.47 1123.39,499.65 1125.19,498.89 1127.02,498.2 1128.87,497.57 1130.75,497.01 1132.65,496.52 1134.57,496.1 1136.51,495.74 1138.46,495.46 1140.42,495.25 1142.39,495.11 1144.36,495.04 1146.34,495.04 1148.31,495.12 1150.28,495.27 1152.25,495.5 1154.21,495.79 1156.16,496.15 1158.11,496.58 1160.05,497.07 1161.97,497.63 1163.89,498.25 1165.79,498.93 1167.68,499.67 1169.55,500.46 1171.41,501.31 1173.25,502.21 1175.07,503.16 1176.87,504.16 1178.65,505.21 1180.4,506.31 1182.14,507.45 1183.84,508.64 1185.53,509.86 1187.18,511.12 1188.81,512.42 1190.41,513.76 1191.97,515.13 1193.51,516.54 1195.01,517.97 1196.48,519.43 1197.91,520.92 1199.3,522.44 1200.66,523.98 1201.98,525.54 1203.26,527.12 1204.49,528.72 1205.69,530.34 1206.85,531.98 1207.98,533.64 1209.06,535.32 1210.11,537.01 1211.12,538.72 1212.1,540.45 1213.04,542.19 1213.94,543.95 1214.81,545.72 1215.65,547.51 1216.46,549.31 1217.23,551.13 1217.97,552.96 1218.68,554.8 1219.36,556.65 1220.01,558.52 1220.63,560.39 1221.22,562.28 1221.78,564.18 1222.32,566.08 1222.82,568 1223.31,569.92 1223.76,571.86 1224.19,573.8 1224.59,575.75 1224.97,577.7 1225.33,579.67 1225.66,581.63 1225.97,583.61 1226.26,585.59 1226.53,587.57 1226.78,589.56 1227.01,591.55 1227.22,593.55 1227.41,595.55 1227.59,597.56 1227.76,599.57 1227.91,601.58 1228.04,603.6 1228.17,605.62 1228.28,607.64 1228.38,609.67 1228.48,611.69 1228.56,613.72 1228.63,615.75 1228.7,617.78 1228.76,619.81 1228.82,621.84 1228.87,623.87 1228.92,625.9 1228.97,627.94 1229.01,629.97 1229.05,632 1229.1,634.03 1229.14,636.05 1229.19,638.08 1229.24,640.11 1229.29,642.13 1229.34,644.15 1229.4,646.17 1229.46,648.18 1229.53,650.2 1229.59,652.21 1229.66,654.22 1229.73,656.23 1229.81,658.24 1229.88,660.25 1229.96,662.26 1230.04,664.26 1230.12,666.27 1230.2,668.27 1230.29,670.27 1230.37,672.27 1230.45,674.28 1230.54,676.28 1230.62,678.28 1230.7,680.28 1230.79,682.28 1230.87,684.28 1230.95,686.28 1231.04,688.28 1231.12,690.28 1231.2,692.28 1231.28,694.28 1231.35,696.29 1231.43,698.29 1231.5,700.29 1231.57,702.3 1231.64,704.3 1231.71,706.31 1231.78,708.32 1231.84,710.32 1231.9,712.33 1231.96,714.34 1232.02,716.35 1232.08,718.36 1232.13,720.37 1232.19,722.38 1232.24,724.39 1232.29,726.41 1232.34,728.42 1232.39,730.43 1232.43,732.45 1232.48,734.46 1232.53,736.48 1232.57,738.49 1232.61,740.51 1232.66,742.52 1232.7,744.54 1232.74,746.55 1232.78,748.57 1232.82,750.59 1232.86,752.6 1232.9,754.62 1232.94,756.64 1232.97,758.65 1233.01,760.67 1233.05,762.68 1233.09,764.7 1233.13,766.72 1233.16,768.73 1233.2,770.75 1233.24,772.76 1233.28,774.78 1233.32,776.79 1233.35,778.81 1233.39,780.82 1233.43,782.84 1233.47,784.85 1233.51,786.87 1233.56,788.88 1233.6,790.89 1233.64,792.9 1233.69,794.91 1233.73,796.93 1233.78,798.94 1233.82,800.94 1233.87,802.95 1233.92,804.96 1233.97,806.97 1234.02,808.98 1234.08,810.98 1234.13,812.99 1234.19,814.99 1234.24,817 1234.3,819" stroke="#00f" stroke-width="2.5" fill="none"/>
</g>
<g>
<path d="M80.61,1275.63V1270.53M103.26,1275.63V1270.53M125.92,1275.63V1270.53M148.57,1275.63V1265.03M171.23,1275.63V1270.53M193.88,1275.63V1270.53M216.54,1275.63V1270.53M239.19,1275.63V1265.03M261.85,1275.63V1270.53M284.51,1275.63V1270.53M307.16,1275.63V1270.53M329.82,1275.63V1265.03M352.47,1275.63V1270.53M375.13,1275.63V1270.53M397.78,1275.63V1270.53M420.44,1275.63V1265.03M443.09,1275.63V1270.53M57.95,1252H64.05M57.95,1238.17H64.05M57.95,1228.36H64.05M57.95,1220.76H64.05M57.95,1214.54H64.05M57.95,1209.28H64.05M57.95,1204.73H64.05M57.95,1200.71H64.05M57.95,1197.12H70.25M57.95,1173.49H64.05M57.95,1159.66H64.05M57.95,1149.85H64.05M57.95,1142.25H64.05M57.95,1136.03H64.05M57.95,1130.77H64.05M57.95,1126.22H64.05M57.95,1122.21H64.05M57.95,1118.61H70.25M57.95,1094.98H64.05M57.95,1081.16H64.05M57.95,1071.35H64.05M57.95,1063.74H64.05M57.95,1057.52H64.05M57.95,1052.27H64.05M57.95,1047.71H64.05M57.95,1043.7H64.05M57.95,1040.11H70.25M57.95,1016.47H64.05M57.95,1002.65H64.05M57.95,992.84H64.05M57.95,985.23H64.05M57.95,979.01H64.05M57.95,973.76H64.05M57.95,969.2H64.05M57.95,965.19H64.05M57.95,961.6H70.25M57.95,937.96H64.05M57.95,924.14H64.05" stroke="#000" stroke-width="2.0" fill="none"/>
<rect x="57.95" y="914.33" width="407.8" height="361.3" fill="none" stroke="#000" stroke-width="2.2"/>
<text x="56.55" y="1293.33" text-anchor="middle" font-size="20">0</text>
<text x="147.17" y="1293.33" text-anchor="middle" font-size="20">0.02</text>
<text x="237.79" y="1293.33" text-anchor="middle" font-size="20">0.04</text>
<text x="328.42" y="1293.33" text-anchor="middle" font-size="20">0.06</text>
<text x="419.04" y="1293.33" text-anchor="middle" font-size="20">0.08</text>
<text x="40.55" y="1283.53" text-anchor="end" font-size="20">10</text>
<path d="M39.55,1271.13H45.75" stroke="#000" stroke-width="1.3"/>
<text x="52.35" y="1274.53" text-anchor="end" font-size="12.5">1</text>
<text x="52.25" y="1204.32" text-anchor="end" font-size="20">1</text>
<text x="52.25" y="1125.81" text-anchor="end" font-size="20">10</text>
<text x="51.45" y="1049.51" text-anchor="end" font-size="20">10<tspan font-size="12.5" dy="-11">2</tspan></text>
<text x="51.45" y="971" text-anchor="end" font-size="20">10<tspan font-size="12.5" dy="-11">3</tspan></text>
<text x="261.25" y="1317.93" text-anchor="middle" font-size="19.7">1/E<tspan font-size="12.8" dy="5.6">cm</tspan><tspan dy="-5.6"> (MeV</tspan><tspan font-size="12.8" dy="-8.4">-1</tspan><tspan dy="8.4">)</tspan></text>
<text transform="translate(14.75,1093.48) rotate(-90)" text-anchor="middle" font-size="20.6">σ<tspan font-size="13" dy="6">f</tspan><tspan dy="-6"> (mb)</tspan></text>
<text x="301.95" y="960.83" font-size="21" font-weight="bold"><tspan font-size="12" dy="-9.7">18</tspan><tspan dy="9.7">O+</tspan><tspan font-size="12" dy="-9.7">44</tspan><tspan dy="9.7">Ca</tspan></text>
<path d="M286.55,1031.83H311.25" stroke="#f00" stroke-width="2.6" stroke-dasharray="8,8"/>
<path d="M286.55,1073.73H311.25" stroke="#f00" stroke-width="2.6"/>
<path d="M286.55,1115.83H311.25" stroke="#00f" stroke-width="2.6"/>
<text x="315.55" y="1035.33" font-size="14">Our model (10 n)</text>
<text x="315.55" y="1077.33" font-size="14">Our model (15 n)</text>
<text x="315.55" y="1119.33" font-size="14">phen. for.</text>
<path d="M164.7,957.8V966.4M161.5,957.8H167.9M161.5,966.4H167.9M173.5,958.6V967.2M170.3,958.6H176.7M170.3,967.2H176.7M179.3,961.1V969.7M176.1,961.1H182.5M176.1,969.7H182.5M189.6,965.5V974.1M186.4,965.5H192.8M186.4,974.1H192.8M198.4,970.7V979.3M195.2,970.7H201.6M195.2,979.3H201.6M212,979.8V988.4M208.8,979.8H215.2M208.8,988.4H215.2M223.7,990.8V999.4M220.5,990.8H226.9M220.5,999.4H226.9M232.5,1000V1008.6M229.3,1000H235.7M229.3,1008.6H235.7M236.9,1007.3V1015.9M233.7,1007.3H240.1M233.7,1015.9H240.1M243.1,1016.5V1025.1M239.9,1016.5H246.3M239.9,1025.1H246.3M249.3,1026V1034.6M246.1,1026H252.5M246.1,1034.6H252.5M254.8,1035.1V1046.1M251.6,1035.1H258M251.6,1046.1H258M261.1,1055.7V1067.7M257.9,1055.7H264.3M257.9,1067.7H264.3M267.6,1082V1095M264.4,1082H270.8M264.4,1095H270.8M274.9,1121.7V1130.3M271.7,1121.7H278.1M271.7,1130.3H278.1M282.7,1156V1171M279.5,1156H285.9M279.5,1171H285.9M290.7,1190.2V1205.2M287.5,1190.2H293.9M287.5,1205.2H293.9" stroke="#000" stroke-width="2" fill="none"/>
<circle cx="164.7" cy="962.1" r="4.3"/>
<circle cx="173.5" cy="962.9" r="4.3"/>
<circle cx="179.3" cy="965.4" r="4.3"/>
<circle cx="189.6" cy="969.8" r="4.3"/>
<circle cx="198.4" cy="975" r="4.3"/>
<circle cx="212" cy="984.1" r="4.3"/>
<circle cx="223.7" cy="995.1" r="4.3"/>
<circle cx="232.5" cy="1004.3" r="4.3"/>
<circle cx="236.9" cy="1011.6" r="4.3"/>
<circle cx="243.1" cy="1020.8" r="4.3"/>
<circle cx="249.3" cy="1030.3" r="4.3"/>
<circle cx="254.8" cy="1040.6" r="4.3"/>
<circle cx="261.1" cy="1061.7" r="4.3"/>
<circle cx="267.6" cy="1088.5" r="4.3"/>
<circle cx="274.9" cy="1126" r="4.3"/>
<circle cx="282.7" cy="1163.5" r="4.3"/>
<circle cx="290.7" cy="1197.7" r="4.3"/>
<path d="M59.02,1019.42L59.67,1017.53 60.36,1015.64 61.1,1013.76 61.88,1011.9 62.7,1010.04 63.57,1008.21 64.49,1006.38 65.44,1004.58 66.44,1002.79 67.48,1001.02 68.55,999.27 69.67,997.55 70.82,995.84 72.01,994.17 73.24,992.51 74.5,990.89 75.8,989.29 77.13,987.72 78.49,986.18 79.89,984.67 81.32,983.2 82.78,981.76 84.27,980.35 85.8,978.99 87.35,977.66 88.92,976.36 90.53,975.11 92.16,973.91 93.82,972.74 95.5,971.62 97.21,970.54 98.93,969.51 100.69,968.53 102.46,967.59 104.25,966.7 106.06,965.86 107.89,965.07 109.74,964.33 111.6,963.63 113.47,962.98 115.36,962.38 117.26,961.83 119.17,961.33 121.09,960.88 123.02,960.47 124.95,960.12 126.89,959.82 128.83,959.57 130.78,959.36 132.73,959.21 134.68,959.11 136.63,959.06 138.58,959.06 140.53,959.11 142.47,959.22 144.41,959.38 146.34,959.58 148.27,959.84 150.18,960.16 152.09,960.52 153.99,960.94 155.87,961.41 157.74,961.94 159.6,962.52 161.44,963.15 163.27,963.82 165.09,964.55 166.89,965.32 168.68,966.14 170.45,967.01 172.2,967.91 173.94,968.86 175.66,969.85 177.37,970.88 179.06,971.95 180.73,973.06 182.38,974.2 184.02,975.37 185.64,976.58 187.24,977.82 188.82,979.09 190.38,980.39 191.93,981.72 193.45,983.08 194.96,984.46 196.44,985.87 197.9,987.3 199.34,988.75 200.77,990.22 202.17,991.71 203.54,993.22 204.9,994.74 206.23,996.28 207.54,997.84 208.83,999.41 210.1,1000.99 211.35,1002.59 212.58,1004.2 213.79,1005.82 214.98,1007.46 216.15,1009.1 217.3,1010.76 218.44,1012.43 219.56,1014.11 220.67,1015.79 221.76,1017.49 222.84,1019.19 223.9,1020.91 224.95,1022.63 225.99,1024.36 227.02,1026.1 228.04,1027.84 229.04,1029.59 230.04,1031.35 231.02,1033.11 232,1034.87 232.97,1036.64 233.93,1038.42 234.89,1040.2 235.84,1041.98 236.78,1043.76 237.72,1045.55 238.66,1047.33 239.59,1049.12 240.52,1050.91 241.44,1052.71 242.36,1054.5 243.28,1056.3 244.19,1058.09 245.1,1059.89 246.01,1061.69 246.91,1063.49 247.81,1065.29 248.7,1067.1 249.6,1068.9 250.48,1070.71 251.37,1072.52 252.25,1074.33 253.13,1076.14 254,1077.95 254.87,1079.76 255.74,1081.58 256.6,1083.39 257.46,1085.21 258.31,1087.03 259.17,1088.85 260.01,1090.67 260.86,1092.5 261.7,1094.32 262.54,1096.15 263.37,1097.98 264.2,1099.8 265.03,1101.63 265.85,1103.47 266.67,1105.3 267.49,1107.13 268.3,1108.97 269.11,1110.81 269.91,1112.65 270.71,1114.49 271.51,1116.33 272.31,1118.17 273.1,1120.02 273.88,1121.86 274.67,1123.71 275.45,1125.56 276.22,1127.41 277,1129.26 277.76,1131.11 278.53,1132.97 279.29,1134.82 280.05,1136.68 280.8,1138.54 281.56,1140.4 282.3,1142.26 283.05,1144.12 283.79,1145.99 284.52,1147.85 285.25,1149.72 285.98,1151.59 286.71,1153.46 287.43,1155.33 288.15,1157.2 288.86,1159.08 289.57,1160.95 290.28,1162.83 290.99,1164.71 291.69,1166.59 292.38,1168.47 293.08,1170.35 293.76,1172.23 294.45,1174.12 295.13,1176.01 295.81,1177.89 296.49,1179.78 297.16,1181.67 297.82,1183.57 298.49,1185.46 299.15,1187.35 299.8,1189.25 300.46,1191.15 301.11,1193.05 301.75,1194.95 302.4,1196.85 303.03,1198.75 303.67,1200.66 304.3,1202.56 304.93,1204.47 305.55,1206.38 306.17,1208.29 306.79,1210.2 307.4,1212.11 308.01,1214.03 308.62,1215.94 309.22,1217.86 309.82,1219.78 310.41,1221.7 311,1223.62 311.59,1225.54 312.18,1227.46 312.76,1229.39 313.33,1231.32 313.91,1233.24 314.48,1235.17 315.04,1237.1 315.6,1239.04 316.16,1240.97 316.72,1242.9 317.27,1244.84 317.82,1246.78 318.36,1248.72 318.9,1250.66 319.44,1252.6 319.97,1254.54 320.5,1256.49 321.03,1258.43 321.55,1260.38 322.07,1262.33 322.58,1264.28 323.1,1266.23 323.6,1268.18 324.11,1270.14 324.61,1272.09 325.1,1274.05 325.6,1276.01" stroke="#f00" stroke-width="2.5" fill="none" stroke-dasharray="8,8"/>
<path d="M59.02,1060.7L59.34,1058.83 59.66,1056.94 60,1055.04 60.34,1053.12 60.7,1051.19 61.07,1049.25 61.45,1047.3 61.85,1045.35 62.26,1043.38 62.69,1041.41 63.13,1039.43 63.6,1037.44 64.08,1035.46 64.58,1033.47 65.1,1031.48 65.64,1029.5 66.2,1027.51 66.78,1025.53 67.39,1023.56 68.02,1021.59 68.68,1019.63 69.36,1017.67 70.07,1015.73 70.8,1013.8 71.56,1011.88 72.36,1009.97 73.18,1008.08 74.03,1006.21 74.92,1004.35 75.83,1002.51 76.78,1000.69 77.77,998.89 78.78,997.12 79.84,995.36 80.92,993.64 82.05,991.93 83.2,990.26 84.39,988.61 85.61,987 86.86,985.41 88.14,983.85 89.46,982.33 90.81,980.84 92.18,979.38 93.59,977.96 95.02,976.57 96.49,975.22 97.98,973.92 99.5,972.65 101.04,971.42 102.61,970.23 104.21,969.09 105.84,967.99 107.49,966.93 109.16,965.92 110.86,964.96 112.59,964.05 114.33,963.18 116.1,962.37 117.89,961.6 119.71,960.89 121.54,960.24 123.4,959.63 125.27,959.09 127.17,958.6 129.08,958.16 131.01,957.79 132.96,957.47 134.92,957.2 136.9,956.99 138.88,956.84 140.88,956.74 142.88,956.69 144.89,956.7 146.9,956.76 148.91,956.87 150.93,957.03 152.94,957.25 154.95,957.51 156.96,957.83 158.96,958.19 160.95,958.6 162.93,959.06 164.91,959.57 166.87,960.13 168.81,960.73 170.74,961.38 172.65,962.08 174.55,962.82 176.42,963.6 178.27,964.43 180.09,965.31 181.89,966.22 183.66,967.18 185.4,968.18 187.11,969.23 188.79,970.31 190.43,971.43 192.04,972.6 193.61,973.8 195.15,975.04 196.66,976.32 198.13,977.63 199.57,978.98 200.98,980.36 202.36,981.77 203.71,983.21 205.03,984.69 206.32,986.19 207.58,987.72 208.82,989.28 210.02,990.86 211.21,992.47 212.36,994.1 213.49,995.76 214.6,997.43 215.68,999.12 216.74,1000.84 217.78,1002.57 218.8,1004.32 219.79,1006.09 220.77,1007.87 221.72,1009.66 222.66,1011.46 223.58,1013.28 224.48,1015.11 225.36,1016.95 226.23,1018.79 227.08,1020.64 227.92,1022.5 228.74,1024.37 229.55,1026.23 230.34,1028.1 231.13,1029.98 231.89,1031.86 232.65,1033.74 233.39,1035.62 234.12,1037.51 234.84,1039.4 235.55,1041.29 236.25,1043.19 236.93,1045.09 237.6,1046.99 238.26,1048.9 238.92,1050.8 239.56,1052.72 240.19,1054.63 240.8,1056.55 241.41,1058.46 242.01,1060.39 242.6,1062.31 243.18,1064.24 243.76,1066.17 244.32,1068.1 244.87,1070.03 245.42,1071.97 245.95,1073.9 246.48,1075.84 247,1077.79 247.51,1079.73 248.02,1081.68 248.52,1083.62 249.01,1085.57 249.49,1087.53 249.97,1089.48 250.44,1091.43 250.9,1093.39 251.36,1095.35 251.81,1097.31 252.26,1099.27 252.7,1101.23 253.14,1103.19 253.57,1105.16 254,1107.12 254.42,1109.09 254.83,1111.06 255.25,1113.03 255.66,1115 256.06,1116.97 256.46,1118.94 256.86,1120.92 257.26,1122.89 257.65,1124.86 258.04,1126.84 258.43,1128.81 258.81,1130.79 259.19,1132.77 259.57,1134.74 259.95,1136.72 260.33,1138.7 260.71,1140.68 261.08,1142.65 261.46,1144.63 261.83,1146.61 262.2,1148.59 262.58,1150.57 262.95,1152.54 263.32,1154.52 263.7,1156.5 264.07,1158.48 264.44,1160.46 264.81,1162.44 265.18,1164.41 265.54,1166.39 265.91,1168.37 266.28,1170.35 266.64,1172.33 267,1174.31 267.36,1176.29 267.72,1178.27 268.08,1180.25 268.43,1182.23 268.78,1184.21 269.13,1186.19 269.48,1188.17 269.83,1190.15 270.17,1192.13 270.51,1194.12 270.85,1196.1 271.18,1198.08 271.51,1200.07 271.84,1202.05 272.16,1204.04 272.48,1206.02 272.8,1208.01 273.11,1209.99 273.42,1211.98 273.73,1213.97 274.03,1215.96 274.33,1217.95 274.62,1219.94 274.91,1221.93 275.19,1223.92 275.47,1225.91 275.75,1227.9 276.02,1229.89 276.28,1231.89 276.54,1233.88 276.79,1235.88 277.04,1237.88 277.29,1239.87 277.52,1241.87 277.76,1243.87 277.98,1245.87 278.2,1247.87 278.42,1249.87 278.62,1251.88 278.83,1253.88 279.02,1255.89 279.21,1257.89 279.39,1259.9 279.57,1261.91 279.73,1263.92 279.89,1265.93 280.05,1267.94 280.2,1269.96 280.33,1271.97 280.47,1273.99 280.59,1276" stroke="#f00" stroke-width="2.5" fill="none"/>
<path d="M59,1049.69L59.23,1047.82 59.44,1045.92 59.62,1044 59.79,1042.05 59.94,1040.09 60.08,1038.12 60.2,1036.12 60.32,1034.11 60.43,1032.09 60.54,1030.06 60.64,1028.02 60.75,1025.97 60.86,1023.92 60.97,1021.86 61.1,1019.79 61.24,1017.73 61.39,1015.66 61.56,1013.6 61.75,1011.53 61.96,1009.47 62.19,1007.42 62.45,1005.38 62.74,1003.34 63.07,1001.31 63.42,999.3 63.82,997.29 64.26,995.31 64.73,993.34 65.26,991.38 65.83,989.45 66.45,987.54 67.12,985.65 67.85,983.78 68.64,981.94 69.49,980.13 70.39,978.35 71.36,976.6 72.38,974.88 73.46,973.2 74.58,971.56 75.77,969.97 77,968.41 78.28,966.91 79.61,965.46 80.98,964.05 82.4,962.71 83.87,961.42 85.37,960.19 86.92,959.03 88.5,957.93 90.13,956.9 91.79,955.94 93.48,955.05 95.21,954.22 96.96,953.46 98.75,952.76 100.57,952.13 102.41,951.55 104.27,951.02 106.16,950.55 108.07,950.12 110,949.75 111.95,949.42 113.91,949.14 115.88,948.9 117.87,948.69 119.87,948.52 121.87,948.39 123.89,948.29 125.91,948.22 127.93,948.18 129.96,948.17 132,948.2 134.03,948.25 136.07,948.34 138.12,948.45 140.16,948.6 142.2,948.78 144.25,948.98 146.29,949.22 148.33,949.48 150.37,949.78 152.41,950.11 154.44,950.46 156.47,950.84 158.49,951.26 160.51,951.7 162.52,952.17 164.53,952.67 166.53,953.2 168.52,953.76 170.5,954.35 172.47,954.96 174.43,955.6 176.38,956.28 178.32,956.97 180.24,957.7 182.16,958.45 184.06,959.24 185.94,960.05 187.81,960.88 189.67,961.75 191.51,962.64 193.33,963.55 195.13,964.5 196.91,965.47 198.68,966.47 200.43,967.49 202.15,968.54 203.86,969.62 205.54,970.72 207.2,971.85 208.84,973 210.45,974.18 212.04,975.39 213.6,976.62 215.14,977.87 216.65,979.15 218.13,980.46 219.59,981.79 221.02,983.15 222.41,984.53 223.78,985.93 225.12,987.36 226.42,988.81 227.7,990.29 228.94,991.79 230.15,993.32 231.32,994.86 232.46,996.44 233.56,998.03 234.63,999.65 235.66,1001.29 236.66,1002.96 237.61,1004.64 238.53,1006.35 239.4,1008.09 240.24,1009.84 241.04,1011.62 241.8,1013.42 242.52,1015.24 243.2,1017.08 243.85,1018.94 244.46,1020.81 245.04,1022.7 245.59,1024.61 246.1,1026.54 246.59,1028.48 247.04,1030.43 247.47,1032.39 247.87,1034.37 248.25,1036.36 248.59,1038.36 248.92,1040.37 249.22,1042.39 249.5,1044.41 249.76,1046.45 250,1048.49 250.22,1050.53 250.42,1052.58 250.61,1054.63 250.78,1056.69 250.94,1058.75 251.08,1060.81 251.21,1062.87 251.33,1064.93 251.44,1066.99 251.53,1069.05 251.63,1071.11 251.71,1073.16 251.79,1075.21 251.86,1077.25 251.93,1079.29 251.99,1081.32 252.04,1083.35 252.1,1085.37 252.15,1087.4 252.19,1089.41 252.23,1091.43 252.27,1093.44 252.3,1095.45 252.33,1097.45 252.36,1099.45 252.39,1101.45 252.41,1103.45 252.43,1105.45 252.45,1107.44 252.46,1109.43 252.48,1111.42 252.49,1113.41 252.5,1115.4 252.51,1117.39 252.52,1119.37 252.53,1121.36 252.54,1123.34 252.55,1125.33 252.56,1127.32 252.57,1129.3 252.58,1131.29 252.59,1133.28 252.6,1135.26 252.61,1137.25 252.62,1139.24 252.64,1141.23 252.65,1143.23 252.67,1145.22 252.69,1147.22 252.71,1149.22 252.73,1151.22 252.76,1153.22 252.78,1155.22 252.81,1157.23 252.84,1159.23 252.87,1161.24 252.9,1163.25 252.93,1165.26 252.96,1167.27 252.99,1169.28 253.03,1171.3 253.06,1173.31 253.1,1175.32 253.14,1177.34 253.18,1179.36 253.21,1181.37 253.25,1183.39 253.29,1185.41 253.33,1187.43 253.37,1189.45 253.41,1191.47 253.45,1193.49 253.5,1195.51 253.54,1197.53 253.58,1199.55 253.62,1201.57 253.66,1203.59 253.7,1205.62 253.74,1207.64 253.78,1209.66 253.82,1211.68 253.86,1213.7 253.9,1215.72 253.94,1217.74 253.98,1219.77 254.02,1221.79 254.06,1223.81 254.09,1225.82 254.13,1227.84 254.16,1229.86 254.2,1231.88 254.23,1233.9 254.26,1235.91 254.3,1237.93 254.33,1239.94 254.35,1241.96 254.38,1243.97 254.41,1245.98 254.43,1247.99 254.45,1250 254.48,1252.01 254.5,1254.02 254.51,1256.02 254.53,1258.03 254.55,1260.03 254.56,1262.03 254.57,1264.03 254.58,1266.03 254.59,1268.03 254.59,1270.02 254.6,1272.01 254.6,1274.01 254.59,1276" stroke="#00f" stroke-width="2.5" fill="none"/>
</g>
<g>
<path d="M597.11,1275.63V1270.53M619.76,1275.63V1270.53M642.42,1275.63V1270.53M665.07,1275.63V1265.03M687.73,1275.63V1270.53M710.38,1275.63V1270.53M733.04,1275.63V1270.53M755.69,1275.63V1265.03M778.35,1275.63V1270.53M801.01,1275.63V1270.53M823.66,1275.63V1270.53M846.32,1275.63V1265.03M868.97,1275.63V1270.53M891.63,1275.63V1270.53M914.28,1275.63V1270.53M936.94,1275.63V1265.03M959.59,1275.63V1270.53M574.45,1252H580.55M574.45,1238.17H580.55M574.45,1228.36H580.55M574.45,1220.76H580.55M574.45,1214.54H580.55M574.45,1209.28H580.55M574.45,1204.73H580.55M574.45,1200.71H580.55M574.45,1197.12H586.75M574.45,1173.49H580.55M574.45,1159.66H580.55M574.45,1149.85H580.55M574.45,1142.25H580.55M574.45,1136.03H580.55M574.45,1130.77H580.55M574.45,1126.22H580.55M574.45,1122.21H580.55M574.45,1118.61H586.75M574.45,1094.98H580.55M574.45,1081.16H580.55M574.45,1071.35H580.55M574.45,1063.74H580.55M574.45,1057.52H580.55M574.45,1052.27H580.55M574.45,1047.71H580.55M574.45,1043.7H580.55M574.45,1040.11H586.75M574.45,1016.47H580.55M574.45,1002.65H580.55M574.45,992.84H580.55M574.45,985.23H580.55M574.45,979.01H580.55M574.45,973.76H580.55M574.45,969.2H580.55M574.45,965.19H580.55M574.45,961.6H586.75M574.45,937.96H580.55M574.45,924.14H580.55" stroke="#000" stroke-width="2.0" fill="none"/>
<rect x="574.45" y="914.33" width="407.8" height="361.3" fill="none" stroke="#000" stroke-width="2.2"/>
<text x="573.05" y="1293.33" text-anchor="middle" font-size="20">0</text>
<text x="663.67" y="1293.33" text-anchor="middle" font-size="20">0.02</text>
<text x="754.29" y="1293.33" text-anchor="middle" font-size="20">0.04</text>
<text x="844.92" y="1293.33" text-anchor="middle" font-size="20">0.06</text>
<text x="935.54" y="1293.33" text-anchor="middle" font-size="20">0.08</text>
<text x="557.05" y="1283.53" text-anchor="end" font-size="20">10</text>
<path d="M556.05,1271.13H562.25" stroke="#000" stroke-width="1.3"/>
<text x="568.85" y="1274.53" text-anchor="end" font-size="12.5">1</text>
<text x="568.75" y="1204.32" text-anchor="end" font-size="20">1</text>
<text x="568.75" y="1125.81" text-anchor="end" font-size="20">10</text>
<text x="567.95" y="1049.51" text-anchor="end" font-size="20">10<tspan font-size="12.5" dy="-11">2</tspan></text>
<text x="567.95" y="971" text-anchor="end" font-size="20">10<tspan font-size="12.5" dy="-11">3</tspan></text>
<text x="777.75" y="1317.93" text-anchor="middle" font-size="19.7">1/E<tspan font-size="12.8" dy="5.6">cm</tspan><tspan dy="-5.6"> (MeV</tspan><tspan font-size="12.8" dy="-8.4">-1</tspan><tspan dy="8.4">)</tspan></text>
<text transform="translate(531.25,1093.48) rotate(-90)" text-anchor="middle" font-size="20.6">σ<tspan font-size="13" dy="6">f</tspan><tspan dy="-6"> (mb)</tspan></text>
<text x="818.45" y="960.83" font-size="21" font-weight="bold"><tspan font-size="12" dy="-9.7">30</tspan><tspan dy="9.7">Si+</tspan><tspan font-size="12" dy="-9.7">30</tspan><tspan dy="9.7">Si</tspan></text>
<path d="M803.05,1031.83H827.75" stroke="#f00" stroke-width="2.6" stroke-dasharray="8,8"/>
<path d="M803.05,1073.73H827.75" stroke="#f00" stroke-width="2.6"/>
<path d="M803.05,1115.83H827.75" stroke="#00f" stroke-width="2.6"/>
<text x="832.05" y="1035.33" font-size="14">Our model (10 n)</text>
<text x="832.05" y="1077.33" font-size="14">Our model (15 n)</text>
<text x="832.05" y="1119.33" font-size="14">phen. for.</text>
<path d="M737.4,1086.9V1098.9M734.2,1086.9H740.6M734.2,1098.9H740.6M739.7,1103.2V1115.2M736.5,1103.2H742.9M736.5,1115.2H742.9M741.3,1139.9V1153.9M738.1,1139.9H744.5M738.1,1153.9H744.5" stroke="#000" stroke-width="2" fill="none"/>
<circle cx="740.2" cy="1081.1" r="4.3"/>
<circle cx="737.4" cy="1092.9" r="4.3"/>
<circle cx="739.7" cy="1109.2" r="4.3"/>
<circle cx="741.3" cy="1146.9" r="4.3"/>
<circle cx="743.5" cy="1072" r="4.3"/>
<circle cx="646" cy="969" r="4.3"/>
<circle cx="648.5" cy="969" r="4.3"/>
<circle cx="651" cy="969" r="4.3"/>
<circle cx="658" cy="957" r="4.3"/>
<circle cx="660.5" cy="957.5" r="4.3"/>
<circle cx="663" cy="958" r="4.3"/>
<circle cx="665.5" cy="958.5" r="4.3"/>
<circle cx="668" cy="959" r="4.3"/>
<circle cx="670.5" cy="959.75" r="4.3"/>
<circle cx="673" cy="960.5" r="4.3"/>
<circle cx="675.5" cy="961.25" r="4.3"/>
<circle cx="678" cy="962" r="4.3"/>
<circle cx="680.5" cy="963.25" r="4.3"/>
<circle cx="683" cy="964.5" r="4.3"/>
<circle cx="685.5" cy="965.75" r="4.3"/>
<circle cx="688" cy="967" r="4.3"/>
<circle cx="690.25" cy="968.5" r="4.3"/>
<circle cx="692.5" cy="970" r="4.3"/>
<circle cx="694.75" cy="971.5" r="4.3"/>
<circle cx="697" cy="973" r="4.3"/>
<circle cx="699" cy="975" r="4.3"/>
<circle cx="701" cy="977" r="4.3"/>
<circle cx="703" cy="979" r="4.3"/>
<circle cx="705" cy="981" r="4.3"/>
<circle cx="706.75" cy="983.5" r="4.3"/>
<circle cx="708.5" cy="986" r="4.3"/>
<circle cx="710.25" cy="988.5" r="4.3"/>
<circle cx="712" cy="991" r="4.3"/>
<circle cx="713.4" cy="993.4" r="4.3"/>
<circle cx="714.8" cy="995.8" r="4.3"/>
<circle cx="716.2" cy="998.2" r="4.3"/>
<circle cx="717.6" cy="1000.6" r="4.3"/>
<circle cx="719" cy="1003" r="4.3"/>
<circle cx="720.2" cy="1005.6" r="4.3"/>
<circle cx="721.4" cy="1008.2" r="4.3"/>
<circle cx="722.6" cy="1010.8" r="4.3"/>
<circle cx="723.8" cy="1013.4" r="4.3"/>
<circle cx="725" cy="1016" r="4.3"/>
<circle cx="725.83" cy="1018.5" r="4.3"/>
<circle cx="726.67" cy="1021" r="4.3"/>
<circle cx="727.5" cy="1023.5" r="4.3"/>
<circle cx="728.33" cy="1026" r="4.3"/>
<circle cx="729.17" cy="1028.5" r="4.3"/>
<circle cx="730" cy="1031" r="4.3"/>
<circle cx="730.67" cy="1033.83" r="4.3"/>
<circle cx="731.33" cy="1036.67" r="4.3"/>
<circle cx="732" cy="1039.5" r="4.3"/>
<circle cx="732.67" cy="1042.33" r="4.3"/>
<circle cx="733.33" cy="1045.17" r="4.3"/>
<circle cx="734" cy="1048" r="4.3"/>
<circle cx="734.57" cy="1050.57" r="4.3"/>
<circle cx="735.14" cy="1053.14" r="4.3"/>
<circle cx="735.71" cy="1055.71" r="4.3"/>
<circle cx="736.29" cy="1058.29" r="4.3"/>
<circle cx="736.86" cy="1060.86" r="4.3"/>
<circle cx="737.43" cy="1063.43" r="4.3"/>
<circle cx="738" cy="1066" r="4.3"/>
<circle cx="738.75" cy="1069" r="4.3"/>
<circle cx="739.5" cy="1072" r="4.3"/>
<circle cx="740.25" cy="1075" r="4.3"/>
<circle cx="741" cy="1078" r="4.3"/>
<circle cx="672" cy="967" r="4.3"/>
<circle cx="674.5" cy="968" r="4.3"/>
<circle cx="677" cy="969" r="4.3"/>
<circle cx="679.5" cy="970" r="4.3"/>
<circle cx="682" cy="971" r="4.3"/>
<circle cx="684.25" cy="972.5" r="4.3"/>
<circle cx="686.5" cy="974" r="4.3"/>
<circle cx="688.75" cy="975.5" r="4.3"/>
<circle cx="691" cy="977" r="4.3"/>
<circle cx="693.33" cy="979.33" r="4.3"/>
<circle cx="695.67" cy="981.67" r="4.3"/>
<circle cx="698" cy="984" r="4.3"/>
<circle cx="699.75" cy="986.25" r="4.3"/>
<circle cx="701.5" cy="988.5" r="4.3"/>
<circle cx="703.25" cy="990.75" r="4.3"/>
<circle cx="705" cy="993" r="4.3"/>
<circle cx="706.5" cy="995.5" r="4.3"/>
<circle cx="708" cy="998" r="4.3"/>
<circle cx="709.5" cy="1000.5" r="4.3"/>
<circle cx="711" cy="1003" r="4.3"/>
<path d="M576.01,1019.4L576.51,1017.56 577.06,1015.71 577.66,1013.87 578.31,1012.02 579,1010.18 579.73,1008.34 580.52,1006.51 581.34,1004.68 582.21,1002.86 583.12,1001.06 584.08,999.26 585.08,997.49 586.12,995.72 587.2,993.98 588.32,992.26 589.49,990.56 590.69,988.89 591.93,987.24 593.21,985.62 594.53,984.03 595.88,982.47 597.28,980.95 598.71,979.46 600.17,978.01 601.67,976.6 603.21,975.23 604.78,973.9 606.38,972.62 608.02,971.39 609.69,970.2 611.39,969.07 613.11,967.99 614.87,966.96 616.65,965.99 618.46,965.09 620.28,964.24 622.13,963.45 623.99,962.73 625.87,962.07 627.76,961.49 629.66,960.97 631.58,960.53 633.5,960.16 635.43,959.87 637.36,959.66 639.29,959.52 641.22,959.47 643.16,959.48 645.08,959.58 647,959.75 648.92,959.99 650.82,960.3 652.71,960.68 654.58,961.13 656.44,961.65 658.28,962.24 660.1,962.89 661.89,963.61 663.66,964.39 665.41,965.24 667.13,966.14 668.82,967.11 670.49,968.13 672.13,969.2 673.75,970.33 675.35,971.5 676.91,972.72 678.46,973.99 679.98,975.31 681.48,976.66 682.95,978.05 684.4,979.48 685.82,980.95 687.22,982.45 688.6,983.98 689.96,985.54 691.29,987.13 692.6,988.74 693.89,990.37 695.15,992.03 696.4,993.7 697.62,995.39 698.81,997.1 699.99,998.82 701.15,1000.55 702.28,1002.28 703.39,1004.03 704.48,1005.77 705.56,1007.53 706.61,1009.28 707.64,1011.04 708.65,1012.8 709.64,1014.57 710.62,1016.34 711.58,1018.12 712.52,1019.9 713.44,1021.68 714.35,1023.47 715.25,1025.26 716.12,1027.05 716.99,1028.85 717.84,1030.65 718.68,1032.46 719.5,1034.26 720.31,1036.08 721.12,1037.89 721.9,1039.72 722.68,1041.54 723.45,1043.37 724.21,1045.2 724.96,1047.04 725.7,1048.88 726.44,1050.72 727.17,1052.57 727.88,1054.42 728.6,1056.27 729.31,1058.13 730.01,1059.99 730.7,1061.86 731.39,1063.73 732.08,1065.6 732.76,1067.47 733.43,1069.35 734.1,1071.23 734.77,1073.12 735.43,1075.01 736.09,1076.9 736.74,1078.79 737.38,1080.69 738.03,1082.59 738.67,1084.49 739.3,1086.39 739.93,1088.3 740.56,1090.2 741.18,1092.11 741.81,1094.03 742.42,1095.94 743.04,1097.86 743.65,1099.78 744.26,1101.7 744.86,1103.62 745.47,1105.54 746.07,1107.46 746.67,1109.39 747.26,1111.32 747.86,1113.25 748.45,1115.17 749.04,1117.1 749.63,1119.04 750.21,1120.97 750.8,1122.9 751.38,1124.83 751.96,1126.77 752.55,1128.7 753.13,1130.64 753.71,1132.57 754.29,1134.51 754.86,1136.44 755.44,1138.38 756.02,1140.32 756.6,1142.25 757.17,1144.19 757.75,1146.12 758.33,1148.06 758.91,1149.99 759.49,1151.92 760.07,1153.86 760.64,1155.79 761.23,1157.72 761.81,1159.65 762.39,1161.58 762.97,1163.51 763.56,1165.43 764.14,1167.36 764.73,1169.29 765.32,1171.21 765.91,1173.13 766.5,1175.05 767.09,1176.97 767.68,1178.89 768.27,1180.81 768.86,1182.73 769.45,1184.65 770.04,1186.57 770.63,1188.49 771.22,1190.41 771.81,1192.32 772.39,1194.24 772.98,1196.16 773.56,1198.08 774.14,1200 774.71,1201.92 775.29,1203.84 775.86,1205.75 776.43,1207.68 777,1209.6 777.56,1211.52 778.12,1213.44 778.68,1215.37 779.23,1217.29 779.78,1219.22 780.32,1221.14 780.86,1223.07 781.4,1225 781.93,1226.94 782.45,1228.87 782.97,1230.8 783.49,1232.74 783.99,1234.68 784.5,1236.62 784.99,1238.56 785.48,1240.51 785.97,1242.46 786.44,1244.41 786.91,1246.36 787.38,1248.32 787.83,1250.27 788.28,1252.23 788.72,1254.2 789.15,1256.16 789.58,1258.13 789.99,1260.1 790.4,1262.08 790.8,1264.06 791.19,1266.04 791.57,1268.03 791.94,1270.01 792.3,1272.01 792.65,1274 793,1276" stroke="#f00" stroke-width="2.5" fill="none" stroke-dasharray="8,8"/>
<path d="M576,1062.1L576.42,1060.09 576.84,1058.08 577.25,1056.08 577.65,1054.09 578.06,1052.11 578.46,1050.13 578.87,1048.16 579.28,1046.2 579.69,1044.25 580.11,1042.3 580.54,1040.37 580.97,1038.43 581.42,1036.51 581.87,1034.59 582.35,1032.68 582.83,1030.77 583.33,1028.87 583.85,1026.98 584.39,1025.09 584.95,1023.21 585.54,1021.33 586.14,1019.46 586.78,1017.6 587.44,1015.74 588.12,1013.88 588.84,1012.03 589.59,1010.18 590.38,1008.34 591.19,1006.51 592.05,1004.67 592.94,1002.84 593.87,1001.02 594.84,999.2 595.85,997.39 596.9,995.59 597.98,993.8 599.11,992.02 600.27,990.26 601.46,988.52 602.69,986.81 603.95,985.12 605.25,983.45 606.58,981.82 607.94,980.22 609.33,978.66 610.76,977.13 612.21,975.64 613.69,974.2 615.2,972.8 616.73,971.45 618.3,970.15 619.89,968.9 621.5,967.71 623.14,966.58 624.8,965.51 626.48,964.5 628.19,963.56 629.92,962.68 631.66,961.88 633.43,961.15 635.22,960.5 637.02,959.92 638.84,959.43 640.68,959.02 642.54,958.69 644.4,958.44 646.28,958.27 648.17,958.17 650.06,958.15 651.97,958.2 653.87,958.32 655.79,958.51 657.7,958.77 659.61,959.1 661.52,959.49 663.43,959.94 665.33,960.45 667.23,961.03 669.12,961.66 671,962.35 672.87,963.1 674.72,963.9 676.56,964.75 678.38,965.65 680.19,966.6 681.98,967.6 683.74,968.64 685.48,969.73 687.2,970.85 688.89,972.02 690.55,973.23 692.19,974.48 693.79,975.76 695.36,977.07 696.89,978.42 698.39,979.8 699.86,981.21 701.29,982.64 702.69,984.11 704.05,985.6 705.38,987.13 706.68,988.67 707.94,990.24 709.18,991.84 710.38,993.45 711.55,995.09 712.7,996.75 713.81,998.44 714.9,1000.14 715.95,1001.86 716.98,1003.59 717.99,1005.35 718.96,1007.11 719.91,1008.9 720.84,1010.7 721.73,1012.51 722.61,1014.33 723.46,1016.16 724.29,1018.01 725.09,1019.86 725.87,1021.73 726.63,1023.6 727.37,1025.48 728.09,1027.36 728.78,1029.25 729.46,1031.14 730.12,1033.04 730.76,1034.94 731.38,1036.84 731.99,1038.75 732.57,1040.66 733.15,1042.58 733.7,1044.5 734.25,1046.42 734.78,1048.34 735.29,1050.27 735.8,1052.2 736.29,1054.13 736.77,1056.07 737.24,1058.01 737.7,1059.95 738.16,1061.89 738.6,1063.84 739.04,1065.79 739.46,1067.74 739.89,1069.69 740.3,1071.64 740.72,1073.6 741.13,1075.56 741.53,1077.51 741.93,1079.47 742.33,1081.43 742.73,1083.39 743.12,1085.36 743.52,1087.32 743.92,1089.29 744.32,1091.25 744.72,1093.22 745.12,1095.18 745.52,1097.15 745.92,1099.12 746.32,1101.08 746.73,1103.05 747.13,1105.02 747.54,1106.99 747.94,1108.96 748.34,1110.93 748.75,1112.9 749.15,1114.87 749.55,1116.84 749.95,1118.82 750.35,1120.79 750.75,1122.76 751.15,1124.74 751.54,1126.71 751.93,1128.69 752.32,1130.66 752.71,1132.64 753.1,1134.61 753.48,1136.59 753.86,1138.57 754.23,1140.55 754.61,1142.52 754.98,1144.5 755.34,1146.48 755.7,1148.46 756.06,1150.44 756.41,1152.42 756.76,1154.4 757.11,1156.39 757.44,1158.37 757.78,1160.35 758.11,1162.33 758.44,1164.32 758.76,1166.3 759.08,1168.28 759.4,1170.27 759.71,1172.25 760.02,1174.24 760.32,1176.22 760.62,1178.21 760.92,1180.2 761.21,1182.18 761.5,1184.17 761.78,1186.16 762.07,1188.15 762.35,1190.14 762.62,1192.13 762.89,1194.12 763.16,1196.11 763.43,1198.1 763.69,1200.09 763.95,1202.08 764.2,1204.07 764.45,1206.06 764.7,1208.05 764.95,1210.05 765.19,1212.04 765.43,1214.03 765.67,1216.03 765.91,1218.02 766.14,1220.02 766.37,1222.01 766.59,1224.01 766.82,1226 767.04,1228 767.26,1229.99 767.47,1231.99 767.69,1233.99 767.9,1235.98 768.11,1237.98 768.32,1239.98 768.52,1241.98 768.72,1243.98 768.92,1245.98 769.12,1247.98 769.32,1249.98 769.51,1251.98 769.7,1253.98 769.9,1255.98 770.08,1257.98 770.27,1259.98 770.46,1261.98 770.64,1263.98 770.82,1265.98 771,1267.99 771.18,1269.99 771.35,1271.99 771.53,1274 771.7,1276" stroke="#f00" stroke-width="2.5" fill="none"/>
<path d="M576.01,1055.19L576.15,1053.37 576.29,1051.51 576.4,1049.62 576.5,1047.7 576.59,1045.75 576.67,1043.77 576.75,1041.77 576.82,1039.75 576.89,1037.71 576.97,1035.65 577.05,1033.58 577.13,1031.5 577.23,1029.4 577.34,1027.3 577.46,1025.2 577.61,1023.09 577.77,1020.98 577.95,1018.87 578.16,1016.77 578.4,1014.68 578.67,1012.6 578.98,1010.52 579.32,1008.47 579.69,1006.43 580.11,1004.4 580.58,1002.4 581.08,1000.43 581.64,998.48 582.25,996.56 582.92,994.66 583.64,992.81 584.42,990.99 585.26,989.2 586.16,987.46 587.11,985.75 588.13,984.09 589.19,982.46 590.31,980.88 591.49,979.33 592.71,977.83 593.98,976.38 595.3,974.96 596.66,973.6 598.07,972.28 599.51,971 601,969.77 602.53,968.59 604.1,967.46 605.7,966.38 607.34,965.35 609.01,964.37 610.72,963.44 612.45,962.56 614.21,961.73 616,960.96 617.82,960.25 619.66,959.59 621.52,958.98 623.4,958.43 625.31,957.94 627.23,957.51 629.17,957.13 631.12,956.82 633.09,956.56 635.07,956.37 637.06,956.23 639.06,956.16 641.06,956.14 643.07,956.18 645.09,956.28 647.11,956.43 649.13,956.64 651.15,956.9 653.17,957.21 655.19,957.58 657.2,957.99 659.21,958.46 661.21,958.98 663.2,959.54 665.18,960.16 667.14,960.81 669.09,961.52 671.03,962.27 672.95,963.06 674.86,963.9 676.74,964.78 678.6,965.7 680.44,966.66 682.25,967.66 684.04,968.7 685.8,969.78 687.53,970.89 689.24,972.04 690.91,973.22 692.54,974.44 694.14,975.69 695.71,976.98 697.24,978.29 698.73,979.64 700.19,981.02 701.61,982.43 702.99,983.86 704.34,985.33 705.66,986.82 706.94,988.33 708.18,989.88 709.39,991.45 710.56,993.04 711.7,994.66 712.8,996.29 713.87,997.96 714.9,999.64 715.9,1001.34 716.86,1003.07 717.79,1004.81 718.68,1006.57 719.54,1008.35 720.36,1010.14 721.15,1011.96 721.91,1013.78 722.63,1015.63 723.31,1017.48 723.97,1019.35 724.58,1021.24 725.17,1023.13 725.72,1025.04 726.24,1026.95 726.72,1028.88 727.17,1030.81 727.59,1032.76 727.98,1034.71 728.34,1036.67 728.67,1038.64 728.98,1040.61 729.26,1042.59 729.52,1044.58 729.75,1046.58 729.96,1048.58 730.15,1050.58 730.33,1052.59 730.48,1054.61 730.61,1056.63 730.73,1058.65 730.84,1060.68 730.93,1062.71 731.01,1064.74 731.08,1066.77 731.13,1068.81 731.18,1070.84 731.22,1072.88 731.25,1074.92 731.28,1076.96 731.31,1079 731.33,1081.03 731.35,1083.07 731.36,1085.1 731.38,1087.14 731.4,1089.17 731.42,1091.2 731.45,1093.22 731.47,1095.24 731.5,1097.27 731.54,1099.28 731.57,1101.3 731.61,1103.31 731.65,1105.33 731.69,1107.34 731.73,1109.34 731.77,1111.35 731.82,1113.36 731.86,1115.36 731.91,1117.36 731.96,1119.37 732.01,1121.37 732.06,1123.37 732.11,1125.37 732.16,1127.36 732.21,1129.36 732.26,1131.36 732.31,1133.36 732.36,1135.35 732.42,1137.35 732.47,1139.35 732.52,1141.35 732.57,1143.34 732.61,1145.34 732.66,1147.34 732.71,1149.34 732.75,1151.34 732.8,1153.34 732.84,1155.34 732.88,1157.35 732.92,1159.35 732.96,1161.35 733,1163.36 733.03,1165.37 733.07,1167.37 733.1,1169.38 733.14,1171.39 733.17,1173.4 733.2,1175.41 733.23,1177.42 733.26,1179.43 733.29,1181.44 733.31,1183.45 733.34,1185.47 733.37,1187.48 733.39,1189.49 733.42,1191.51 733.44,1193.52 733.46,1195.54 733.49,1197.55 733.51,1199.57 733.53,1201.58 733.56,1203.6 733.58,1205.61 733.6,1207.63 733.62,1209.65 733.65,1211.66 733.67,1213.68 733.69,1215.69 733.71,1217.71 733.73,1219.72 733.76,1221.74 733.78,1223.76 733.8,1225.77 733.82,1227.79 733.85,1229.8 733.87,1231.82 733.9,1233.83 733.92,1235.84 733.95,1237.86 733.97,1239.87 734,1241.88 734.03,1243.9 734.05,1245.91 734.08,1247.92 734.11,1249.93 734.14,1251.94 734.17,1253.95 734.21,1255.96 734.24,1257.97 734.28,1259.97 734.31,1261.98 734.35,1263.98 734.39,1265.99 734.43,1267.99 734.47,1270 734.51,1272 734.55,1274 734.6,1276" stroke="#00f" stroke-width="2.5" fill="none"/>
</g>
<g>
<path d="M1113.61,1275.63V1270.53M1136.26,1275.63V1270.53M1158.92,1275.63V1270.53M1181.57,1275.63V1265.03M1204.23,1275.63V1270.53M1226.88,1275.63V1270.53M1249.54,1275.63V1270.53M1272.19,1275.63V1265.03M1294.85,1275.63V1270.53M1317.51,1275.63V1270.53M1340.16,1275.63V1270.53M1362.82,1275.63V1265.03M1385.47,1275.63V1270.53M1408.13,1275.63V1270.53M1430.78,1275.63V1270.53M1453.44,1275.63V1265.03M1476.09,1275.63V1270.53M1090.95,1252H1097.05M1090.95,1238.17H1097.05M1090.95,1228.36H1097.05M1090.95,1220.76H1097.05M1090.95,1214.54H1097.05M1090.95,1209.28H1097.05M1090.95,1204.73H1097.05M1090.95,1200.71H1097.05M1090.95,1197.12H1103.25M1090.95,1173.49H1097.05M1090.95,1159.66H1097.05M1090.95,1149.85H1097.05M1090.95,1142.25H1097.05M1090.95,1136.03H1097.05M1090.95,1130.77H1097.05M1090.95,1126.22H1097.05M1090.95,1122.21H1097.05M1090.95,1118.61H1103.25M1090.95,1094.98H1097.05M1090.95,1081.16H1097.05M1090.95,1071.35H1097.05M1090.95,1063.74H1097.05M1090.95,1057.52H1097.05M1090.95,1052.27H1097.05M1090.95,1047.71H1097.05M1090.95,1043.7H1097.05M1090.95,1040.11H1103.25M1090.95,1016.47H1097.05M1090.95,1002.65H1097.05M1090.95,992.84H1097.05M1090.95,985.23H1097.05M1090.95,979.01H1097.05M1090.95,973.76H1097.05M1090.95,969.2H1097.05M1090.95,965.19H1097.05M1090.95,961.6H1103.25M1090.95,937.96H1097.05M1090.95,924.14H1097.05" stroke="#000" stroke-width="2.0" fill="none"/>
<rect x="1090.95" y="914.33" width="407.8" height="361.3" fill="none" stroke="#000" stroke-width="2.2"/>
<text x="1089.55" y="1293.33" text-anchor="middle" font-size="20">0</text>
<text x="1180.17" y="1293.33" text-anchor="middle" font-size="20">0.02</text>
<text x="1270.79" y="1293.33" text-anchor="middle" font-size="20">0.04</text>
<text x="1361.42" y="1293.33" text-anchor="middle" font-size="20">0.06</text>
<text x="1452.04" y="1293.33" text-anchor="middle" font-size="20">0.08</text>
<text x="1073.55" y="1283.53" text-anchor="end" font-size="20">10</text>
<path d="M1072.55,1271.13H1078.75" stroke="#000" stroke-width="1.3"/>
<text x="1085.35" y="1274.53" text-anchor="end" font-size="12.5">1</text>
<text x="1085.25" y="1204.32" text-anchor="end" font-size="20">1</text>
<text x="1085.25" y="1125.81" text-anchor="end" font-size="20">10</text>
<text x="1084.45" y="1049.51" text-anchor="end" font-size="20">10<tspan font-size="12.5" dy="-11">2</tspan></text>
<text x="1084.45" y="971" text-anchor="end" font-size="20">10<tspan font-size="12.5" dy="-11">3</tspan></text>
<text x="1294.25" y="1317.93" text-anchor="middle" font-size="19.7">1/E<tspan font-size="12.8" dy="5.6">cm</tspan><tspan dy="-5.6"> (MeV</tspan><tspan font-size="12.8" dy="-8.4">-1</tspan><tspan dy="8.4">)</tspan></text>
<text transform="translate(1047.75,1093.48) rotate(-90)" text-anchor="middle" font-size="20.6">σ<tspan font-size="13" dy="6">f</tspan><tspan dy="-6"> (mb)</tspan></text>
<text x="1334.95" y="960.83" font-size="21" font-weight="bold"><tspan font-size="12" dy="-9.7">35</tspan><tspan dy="9.7">Cl+</tspan><tspan font-size="12" dy="-9.7">25</tspan><tspan dy="9.7">Mg</tspan></text>
<path d="M1319.55,1031.83H1344.25" stroke="#f00" stroke-width="2.6" stroke-dasharray="8,8"/>
<path d="M1319.55,1073.73H1344.25" stroke="#f00" stroke-width="2.6"/>
<path d="M1319.55,1115.83H1344.25" stroke="#00f" stroke-width="2.6"/>
<text x="1348.55" y="1035.33" font-size="14">Our model (10 n)</text>
<text x="1348.55" y="1077.33" font-size="14">Our model (15 n)</text>
<text x="1348.55" y="1119.33" font-size="14">phen. for.</text>
<path d="M1212.6,977.4V989.4M1209.4,977.4H1215.8M1209.4,989.4H1215.8M1219.8,989V1001M1216.6,989H1223M1216.6,1001H1223M1233.2,1020.5V1032.5M1230,1020.5H1236.4M1230,1032.5H1236.4M1240.4,1034V1044M1237.2,1034H1243.6M1237.2,1044H1243.6M1243.1,1046.5V1058.5M1239.9,1046.5H1246.3M1239.9,1058.5H1246.3M1245.8,1074.4V1086.4M1242.6,1074.4H1249M1242.6,1086.4H1249M1249.4,1086.9V1098.9M1246.2,1086.9H1252.6M1246.2,1098.9H1252.6M1253,1108.5V1120.5M1249.8,1108.5H1256.2M1249.8,1120.5H1256.2M1257.1,1132.7V1144.7M1253.9,1132.7H1260.3M1253.9,1144.7H1260.3" stroke="#000" stroke-width="2" fill="none"/>
<circle cx="1212.6" cy="983.4" r="4.3"/>
<circle cx="1219.8" cy="995" r="4.3"/>
<circle cx="1226" cy="1004.9" r="4.3"/>
<circle cx="1228.7" cy="1012.1" r="4.3"/>
<circle cx="1233.2" cy="1026.5" r="4.3"/>
<circle cx="1235.9" cy="1035.4" r="4.3"/>
<circle cx="1240.4" cy="1039" r="4.3"/>
<circle cx="1243.1" cy="1052.5" r="4.3"/>
<circle cx="1245.8" cy="1080.4" r="4.3"/>
<circle cx="1249.4" cy="1092.9" r="4.3"/>
<circle cx="1253" cy="1114.5" r="4.3"/>
<circle cx="1257.1" cy="1138.7" r="4.3"/>
<path d="M1092.01,1019.4L1092.55,1017.56 1093.13,1015.71 1093.75,1013.85 1094.4,1011.99 1095.09,1010.12 1095.82,1008.26 1096.58,1006.4 1097.38,1004.55 1098.22,1002.7 1099.1,1000.86 1100.01,999.04 1100.96,997.23 1101.95,995.44 1102.98,993.66 1104.05,991.91 1105.16,990.18 1106.31,988.48 1107.5,986.8 1108.72,985.16 1109.99,983.54 1111.29,981.97 1112.64,980.43 1114.03,978.93 1115.45,977.47 1116.92,976.06 1118.43,974.69 1119.98,973.38 1121.57,972.11 1123.2,970.9 1124.88,969.74 1126.59,968.65 1128.34,967.6 1130.12,966.62 1131.93,965.7 1133.77,964.84 1135.64,964.04 1137.52,963.3 1139.43,962.63 1141.35,962.02 1143.29,961.48 1145.23,961 1147.19,960.6 1149.15,960.26 1151.12,959.99 1153.08,959.8 1155.05,959.67 1157,959.62 1158.95,959.65 1160.89,959.75 1162.82,959.92 1164.73,960.18 1166.62,960.51 1168.48,960.92 1170.33,961.41 1172.15,961.98 1173.93,962.64 1175.69,963.38 1177.41,964.2 1179.09,965.11 1180.73,966.1 1182.34,967.16 1183.91,968.3 1185.45,969.51 1186.95,970.78 1188.42,972.11 1189.86,973.5 1191.26,974.94 1192.64,976.42 1193.98,977.94 1195.29,979.51 1196.58,981.1 1197.83,982.72 1199.06,984.37 1200.26,986.04 1201.44,987.73 1202.59,989.43 1203.72,991.14 1204.83,992.88 1205.92,994.62 1206.99,996.38 1208.04,998.14 1209.07,999.92 1210.09,1001.7 1211.09,1003.49 1212.08,1005.28 1213.05,1007.08 1214.02,1008.88 1214.97,1010.69 1215.92,1012.49 1216.85,1014.3 1217.78,1016.1 1218.7,1017.91 1219.61,1019.72 1220.51,1021.53 1221.4,1023.34 1222.29,1025.16 1223.16,1026.97 1224.03,1028.79 1224.89,1030.6 1225.75,1032.42 1226.6,1034.24 1227.44,1036.06 1228.27,1037.89 1229.1,1039.71 1229.92,1041.54 1230.74,1043.37 1231.55,1045.2 1232.35,1047.03 1233.15,1048.87 1233.95,1050.7 1234.74,1052.54 1235.52,1054.38 1236.3,1056.22 1237.07,1058.07 1237.84,1059.91 1238.61,1061.76 1239.37,1063.61 1240.13,1065.46 1240.89,1067.32 1241.64,1069.17 1242.39,1071.03 1243.13,1072.89 1243.87,1074.76 1244.6,1076.62 1245.34,1078.49 1246.06,1080.36 1246.79,1082.23 1247.51,1084.1 1248.22,1085.98 1248.94,1087.86 1249.64,1089.74 1250.35,1091.62 1251.05,1093.5 1251.75,1095.38 1252.44,1097.27 1253.13,1099.16 1253.81,1101.05 1254.5,1102.94 1255.17,1104.83 1255.85,1106.73 1256.52,1108.63 1257.18,1110.52 1257.85,1112.42 1258.51,1114.33 1259.16,1116.23 1259.81,1118.13 1260.46,1120.04 1261.1,1121.95 1261.74,1123.86 1262.38,1125.77 1263.01,1127.68 1263.64,1129.6 1264.27,1131.51 1264.89,1133.43 1265.51,1135.35 1266.12,1137.27 1266.73,1139.19 1267.34,1141.12 1267.94,1143.04 1268.54,1144.97 1269.14,1146.89 1269.73,1148.82 1270.32,1150.75 1270.9,1152.68 1271.48,1154.61 1272.06,1156.55 1272.63,1158.48 1273.2,1160.42 1273.77,1162.35 1274.33,1164.29 1274.89,1166.23 1275.45,1168.17 1276,1170.11 1276.55,1172.05 1277.09,1174 1277.63,1175.94 1278.17,1177.89 1278.7,1179.83 1279.23,1181.78 1279.76,1183.73 1280.28,1185.68 1280.8,1187.63 1281.32,1189.58 1281.83,1191.53 1282.34,1193.48 1282.85,1195.44 1283.35,1197.39 1283.85,1199.34 1284.34,1201.3 1284.84,1203.26 1285.32,1205.21 1285.81,1207.17 1286.29,1209.13 1286.77,1211.09 1287.24,1213.05 1287.71,1215.01 1288.18,1216.97 1288.64,1218.93 1289.1,1220.9 1289.56,1222.86 1290.01,1224.82 1290.46,1226.79 1290.91,1228.75 1291.35,1230.72 1291.79,1232.68 1292.23,1234.65 1292.66,1236.61 1293.09,1238.58 1293.51,1240.55 1293.94,1242.51 1294.36,1244.48 1294.77,1246.45 1295.18,1248.42 1295.59,1250.39 1296,1252.36 1296.4,1254.32 1296.8,1256.29 1297.2,1258.26 1297.59,1260.23 1297.98,1262.2 1298.36,1264.17 1298.75,1266.14 1299.12,1268.11 1299.5,1270.08 1299.87,1272.05 1300.24,1274.02 1300.61,1275.99" stroke="#f00" stroke-width="2.5" fill="none" stroke-dasharray="8,8"/>
<path d="M1092.01,1062.09L1092.36,1060.22 1092.7,1058.35 1093.05,1056.46 1093.41,1054.55 1093.77,1052.64 1094.14,1050.72 1094.52,1048.79 1094.91,1046.85 1095.31,1044.91 1095.72,1042.96 1096.14,1041 1096.58,1039.04 1097.03,1037.08 1097.5,1035.11 1097.98,1033.15 1098.48,1031.18 1099.01,1029.21 1099.55,1027.25 1100.12,1025.29 1100.7,1023.33 1101.32,1021.37 1101.95,1019.43 1102.62,1017.48 1103.31,1015.55 1104.02,1013.62 1104.77,1011.7 1105.55,1009.79 1106.36,1007.89 1107.2,1006.01 1108.08,1004.13 1108.99,1002.27 1109.94,1000.43 1110.92,998.6 1111.94,996.78 1113,994.99 1114.1,993.21 1115.23,991.46 1116.39,989.73 1117.59,988.03 1118.82,986.35 1120.09,984.71 1121.39,983.09 1122.72,981.51 1124.08,979.97 1125.47,978.46 1126.89,976.99 1128.34,975.56 1129.82,974.17 1131.32,972.82 1132.86,971.53 1134.42,970.27 1136,969.07 1137.62,967.92 1139.25,966.83 1140.91,965.78 1142.6,964.8 1144.31,963.87 1146.04,963.01 1147.79,962.2 1149.56,961.46 1151.35,960.79 1153.16,960.18 1154.99,959.64 1156.84,959.18 1158.71,958.78 1160.59,958.46 1162.49,958.22 1164.4,958.04 1166.32,957.93 1168.25,957.89 1170.19,957.91 1172.13,958.01 1174.07,958.16 1176.01,958.39 1177.95,958.67 1179.89,959.02 1181.82,959.42 1183.75,959.89 1185.67,960.41 1187.57,960.99 1189.46,961.63 1191.34,962.32 1193.2,963.06 1195.04,963.86 1196.86,964.71 1198.65,965.6 1200.42,966.55 1202.17,967.55 1203.88,968.59 1205.57,969.68 1207.22,970.81 1208.83,971.98 1210.41,973.2 1211.95,974.46 1213.45,975.76 1214.91,977.1 1216.32,978.47 1217.7,979.89 1219.03,981.33 1220.32,982.81 1221.57,984.33 1222.79,985.87 1223.97,987.45 1225.11,989.06 1226.22,990.69 1227.3,992.35 1228.34,994.04 1229.36,995.74 1230.35,997.48 1231.31,999.23 1232.24,1001.01 1233.14,1002.8 1234.03,1004.62 1234.89,1006.45 1235.72,1008.29 1236.54,1010.15 1237.34,1012.02 1238.11,1013.91 1238.87,1015.81 1239.62,1017.71 1240.35,1019.63 1241.07,1021.55 1241.77,1023.47 1242.46,1025.41 1243.15,1027.34 1243.82,1029.28 1244.49,1031.22 1245.15,1033.16 1245.8,1035.1 1246.44,1037.04 1247.08,1038.98 1247.71,1040.92 1248.34,1042.86 1248.95,1044.8 1249.57,1046.74 1250.17,1048.69 1250.77,1050.63 1251.36,1052.57 1251.94,1054.52 1252.52,1056.46 1253.09,1058.41 1253.66,1060.35 1254.22,1062.3 1254.77,1064.25 1255.32,1066.19 1255.86,1068.14 1256.39,1070.09 1256.92,1072.04 1257.44,1073.99 1257.96,1075.94 1258.47,1077.89 1258.98,1079.84 1259.48,1081.79 1259.97,1083.74 1260.46,1085.69 1260.94,1087.64 1261.42,1089.6 1261.89,1091.55 1262.35,1093.51 1262.81,1095.46 1263.27,1097.42 1263.72,1099.37 1264.16,1101.33 1264.6,1103.28 1265.03,1105.24 1265.46,1107.2 1265.89,1109.16 1266.31,1111.12 1266.72,1113.08 1267.13,1115.04 1267.53,1117 1267.93,1118.96 1268.33,1120.92 1268.72,1122.89 1269.1,1124.85 1269.48,1126.81 1269.86,1128.78 1270.23,1130.74 1270.6,1132.71 1270.96,1134.67 1271.32,1136.64 1271.68,1138.61 1272.03,1140.58 1272.37,1142.54 1272.72,1144.51 1273.05,1146.48 1273.39,1148.45 1273.72,1150.42 1274.05,1152.4 1274.37,1154.37 1274.69,1156.34 1275,1158.32 1275.31,1160.29 1275.62,1162.26 1275.93,1164.24 1276.23,1166.22 1276.52,1168.19 1276.82,1170.17 1277.11,1172.15 1277.4,1174.13 1277.68,1176.11 1277.96,1178.09 1278.24,1180.07 1278.51,1182.05 1278.79,1184.03 1279.05,1186.02 1279.32,1188 1279.58,1189.98 1279.84,1191.97 1280.1,1193.95 1280.35,1195.94 1280.61,1197.93 1280.86,1199.92 1281.1,1201.9 1281.35,1203.89 1281.59,1205.88 1281.83,1207.87 1282.06,1209.87 1282.3,1211.86 1282.53,1213.85 1282.76,1215.84 1282.99,1217.84 1283.21,1219.83 1283.44,1221.83 1283.66,1223.83 1283.88,1225.82 1284.1,1227.82 1284.31,1229.82 1284.53,1231.82 1284.74,1233.82 1284.95,1235.82 1285.16,1237.82 1285.37,1239.83 1285.58,1241.83 1285.78,1243.83 1285.99,1245.84 1286.19,1247.84 1286.39,1249.85 1286.59,1251.86 1286.79,1253.87 1286.98,1255.88 1287.18,1257.89 1287.38,1259.9 1287.57,1261.91 1287.76,1263.92 1287.95,1265.93 1288.15,1267.95 1288.34,1269.96 1288.53,1271.98 1288.72,1273.99 1288.91,1276.01" stroke="#f00" stroke-width="2.5" fill="none"/>
<path d="M1092,1052.39L1092.1,1050.53 1092.19,1048.65 1092.28,1046.73 1092.37,1044.79 1092.46,1042.83 1092.55,1040.85 1092.65,1038.85 1092.75,1036.84 1092.86,1034.81 1092.98,1032.77 1093.12,1030.71 1093.27,1028.65 1093.43,1026.59 1093.61,1024.52 1093.82,1022.45 1094.04,1020.37 1094.29,1018.3 1094.57,1016.24 1094.87,1014.18 1095.2,1012.13 1095.57,1010.08 1095.97,1008.05 1096.4,1006.04 1096.87,1004.04 1097.38,1002.06 1097.94,1000.1 1098.54,998.16 1099.18,996.24 1099.87,994.36 1100.61,992.5 1101.4,990.67 1102.24,988.87 1103.14,987.11 1104.09,985.38 1105.09,983.69 1106.15,982.04 1107.26,980.44 1108.41,978.87 1109.62,977.35 1110.88,975.88 1112.19,974.46 1113.54,973.09 1114.95,971.77 1116.4,970.51 1117.89,969.3 1119.44,968.15 1121.02,967.06 1122.66,966.04 1124.33,965.07 1126.05,964.17 1127.8,963.32 1129.59,962.54 1131.41,961.81 1133.27,961.15 1135.15,960.53 1137.06,959.98 1139,959.48 1140.95,959.04 1142.93,958.65 1144.93,958.31 1146.94,958.03 1148.97,957.79 1151,957.61 1153.05,957.48 1155.11,957.4 1157.17,957.36 1159.23,957.38 1161.3,957.45 1163.36,957.56 1165.43,957.72 1167.49,957.94 1169.55,958.2 1171.6,958.5 1173.64,958.86 1175.67,959.26 1177.69,959.72 1179.7,960.21 1181.69,960.76 1183.66,961.35 1185.61,961.99 1187.55,962.67 1189.46,963.4 1191.34,964.18 1193.2,965 1195.03,965.86 1196.83,966.77 1198.6,967.73 1200.34,968.73 1202.04,969.78 1203.7,970.86 1205.33,972 1206.91,973.17 1208.46,974.39 1209.96,975.65 1211.41,976.96 1212.82,978.31 1214.18,979.69 1215.5,981.12 1216.78,982.58 1218.02,984.08 1219.22,985.61 1220.38,987.18 1221.5,988.78 1222.58,990.41 1223.63,992.07 1224.64,993.75 1225.61,995.47 1226.55,997.21 1227.45,998.97 1228.32,1000.75 1229.16,1002.56 1229.97,1004.39 1230.75,1006.24 1231.5,1008.1 1232.22,1009.98 1232.91,1011.87 1233.57,1013.78 1234.21,1015.7 1234.82,1017.63 1235.41,1019.58 1235.97,1021.52 1236.51,1023.48 1237.03,1025.44 1237.53,1027.41 1238,1029.38 1238.46,1031.35 1238.89,1033.32 1239.31,1035.29 1239.71,1037.27 1240.09,1039.24 1240.45,1041.22 1240.8,1043.2 1241.13,1045.19 1241.44,1047.17 1241.73,1049.15 1242.01,1051.14 1242.28,1053.13 1242.53,1055.12 1242.76,1057.11 1242.98,1059.1 1243.19,1061.09 1243.38,1063.09 1243.56,1065.08 1243.73,1067.08 1243.88,1069.08 1244.03,1071.08 1244.16,1073.08 1244.28,1075.08 1244.39,1077.08 1244.49,1079.08 1244.58,1081.09 1244.66,1083.09 1244.73,1085.1 1244.79,1087.1 1244.85,1089.11 1244.89,1091.12 1244.93,1093.13 1244.97,1095.14 1244.99,1097.15 1245.01,1099.16 1245.02,1101.17 1245.03,1103.18 1245.04,1105.19 1245.03,1107.2 1245.03,1109.21 1245.02,1111.23 1245.01,1113.24 1244.99,1115.25 1244.97,1117.27 1244.95,1119.28 1244.93,1121.3 1244.91,1123.31 1244.88,1125.32 1244.85,1127.34 1244.83,1129.35 1244.8,1131.37 1244.78,1133.38 1244.75,1135.4 1244.73,1137.41 1244.71,1139.42 1244.69,1141.44 1244.68,1143.45 1244.66,1145.46 1244.65,1147.48 1244.65,1149.49 1244.65,1151.5 1244.65,1153.51 1244.66,1155.52 1244.67,1157.53 1244.69,1159.54 1244.71,1161.55 1244.73,1163.56 1244.76,1165.57 1244.8,1167.58 1244.83,1169.59 1244.87,1171.6 1244.92,1173.6 1244.96,1175.61 1245.01,1177.62 1245.07,1179.63 1245.12,1181.63 1245.18,1183.64 1245.24,1185.64 1245.3,1187.65 1245.36,1189.66 1245.43,1191.66 1245.49,1193.67 1245.56,1195.67 1245.63,1197.68 1245.7,1199.68 1245.76,1201.69 1245.83,1203.69 1245.9,1205.7 1245.97,1207.71 1246.05,1209.71 1246.11,1211.72 1246.18,1213.72 1246.25,1215.73 1246.32,1217.73 1246.39,1219.74 1246.45,1221.74 1246.52,1223.75 1246.58,1225.75 1246.64,1227.76 1246.7,1229.77 1246.76,1231.77 1246.81,1233.78 1246.86,1235.79 1246.91,1237.79 1246.96,1239.8 1247,1241.81 1247.04,1243.82 1247.08,1245.83 1247.11,1247.83 1247.14,1249.84 1247.16,1251.85 1247.19,1253.86 1247.2,1255.87 1247.21,1257.88 1247.22,1259.89 1247.22,1261.91 1247.22,1263.92 1247.21,1265.93 1247.2,1267.94 1247.18,1269.96 1247.15,1271.97 1247.12,1273.99 1247.09,1276" stroke="#00f" stroke-width="2.5" fill="none"/>
</g>
<g>
<path d="M80.61,1732.3V1727.2M103.26,1732.3V1727.2M125.92,1732.3V1727.2M148.57,1732.3V1721.7M171.23,1732.3V1727.2M193.88,1732.3V1727.2M216.54,1732.3V1727.2M239.19,1732.3V1721.7M261.85,1732.3V1727.2M284.51,1732.3V1727.2M307.16,1732.3V1727.2M329.82,1732.3V1721.7M352.47,1732.3V1727.2M375.13,1732.3V1727.2M397.78,1732.3V1727.2M420.44,1732.3V1721.7M443.09,1732.3V1727.2M57.95,1708.67H64.05M57.95,1694.84H64.05M57.95,1685.03H64.05M57.95,1677.43H64.05M57.95,1671.21H64.05M57.95,1665.95H64.05M57.95,1661.4H64.05M57.95,1657.38H64.05M57.95,1653.79H70.25M57.95,1630.16H64.05M57.95,1616.33H64.05M57.95,1606.52H64.05M57.95,1598.92H64.05M57.95,1592.7H64.05M57.95,1587.44H64.05M57.95,1582.89H64.05M57.95,1578.88H64.05M57.95,1575.28H70.25M57.95,1551.65H64.05M57.95,1537.83H64.05M57.95,1528.02H64.05M57.95,1520.41H64.05M57.95,1514.19H64.05M57.95,1508.94H64.05M57.95,1504.38H64.05M57.95,1500.37H64.05M57.95,1496.78H70.25M57.95,1473.14H64.05M57.95,1459.32H64.05M57.95,1449.51H64.05M57.95,1441.9H64.05M57.95,1435.68H64.05M57.95,1430.43H64.05M57.95,1425.87H64.05M57.95,1421.86H64.05M57.95,1418.27H70.25M57.95,1394.63H64.05M57.95,1380.81H64.05" stroke="#000" stroke-width="2.0" fill="none"/>
<rect x="57.95" y="1371" width="407.8" height="361.3" fill="none" stroke="#000" stroke-width="2.2"/>
<text x="56.55" y="1750" text-anchor="middle" font-size="20">0</text>
<text x="147.17" y="1750" text-anchor="middle" font-size="20">0.02</text>
<text x="237.79" y="1750" text-anchor="middle" font-size="20">0.04</text>
<text x="328.42" y="1750" text-anchor="middle" font-size="20">0.06</text>
<text x="419.04" y="1750" text-anchor="middle" font-size="20">0.08</text>
<text x="40.55" y="1740.2" text-anchor="end" font-size="20">10</text>
<path d="M39.55,1727.8H45.75" stroke="#000" stroke-width="1.3"/>
<text x="52.35" y="1731.2" text-anchor="end" font-size="12.5">1</text>
<text x="52.25" y="1660.99" text-anchor="end" font-size="20">1</text>
<text x="52.25" y="1582.48" text-anchor="end" font-size="20">10</text>
<text x="51.45" y="1506.18" text-anchor="end" font-size="20">10<tspan font-size="12.5" dy="-11">2</tspan></text>
<text x="51.45" y="1427.67" text-anchor="end" font-size="20">10<tspan font-size="12.5" dy="-11">3</tspan></text>
<text x="261.25" y="1774.6" text-anchor="middle" font-size="19.7">1/E<tspan font-size="12.8" dy="5.6">cm</tspan><tspan dy="-5.6"> (MeV</tspan><tspan font-size="12.8" dy="-8.4">-1</tspan><tspan dy="8.4">)</tspan></text>
<text transform="translate(14.75,1550.15) rotate(-90)" text-anchor="middle" font-size="20.6">σ<tspan font-size="13" dy="6">f</tspan><tspan dy="-6"> (mb)</tspan></text>
<text x="301.95" y="1417.5" font-size="21" font-weight="bold"><tspan font-size="12" dy="-9.7">16</tspan><tspan dy="9.7">O+</tspan><tspan font-size="12" dy="-9.7">56</tspan><tspan dy="9.7">Fe</tspan></text>
<path d="M286.55,1488.5H311.25" stroke="#f00" stroke-width="2.6" stroke-dasharray="8,8"/>
<path d="M286.55,1530.4H311.25" stroke="#f00" stroke-width="2.6"/>
<path d="M286.55,1572.5H311.25" stroke="#00f" stroke-width="2.6"/>
<text x="315.55" y="1492" font-size="14">Our model (10 n)</text>
<text x="315.55" y="1534" font-size="14">Our model (15 n)</text>
<text x="315.55" y="1576" font-size="14">phen. for.</text>
<path d="M207.8,1508.5V1522.5M204.6,1508.5H211M204.6,1522.5H211M216.6,1542.8V1564.1M213.4,1542.8H219.8M213.4,1564.1H219.8" stroke="#000" stroke-width="2" fill="none"/>
<circle cx="171" cy="1433.7" r="3.6" fill="#fff" stroke="#000" stroke-width="2"/>
<circle cx="178.3" cy="1444.3" r="3.6" fill="#fff" stroke="#000" stroke-width="2"/>
<circle cx="187" cy="1451" r="3.6" fill="#fff" stroke="#000" stroke-width="2"/>
<circle cx="197.3" cy="1478" r="3.6" fill="#fff" stroke="#000" stroke-width="2"/>
<circle cx="207.8" cy="1515.5" r="3.6" fill="#fff" stroke="#000" stroke-width="2"/>
<circle cx="216.6" cy="1551.8" r="3.6" fill="#fff" stroke="#000" stroke-width="2"/>
<path d="M59,1476.4L59.53,1474.51 60.08,1472.61 60.66,1470.71 61.26,1468.81 61.89,1466.91 62.54,1465.01 63.23,1463.12 63.95,1461.23 64.69,1459.35 65.47,1457.48 66.29,1455.62 67.13,1453.78 68.01,1451.95 68.93,1450.14 69.89,1448.36 70.88,1446.59 71.91,1444.85 72.98,1443.14 74.09,1441.45 75.24,1439.79 76.44,1438.17 77.67,1436.58 78.96,1435.02 80.28,1433.51 81.66,1432.03 83.08,1430.6 84.55,1429.21 86.07,1427.87 87.63,1426.57 89.25,1425.33 90.91,1424.14 92.62,1423.01 94.36,1421.93 96.14,1420.93 97.95,1419.99 99.79,1419.12 101.66,1418.32 103.55,1417.61 105.47,1416.97 107.4,1416.41 109.34,1415.95 111.3,1415.57 113.26,1415.29 115.23,1415.11 117.2,1415.02 119.17,1415.02 121.14,1415.12 123.1,1415.3 125.05,1415.57 126.98,1415.92 128.91,1416.35 130.81,1416.85 132.69,1417.44 134.55,1418.09 136.38,1418.81 138.18,1419.6 139.95,1420.45 141.68,1421.37 143.38,1422.34 145.03,1423.37 146.66,1424.45 148.25,1425.59 149.8,1426.77 151.33,1428.01 152.82,1429.29 154.28,1430.62 155.71,1431.99 157.11,1433.4 158.48,1434.85 159.82,1436.33 161.14,1437.85 162.43,1439.41 163.69,1440.99 164.93,1442.6 166.15,1444.24 167.34,1445.91 168.51,1447.59 169.66,1449.3 170.79,1451.03 171.9,1452.77 172.99,1454.53 174.07,1456.3 175.12,1458.08 176.16,1459.87 177.19,1461.66 178.2,1463.46 179.19,1465.26 180.17,1467.07 181.14,1468.87 182.1,1470.68 183.05,1472.49 183.98,1474.3 184.9,1476.11 185.81,1477.92 186.71,1479.73 187.6,1481.54 188.47,1483.36 189.34,1485.18 190.2,1487 191.05,1488.82 191.89,1490.64 192.72,1492.46 193.54,1494.29 194.35,1496.12 195.15,1497.95 195.95,1499.78 196.74,1501.62 197.52,1503.45 198.3,1505.29 199.07,1507.13 199.83,1508.97 200.58,1510.82 201.34,1512.67 202.08,1514.52 202.82,1516.37 203.56,1518.23 204.29,1520.09 205.01,1521.95 205.73,1523.81 206.45,1525.68 207.16,1527.55 207.86,1529.42 208.57,1531.29 209.26,1533.17 209.95,1535.05 210.64,1536.93 211.33,1538.81 212,1540.69 212.68,1542.58 213.35,1544.47 214.01,1546.36 214.67,1548.25 215.33,1550.15 215.98,1552.05 216.63,1553.94 217.28,1555.85 217.92,1557.75 218.55,1559.65 219.19,1561.56 219.81,1563.47 220.44,1565.38 221.06,1567.29 221.68,1569.21 222.29,1571.12 222.9,1573.04 223.5,1574.96 224.1,1576.88 224.7,1578.8 225.3,1580.73 225.89,1582.65 226.47,1584.58 227.06,1586.51 227.64,1588.44 228.21,1590.37 228.79,1592.3 229.36,1594.24 229.92,1596.17 230.49,1598.11 231.05,1600.05 231.61,1601.98 232.16,1603.92 232.71,1605.87 233.26,1607.81 233.8,1609.75 234.34,1611.7 234.88,1613.64 235.42,1615.59 235.95,1617.54 236.48,1619.48 237.01,1621.43 237.54,1623.38 238.06,1625.33 238.58,1627.29 239.09,1629.24 239.61,1631.19 240.12,1633.15 240.63,1635.1 241.14,1637.06 241.64,1639.01 242.14,1640.97 242.64,1642.93 243.14,1644.88 243.64,1646.84 244.13,1648.8 244.62,1650.76 245.11,1652.72 245.6,1654.68 246.08,1656.64 246.56,1658.6 247.04,1660.56 247.52,1662.52 248,1664.48 248.48,1666.44 248.95,1668.4 249.42,1670.36 249.89,1672.32 250.36,1674.28 250.83,1676.25 251.29,1678.21 251.75,1680.17 252.22,1682.13 252.68,1684.09 253.14,1686.05 253.59,1688.01 254.05,1689.97 254.5,1691.93 254.96,1693.89 255.41,1695.85 255.86,1697.81 256.31,1699.77 256.76,1701.73 257.21,1703.69 257.66,1705.65 258.1,1707.6 258.55,1709.56 258.99,1711.52 259.44,1713.47 259.88,1715.43 260.32,1717.38 260.76,1719.33 261.2,1721.29 261.64,1723.24 262.08,1725.19 262.52,1727.14 262.96,1729.09 263.4,1731.04 263.83,1732.99" stroke="#f00" stroke-width="2.5" fill="none" stroke-dasharray="8,8"/>
<path d="M59,1519.1L59.38,1517.15 59.76,1515.19 60.14,1513.24 60.53,1511.29 60.92,1509.34 61.31,1507.39 61.72,1505.44 62.13,1503.49 62.55,1501.54 62.98,1499.59 63.42,1497.64 63.87,1495.7 64.34,1493.75 64.82,1491.81 65.31,1489.88 65.83,1487.94 66.35,1486.01 66.9,1484.09 67.47,1482.16 68.05,1480.24 68.66,1478.33 69.29,1476.42 69.94,1474.52 70.62,1472.62 71.32,1470.73 72.05,1468.84 72.8,1466.96 73.58,1465.09 74.4,1463.22 75.24,1461.36 76.11,1459.51 77.02,1457.67 77.96,1455.84 78.93,1454.01 79.94,1452.2 80.98,1450.41 82.05,1448.63 83.15,1446.88 84.29,1445.15 85.45,1443.44 86.65,1441.76 87.88,1440.11 89.14,1438.49 90.43,1436.9 91.76,1435.35 93.11,1433.84 94.49,1432.38 95.91,1430.95 97.35,1429.57 98.83,1428.24 100.33,1426.96 101.86,1425.73 103.43,1424.56 105.02,1423.44 106.64,1422.39 108.29,1421.39 109.97,1420.46 111.68,1419.6 113.41,1418.81 115.17,1418.08 116.97,1417.44 118.78,1416.86 120.63,1416.37 122.5,1415.95 124.4,1415.61 126.31,1415.34 128.25,1415.15 130.2,1415.03 132.16,1414.98 134.14,1415 136.12,1415.09 138.11,1415.24 140.11,1415.47 142.1,1415.75 144.1,1416.1 146.09,1416.51 148.08,1416.99 150.06,1417.52 152.03,1418.11 153.99,1418.75 155.93,1419.45 157.86,1420.21 159.77,1421.02 161.65,1421.88 163.51,1422.79 165.35,1423.75 167.15,1424.75 168.92,1425.81 170.66,1426.9 172.37,1428.05 174.03,1429.23 175.65,1430.45 177.24,1431.72 178.77,1433.02 180.26,1434.36 181.69,1435.74 183.08,1437.15 184.43,1438.59 185.72,1440.07 186.98,1441.57 188.19,1443.11 189.35,1444.68 190.48,1446.27 191.57,1447.9 192.63,1449.54 193.65,1451.22 194.63,1452.91 195.58,1454.63 196.5,1456.37 197.39,1458.13 198.25,1459.91 199.08,1461.71 199.89,1463.53 200.68,1465.36 201.44,1467.2 202.17,1469.06 202.89,1470.93 203.59,1472.82 204.28,1474.71 204.94,1476.61 205.59,1478.52 206.23,1480.44 206.86,1482.37 207.48,1484.3 208.08,1486.23 208.68,1488.16 209.28,1490.1 209.87,1492.04 210.45,1493.98 211.03,1495.92 211.6,1497.86 212.17,1499.8 212.73,1501.74 213.29,1503.68 213.84,1505.63 214.39,1507.57 214.93,1509.51 215.47,1511.46 216,1513.41 216.53,1515.35 217.06,1517.3 217.58,1519.25 218.09,1521.2 218.6,1523.15 219.1,1525.1 219.6,1527.05 220.1,1529 220.59,1530.95 221.08,1532.9 221.56,1534.86 222.04,1536.81 222.51,1538.77 222.98,1540.72 223.45,1542.68 223.91,1544.64 224.36,1546.59 224.82,1548.55 225.26,1550.51 225.71,1552.47 226.15,1554.43 226.58,1556.39 227.01,1558.35 227.44,1560.32 227.86,1562.28 228.28,1564.24 228.7,1566.21 229.11,1568.17 229.52,1570.13 229.92,1572.1 230.32,1574.07 230.72,1576.03 231.11,1578 231.5,1579.97 231.88,1581.94 232.26,1583.91 232.64,1585.88 233.02,1587.85 233.39,1589.82 233.75,1591.79 234.12,1593.76 234.48,1595.74 234.84,1597.71 235.19,1599.68 235.54,1601.66 235.89,1603.63 236.23,1605.61 236.57,1607.58 236.91,1609.56 237.24,1611.54 237.57,1613.52 237.9,1615.49 238.22,1617.47 238.55,1619.45 238.86,1621.43 239.18,1623.41 239.49,1625.39 239.8,1627.37 240.11,1629.36 240.41,1631.34 240.71,1633.32 241.01,1635.3 241.31,1637.29 241.6,1639.27 241.89,1641.26 242.18,1643.24 242.46,1645.23 242.75,1647.21 243.03,1649.2 243.3,1651.19 243.58,1653.18 243.85,1655.16 244.12,1657.15 244.39,1659.14 244.65,1661.13 244.92,1663.12 245.18,1665.11 245.44,1667.1 245.69,1669.09 245.95,1671.08 246.2,1673.07 246.45,1675.07 246.7,1677.06 246.94,1679.05 247.18,1681.04 247.43,1683.04 247.67,1685.03 247.9,1687.03 248.14,1689.02 248.37,1691.02 248.61,1693.01 248.84,1695.01 249.07,1697.01 249.29,1699 249.52,1701 249.74,1703 249.96,1704.99 250.18,1706.99 250.4,1708.99 250.62,1710.99 250.84,1712.99 251.05,1714.99 251.26,1716.99 251.48,1718.99 251.69,1720.99 251.89,1722.99 252.1,1724.99 252.31,1726.99 252.51,1729 252.72,1731 252.92,1733" stroke="#f00" stroke-width="2.5" fill="none"/>
<path d="M59.02,1501.19L59,1499.34 59,1497.46 59.01,1495.55 59.03,1493.61 59.08,1491.65 59.14,1489.67 59.21,1487.67 59.31,1485.65 59.43,1483.62 59.57,1481.57 59.74,1479.52 59.93,1477.45 60.14,1475.38 60.38,1473.31 60.65,1471.23 60.95,1469.15 61.27,1467.08 61.63,1465.01 62.02,1462.94 62.45,1460.89 62.91,1458.85 63.4,1456.81 63.94,1454.8 64.51,1452.8 65.11,1450.82 65.76,1448.86 66.45,1446.93 67.19,1445.02 67.97,1443.14 68.79,1441.29 69.66,1439.47 70.57,1437.69 71.54,1435.94 72.55,1434.24 73.6,1432.57 74.71,1430.94 75.86,1429.36 77.05,1427.82 78.29,1426.32 79.57,1424.88 80.9,1423.48 82.27,1422.13 83.69,1420.84 85.14,1419.6 86.64,1418.42 88.18,1417.29 89.75,1416.22 91.37,1415.22 93.03,1414.27 94.72,1413.39 96.45,1412.56 98.21,1411.8 100,1411.1 101.82,1410.46 103.67,1409.88 105.54,1409.36 107.43,1408.9 109.34,1408.51 111.27,1408.17 113.22,1407.9 115.18,1407.68 117.16,1407.53 119.14,1407.44 121.13,1407.41 123.13,1407.44 125.13,1407.53 127.14,1407.67 129.14,1407.87 131.15,1408.13 133.16,1408.45 135.16,1408.82 137.16,1409.24 139.15,1409.71 141.14,1410.24 143.11,1410.81 145.08,1411.44 147.03,1412.11 148.97,1412.84 150.89,1413.61 152.8,1414.42 154.68,1415.28 156.55,1416.18 158.4,1417.13 160.22,1418.12 162.01,1419.15 163.78,1420.22 165.52,1421.33 167.23,1422.48 168.91,1423.67 170.56,1424.89 172.17,1426.15 173.74,1427.44 175.28,1428.77 176.78,1430.13 178.24,1431.52 179.65,1432.95 181.02,1434.4 182.36,1435.89 183.65,1437.4 184.9,1438.94 186.11,1440.5 187.28,1442.1 188.41,1443.71 189.51,1445.35 190.57,1447.02 191.59,1448.71 192.57,1450.42 193.52,1452.15 194.43,1453.9 195.31,1455.67 196.16,1457.46 196.97,1459.27 197.74,1461.09 198.49,1462.93 199.2,1464.78 199.88,1466.65 200.53,1468.53 201.15,1470.43 201.74,1472.33 202.3,1474.25 202.83,1476.18 203.34,1478.11 203.81,1480.06 204.26,1482.01 204.68,1483.97 205.08,1485.94 205.45,1487.91 205.79,1489.88 206.11,1491.86 206.41,1493.84 206.69,1495.83 206.94,1497.82 207.18,1499.81 207.4,1501.81 207.59,1503.81 207.77,1505.82 207.94,1507.83 208.09,1509.84 208.22,1511.85 208.34,1513.86 208.45,1515.88 208.55,1517.9 208.64,1519.92 208.71,1521.94 208.78,1523.96 208.84,1525.98 208.89,1528 208.94,1530.03 208.98,1532.05 209.02,1534.08 209.05,1536.1 209.08,1538.13 209.11,1540.15 209.14,1542.17 209.17,1544.19 209.2,1546.22 209.23,1548.23 209.27,1550.25 209.31,1552.27 209.35,1554.28 209.4,1556.3 209.44,1558.31 209.49,1560.32 209.55,1562.33 209.6,1564.34 209.66,1566.35 209.72,1568.35 209.78,1570.36 209.84,1572.37 209.9,1574.37 209.96,1576.37 210.03,1578.38 210.1,1580.38 210.16,1582.38 210.23,1584.39 210.3,1586.39 210.37,1588.39 210.44,1590.39 210.51,1592.39 210.57,1594.39 210.64,1596.39 210.71,1598.39 210.78,1600.4 210.84,1602.4 210.91,1604.4 210.97,1606.4 211.04,1608.41 211.1,1610.41 211.16,1612.41 211.22,1614.42 211.28,1616.42 211.33,1618.43 211.39,1620.44 211.44,1622.44 211.49,1624.45 211.55,1626.46 211.6,1628.47 211.64,1630.47 211.69,1632.48 211.74,1634.49 211.79,1636.5 211.83,1638.51 211.88,1640.52 211.92,1642.53 211.96,1644.54 212,1646.55 212.04,1648.56 212.08,1650.58 212.12,1652.59 212.16,1654.6 212.2,1656.61 212.23,1658.62 212.27,1660.64 212.3,1662.65 212.34,1664.66 212.37,1666.67 212.41,1668.68 212.44,1670.7 212.47,1672.71 212.51,1674.72 212.54,1676.73 212.57,1678.75 212.6,1680.76 212.63,1682.77 212.66,1684.78 212.69,1686.8 212.72,1688.81 212.75,1690.82 212.78,1692.83 212.81,1694.84 212.84,1696.85 212.87,1698.87 212.9,1700.88 212.93,1702.89 212.96,1704.9 212.99,1706.91 213.02,1708.92 213.05,1710.93 213.08,1712.93 213.11,1714.94 213.14,1716.95 213.17,1718.96 213.21,1720.97 213.24,1722.97 213.27,1724.98 213.3,1726.98 213.33,1728.99 213.37,1730.99 213.4,1733" stroke="#00f" stroke-width="2.5" fill="none"/>
</g>
<g>
<path d="M590.44,1732.3V1727.2M606.43,1732.3V1727.2M622.43,1732.3V1727.2M638.42,1732.3V1727.2M654.41,1732.3V1721.7M670.4,1732.3V1727.2M686.4,1732.3V1727.2M702.39,1732.3V1727.2M718.38,1732.3V1727.2M734.37,1732.3V1721.7M750.36,1732.3V1727.2M766.36,1732.3V1727.2M782.35,1732.3V1727.2M798.34,1732.3V1727.2M814.33,1732.3V1721.7M830.32,1732.3V1727.2M846.32,1732.3V1727.2M862.31,1732.3V1727.2M878.3,1732.3V1727.2M894.29,1732.3V1721.7M910.29,1732.3V1727.2M926.28,1732.3V1727.2M942.27,1732.3V1727.2M958.26,1732.3V1727.2M974.25,1732.3V1721.7M574.45,1708.67H580.55M574.45,1694.84H580.55M574.45,1685.03H580.55M574.45,1677.43H580.55M574.45,1671.21H580.55M574.45,1665.95H580.55M574.45,1661.4H580.55M574.45,1657.38H580.55M574.45,1653.79H586.75M574.45,1630.16H580.55M574.45,1616.33H580.55M574.45,1606.52H580.55M574.45,1598.92H580.55M574.45,1592.7H580.55M574.45,1587.44H580.55M574.45,1582.89H580.55M574.45,1578.88H580.55M574.45,1575.28H586.75M574.45,1551.65H580.55M574.45,1537.83H580.55M574.45,1528.02H580.55M574.45,1520.41H580.55M574.45,1514.19H580.55M574.45,1508.94H580.55M574.45,1504.38H580.55M574.45,1500.37H580.55M574.45,1496.78H586.75M574.45,1473.14H580.55M574.45,1459.32H580.55M574.45,1449.51H580.55M574.45,1441.9H580.55M574.45,1435.68H580.55M574.45,1430.43H580.55M574.45,1425.87H580.55M574.45,1421.86H580.55M574.45,1418.27H586.75M574.45,1394.63H580.55M574.45,1380.81H580.55" stroke="#000" stroke-width="2.0" fill="none"/>
<rect x="574.45" y="1371" width="407.8" height="361.3" fill="none" stroke="#000" stroke-width="2.2"/>
<text x="573.05" y="1750" text-anchor="middle" font-size="20">0</text>
<text x="653.01" y="1750" text-anchor="middle" font-size="20">0.01</text>
<text x="732.97" y="1750" text-anchor="middle" font-size="20">0.02</text>
<text x="812.93" y="1750" text-anchor="middle" font-size="20">0.03</text>
<text x="892.89" y="1750" text-anchor="middle" font-size="20">0.04</text>
<text x="972.85" y="1750" text-anchor="middle" font-size="20">0.05</text>
<text x="557.05" y="1740.2" text-anchor="end" font-size="20">10</text>
<path d="M556.05,1727.8H562.25" stroke="#000" stroke-width="1.3"/>
<text x="568.85" y="1731.2" text-anchor="end" font-size="12.5">1</text>
<text x="568.75" y="1660.99" text-anchor="end" font-size="20">1</text>
<text x="568.75" y="1582.48" text-anchor="end" font-size="20">10</text>
<text x="567.95" y="1506.18" text-anchor="end" font-size="20">10<tspan font-size="12.5" dy="-11">2</tspan></text>
<text x="567.95" y="1427.67" text-anchor="end" font-size="20">10<tspan font-size="12.5" dy="-11">3</tspan></text>
<text x="777.75" y="1774.6" text-anchor="middle" font-size="19.7">1/E<tspan font-size="12.8" dy="5.6">cm</tspan><tspan dy="-5.6"> (MeV</tspan><tspan font-size="12.8" dy="-8.4">-1</tspan><tspan dy="8.4">)</tspan></text>
<text transform="translate(531.25,1550.15) rotate(-90)" text-anchor="middle" font-size="20.6">σ<tspan font-size="13" dy="6">f</tspan><tspan dy="-6"> (mb)</tspan></text>
<text x="818.45" y="1417.5" font-size="21" font-weight="bold"><tspan font-size="12" dy="-9.7">32</tspan><tspan dy="9.7">S+</tspan><tspan font-size="12" dy="-9.7">48</tspan><tspan dy="9.7">Ca</tspan></text>
<path d="M803.05,1488.5H827.75" stroke="#f00" stroke-width="2.6" stroke-dasharray="8,8"/>
<path d="M803.05,1530.4H827.75" stroke="#f00" stroke-width="2.6"/>
<path d="M803.05,1572.5H827.75" stroke="#00f" stroke-width="2.6"/>
<text x="832.05" y="1492" font-size="14">Our model (10 n)</text>
<text x="832.05" y="1534" font-size="14">Our model (15 n)</text>
<text x="832.05" y="1576" font-size="14">phen. for.</text>
<path d="M721.9,1436.7V1452.7M718.7,1436.7H725.1M718.7,1452.7H725.1M725.2,1443.6V1459.6M722,1443.6H728.4M722,1459.6H728.4M729.3,1446.4V1462.4M726.1,1446.4H732.5M726.1,1462.4H732.5M732.1,1449.1V1465.1M728.9,1449.1H735.3M728.9,1465.1H735.3M736.2,1454.6V1470.6M733,1454.6H739.4M733,1470.6H739.4M739,1462.9V1478.9M735.8,1462.9H742.2M735.8,1478.9H742.2M743.1,1469.8V1485.8M739.9,1469.8H746.3M739.9,1485.8H746.3M745.8,1476.6V1492.6M742.6,1476.6H749M742.6,1492.6H749M750,1484.9V1500.9M746.8,1484.9H753.2M746.8,1500.9H753.2M754.1,1501.4V1517.4M750.9,1501.4H757.3M750.9,1517.4H757.3M759.6,1520.7V1536.7M756.4,1520.7H762.8M756.4,1536.7H762.8M762.4,1534.5V1550.5M759.2,1534.5H765.6M759.2,1550.5H765.6M767,1556.5V1572.5M763.8,1556.5H770.2M763.8,1572.5H770.2M769.2,1581.3V1597.3M766,1581.3H772.4M766,1597.3H772.4M772,1604.7V1620.7M768.8,1604.7H775.2M768.8,1620.7H775.2M774.7,1637.7V1653.7M771.5,1637.7H777.9M771.5,1653.7H777.9M778,1672.1V1688.1M774.8,1672.1H781.2M774.8,1688.1H781.2M781.6,1709.3V1725.3M778.4,1709.3H784.8M778.4,1725.3H784.8" stroke="#000" stroke-width="2" fill="none"/>
<path d="M721.9,1439.9L726.1,1447.9L717.7,1447.9Z" fill="#fff" stroke="#000" stroke-width="2" stroke-linejoin="miter"/>
<path d="M725.2,1446.8L729.4,1454.8L721,1454.8Z" fill="#fff" stroke="#000" stroke-width="2" stroke-linejoin="miter"/>
<path d="M729.3,1449.6L733.5,1457.6L725.1,1457.6Z" fill="#fff" stroke="#000" stroke-width="2" stroke-linejoin="miter"/>
<path d="M732.1,1452.3L736.3,1460.3L727.9,1460.3Z" fill="#fff" stroke="#000" stroke-width="2" stroke-linejoin="miter"/>
<path d="M736.2,1457.8L740.4,1465.8L732,1465.8Z" fill="#fff" stroke="#000" stroke-width="2" stroke-linejoin="miter"/>
<path d="M739,1466.1L743.2,1474.1L734.8,1474.1Z" fill="#fff" stroke="#000" stroke-width="2" stroke-linejoin="miter"/>
<path d="M743.1,1473L747.3,1481L738.9,1481Z" fill="#fff" stroke="#000" stroke-width="2" stroke-linejoin="miter"/>
<path d="M745.8,1479.8L750,1487.8L741.6,1487.8Z" fill="#fff" stroke="#000" stroke-width="2" stroke-linejoin="miter"/>
<path d="M750,1488.1L754.2,1496.1L745.8,1496.1Z" fill="#fff" stroke="#000" stroke-width="2" stroke-linejoin="miter"/>
<path d="M754.1,1504.6L758.3,1512.6L749.9,1512.6Z" fill="#fff" stroke="#000" stroke-width="2" stroke-linejoin="miter"/>
<path d="M759.6,1523.9L763.8,1531.9L755.4,1531.9Z" fill="#fff" stroke="#000" stroke-width="2" stroke-linejoin="miter"/>
<path d="M762.4,1537.7L766.6,1545.7L758.2,1545.7Z" fill="#fff" stroke="#000" stroke-width="2" stroke-linejoin="miter"/>
<path d="M767,1559.7L771.2,1567.7L762.8,1567.7Z" fill="#fff" stroke="#000" stroke-width="2" stroke-linejoin="miter"/>
<path d="M769.2,1584.5L773.4,1592.5L765,1592.5Z" fill="#fff" stroke="#000" stroke-width="2" stroke-linejoin="miter"/>
<path d="M772,1607.9L776.2,1615.9L767.8,1615.9Z" fill="#fff" stroke="#000" stroke-width="2" stroke-linejoin="miter"/>
<path d="M774.7,1640.9L778.9,1648.9L770.5,1648.9Z" fill="#fff" stroke="#000" stroke-width="2" stroke-linejoin="miter"/>
<path d="M778,1675.3L782.2,1683.3L773.8,1683.3Z" fill="#fff" stroke="#000" stroke-width="2" stroke-linejoin="miter"/>
<path d="M781.6,1712.5L785.8,1720.5L777.4,1720.5Z" fill="#fff" stroke="#000" stroke-width="2" stroke-linejoin="miter"/>
<path d="M576.01,1476.29L576.97,1474.69 577.94,1473.06 578.92,1471.41 579.92,1469.75 580.94,1468.08 581.97,1466.39 583.02,1464.7 584.08,1463.01 585.16,1461.31 586.27,1459.6 587.39,1457.9 588.53,1456.2 589.69,1454.51 590.88,1452.83 592.08,1451.15 593.31,1449.49 594.57,1447.84 595.84,1446.21 597.14,1444.59 598.47,1443 599.82,1441.43 601.2,1439.89 602.61,1438.37 604.04,1436.89 605.51,1435.43 607,1434.02 608.52,1432.63 610.07,1431.29 611.66,1429.99 613.28,1428.73 614.92,1427.52 616.6,1426.35 618.31,1425.24 620.04,1424.18 621.8,1423.17 623.58,1422.22 625.38,1421.33 627.2,1420.5 629.04,1419.73 630.9,1419.03 632.78,1418.4 634.66,1417.84 636.56,1417.35 638.47,1416.94 640.39,1416.6 642.32,1416.34 644.25,1416.16 646.19,1416.06 648.12,1416.03 650.05,1416.07 651.98,1416.19 653.89,1416.38 655.8,1416.64 657.7,1416.97 659.58,1417.37 661.44,1417.84 663.29,1418.38 665.11,1418.99 666.91,1419.67 668.68,1420.41 670.43,1421.22 672.14,1422.08 673.83,1423.01 675.5,1424 677.14,1425.04 678.75,1426.13 680.34,1427.28 681.91,1428.47 683.45,1429.72 684.97,1431 686.47,1432.33 687.94,1433.7 689.39,1435.11 690.82,1436.55 692.23,1438.03 693.62,1439.54 694.99,1441.08 696.33,1442.64 697.66,1444.23 698.97,1445.85 700.26,1447.48 701.53,1449.13 702.79,1450.8 704.03,1452.49 705.25,1454.18 706.45,1455.89 707.64,1457.6 708.81,1459.32 709.97,1461.04 711.11,1462.76 712.24,1464.49 713.35,1466.21 714.45,1467.94 715.54,1469.66 716.61,1471.39 717.67,1473.12 718.71,1474.85 719.74,1476.59 720.76,1478.32 721.77,1480.06 722.77,1481.8 723.75,1483.54 724.72,1485.29 725.68,1487.03 726.63,1488.79 727.57,1490.54 728.49,1492.3 729.41,1494.06 730.31,1495.82 731.21,1497.59 732.1,1499.36 732.97,1501.14 733.84,1502.92 734.69,1504.7 735.54,1506.49 736.38,1508.28 737.21,1510.08 738.03,1511.88 738.85,1513.69 739.65,1515.5 740.45,1517.32 741.24,1519.14 742.03,1520.97 742.8,1522.81 743.57,1524.64 744.33,1526.48 745.09,1528.33 745.84,1530.18 746.58,1532.03 747.31,1533.89 748.04,1535.75 748.76,1537.62 749.48,1539.49 750.19,1541.36 750.9,1543.24 751.6,1545.12 752.29,1547 752.98,1548.88 753.67,1550.77 754.35,1552.67 755.02,1554.56 755.69,1556.46 756.36,1558.36 757.02,1560.26 757.68,1562.16 758.33,1564.07 758.98,1565.98 759.63,1567.89 760.27,1569.8 760.91,1571.71 761.55,1573.63 762.18,1575.55 762.81,1577.47 763.44,1579.39 764.06,1581.31 764.68,1583.23 765.3,1585.15 765.92,1587.08 766.54,1589 767.15,1590.93 767.77,1592.85 768.38,1594.78 768.99,1596.71 769.6,1598.63 770.21,1600.56 770.81,1602.49 771.42,1604.41 772.02,1606.34 772.63,1608.26 773.24,1610.19 773.84,1612.11 774.45,1614.04 775.05,1615.96 775.66,1617.88 776.26,1619.81 776.87,1621.73 777.48,1623.64 778.08,1625.56 778.69,1627.48 779.3,1629.39 779.91,1631.31 780.53,1633.22 781.14,1635.13 781.75,1637.04 782.36,1638.95 782.97,1640.86 783.59,1642.77 784.2,1644.68 784.81,1646.59 785.42,1648.5 786.04,1650.4 786.65,1652.31 787.26,1654.22 787.87,1656.12 788.49,1658.03 789.1,1659.94 789.71,1661.84 790.32,1663.75 790.93,1665.65 791.54,1667.56 792.15,1669.47 792.75,1671.37 793.36,1673.28 793.97,1675.19 794.57,1677.1 795.17,1679.01 795.78,1680.92 796.38,1682.83 796.98,1684.74 797.57,1686.65 798.17,1688.56 798.77,1690.47 799.36,1692.39 799.95,1694.31 800.54,1696.22 801.13,1698.14 801.72,1700.06 802.3,1701.98 802.89,1703.9 803.47,1705.83 804.05,1707.75 804.62,1709.68 805.2,1711.61 805.77,1713.54 806.34,1715.47 806.91,1717.4 807.47,1719.34 808.03,1721.28 808.59,1723.22 809.15,1725.16 809.7,1727.11 810.25,1729.05 810.8,1731" stroke="#f00" stroke-width="2.5" fill="none" stroke-dasharray="8,8"/>
<path d="M576.01,1518.99L576.48,1517.12 576.97,1515.25 577.46,1513.37 577.97,1511.49 578.5,1509.6 579.04,1507.71 579.59,1505.82 580.16,1503.92 580.75,1502.03 581.35,1500.13 581.98,1498.24 582.62,1496.34 583.27,1494.45 583.95,1492.55 584.65,1490.66 585.36,1488.78 586.1,1486.9 586.86,1485.02 587.64,1483.15 588.44,1481.28 589.27,1479.42 590.11,1477.57 590.99,1475.73 591.88,1473.9 592.81,1472.07 593.75,1470.26 594.73,1468.46 595.73,1466.66 596.75,1464.89 597.81,1463.12 598.89,1461.37 600.01,1459.63 601.15,1457.91 602.32,1456.2 603.52,1454.51 604.74,1452.84 606,1451.19 607.28,1449.56 608.6,1447.95 609.93,1446.37 611.3,1444.81 612.69,1443.28 614.1,1441.77 615.54,1440.3 617.01,1438.86 618.5,1437.44 620.01,1436.07 621.55,1434.72 623.11,1433.41 624.69,1432.14 626.3,1430.91 627.92,1429.72 629.57,1428.57 631.24,1427.46 632.93,1426.4 634.64,1425.38 636.37,1424.4 638.12,1423.48 639.88,1422.6 641.67,1421.78 643.47,1421 645.29,1420.28 647.13,1419.61 648.99,1419 650.86,1418.45 652.74,1417.95 654.65,1417.52 656.56,1417.14 658.49,1416.82 660.43,1416.56 662.37,1416.36 664.33,1416.21 666.29,1416.12 668.26,1416.08 670.22,1416.1 672.19,1416.17 674.16,1416.3 676.13,1416.48 678.1,1416.72 680.06,1417 682.01,1417.34 683.96,1417.73 685.89,1418.17 687.82,1418.66 689.73,1419.2 691.63,1419.79 693.52,1420.43 695.38,1421.12 697.23,1421.85 699.06,1422.63 700.86,1423.46 702.65,1424.33 704.41,1425.25 706.14,1426.21 707.84,1427.22 709.52,1428.27 711.16,1429.37 712.77,1430.51 714.35,1431.68 715.89,1432.91 717.4,1434.17 718.87,1435.47 720.31,1436.81 721.72,1438.18 723.09,1439.59 724.44,1441.04 725.75,1442.52 727.03,1444.03 728.28,1445.57 729.51,1447.14 730.7,1448.74 731.87,1450.36 733.01,1452.01 734.13,1453.69 735.22,1455.39 736.29,1457.11 737.33,1458.85 738.35,1460.61 739.34,1462.39 740.32,1464.18 741.27,1466 742.2,1467.82 743.11,1469.66 744.01,1471.51 744.88,1473.37 745.74,1475.25 746.58,1477.13 747.4,1479.01 748.21,1480.91 749,1482.8 749.78,1484.71 750.55,1486.61 751.3,1488.51 752.04,1490.42 752.76,1492.33 753.48,1494.24 754.18,1496.15 754.87,1498.06 755.54,1499.98 756.21,1501.89 756.86,1503.81 757.5,1505.73 758.13,1507.65 758.75,1509.58 759.36,1511.5 759.96,1513.43 760.55,1515.35 761.13,1517.28 761.7,1519.21 762.26,1521.14 762.81,1523.08 763.35,1525.01 763.88,1526.95 764.4,1528.88 764.92,1530.82 765.42,1532.76 765.92,1534.7 766.41,1536.64 766.89,1538.59 767.37,1540.53 767.83,1542.48 768.29,1544.43 768.75,1546.37 769.19,1548.32 769.63,1550.28 770.07,1552.23 770.5,1554.18 770.92,1556.14 771.34,1558.09 771.75,1560.05 772.15,1562.01 772.56,1563.96 772.95,1565.92 773.35,1567.88 773.73,1569.85 774.12,1571.81 774.5,1573.77 774.88,1575.74 775.25,1577.7 775.62,1579.67 775.99,1581.64 776.35,1583.61 776.71,1585.58 777.07,1587.55 777.43,1589.52 777.79,1591.49 778.14,1593.46 778.49,1595.44 778.84,1597.41 779.19,1599.39 779.54,1601.36 779.89,1603.34 780.24,1605.31 780.59,1607.29 780.94,1609.27 781.29,1611.25 781.63,1613.23 781.98,1615.21 782.33,1617.19 782.67,1619.18 783.02,1621.16 783.36,1623.14 783.71,1625.13 784.05,1627.11 784.39,1629.09 784.73,1631.08 785.06,1633.07 785.4,1635.05 785.73,1637.04 786.06,1639.03 786.39,1641.02 786.72,1643.01 787.04,1645 787.36,1646.99 787.68,1648.98 787.99,1650.97 788.3,1652.96 788.61,1654.95 788.91,1656.95 789.21,1658.94 789.5,1660.94 789.8,1662.93 790.08,1664.93 790.37,1666.92 790.64,1668.92 790.92,1670.91 791.18,1672.91 791.45,1674.91 791.71,1676.91 791.96,1678.9 792.21,1680.9 792.45,1682.9 792.68,1684.9 792.91,1686.9 793.14,1688.9 793.35,1690.9 793.56,1692.9 793.77,1694.91 793.97,1696.91 794.16,1698.91 794.34,1700.91 794.52,1702.92 794.69,1704.92 794.85,1706.92 795,1708.93 795.15,1710.93 795.28,1712.94 795.41,1714.94 795.54,1716.95 795.65,1718.95 795.75,1720.96 795.85,1722.96 795.93,1724.97 796.01,1726.98 796.08,1728.98 796.14,1730.99 796.19,1733" stroke="#f00" stroke-width="2.5" fill="none"/>
<path d="M576.03,1511.01L575.93,1509 575.86,1506.98 575.82,1504.95 575.82,1502.91 575.84,1500.87 575.89,1498.83 575.97,1496.78 576.09,1494.73 576.23,1492.68 576.41,1490.63 576.63,1488.59 576.87,1486.55 577.15,1484.51 577.47,1482.48 577.82,1480.46 578.2,1478.44 578.62,1476.44 579.08,1474.44 579.57,1472.46 580.1,1470.5 580.66,1468.55 581.27,1466.61 581.91,1464.7 582.59,1462.8 583.31,1460.92 584.06,1459.07 584.86,1457.24 585.7,1455.43 586.58,1453.65 587.49,1451.89 588.45,1450.16 589.45,1448.46 590.5,1446.8 591.58,1445.16 592.71,1443.56 593.88,1441.99 595.09,1440.45 596.34,1438.95 597.63,1437.48 598.95,1436.05 600.31,1434.65 601.71,1433.29 603.14,1431.96 604.61,1430.67 606.11,1429.41 607.64,1428.19 609.2,1427.01 610.79,1425.86 612.42,1424.75 614.06,1423.68 615.74,1422.65 617.44,1421.66 619.17,1420.7 620.93,1419.78 622.7,1418.9 624.5,1418.07 626.32,1417.27 628.16,1416.51 630.03,1415.79 631.91,1415.12 633.8,1414.48 635.72,1413.89 637.65,1413.34 639.6,1412.83 641.56,1412.36 643.53,1411.94 645.52,1411.56 647.52,1411.22 649.52,1410.93 651.54,1410.67 653.57,1410.47 655.6,1410.3 657.64,1410.18 659.68,1410.1 661.72,1410.06 663.77,1410.06 665.82,1410.11 667.87,1410.19 669.92,1410.32 671.97,1410.49 674.01,1410.7 676.05,1410.95 678.09,1411.24 680.11,1411.58 682.14,1411.95 684.15,1412.36 686.15,1412.81 688.14,1413.31 690.12,1413.84 692.08,1414.41 694.04,1415.02 695.97,1415.67 697.89,1416.36 699.8,1417.09 701.68,1417.85 703.54,1418.66 705.39,1419.5 707.21,1420.38 709,1421.3 710.78,1422.25 712.53,1423.25 714.25,1424.28 715.95,1425.34 717.62,1426.44 719.26,1427.58 720.88,1428.75 722.46,1429.95 724.03,1431.19 725.56,1432.46 727.07,1433.76 728.54,1435.09 729.99,1436.45 731.41,1437.84 732.8,1439.25 734.16,1440.7 735.5,1442.17 736.8,1443.67 738.07,1445.19 739.31,1446.74 740.52,1448.32 741.7,1449.91 742.84,1451.53 743.96,1453.17 745.04,1454.84 746.09,1456.52 747.11,1458.22 748.1,1459.94 749.05,1461.68 749.97,1463.44 750.85,1465.22 751.7,1467.01 752.52,1468.82 753.3,1470.64 754.05,1472.48 754.76,1474.33 755.44,1476.2 756.09,1478.07 756.7,1479.96 757.28,1481.86 757.83,1483.77 758.35,1485.7 758.85,1487.63 759.31,1489.57 759.75,1491.52 760.16,1493.49 760.55,1495.46 760.91,1497.43 761.25,1499.42 761.57,1501.41 761.86,1503.41 762.14,1505.41 762.39,1507.42 762.63,1509.44 762.85,1511.45 763.05,1513.48 763.23,1515.51 763.4,1517.54 763.56,1519.57 763.7,1521.6 763.83,1523.64 763.95,1525.68 764.06,1527.72 764.16,1529.76 764.25,1531.79 764.33,1533.83 764.4,1535.87 764.47,1537.9 764.53,1539.94 764.59,1541.97 764.64,1544 764.69,1546.02 764.73,1548.05 764.78,1550.07 764.81,1552.09 764.85,1554.11 764.88,1556.12 764.9,1558.14 764.93,1560.15 764.95,1562.17 764.97,1564.18 764.99,1566.19 765,1568.2 765.01,1570.2 765.02,1572.21 765.03,1574.22 765.04,1576.22 765.05,1578.22 765.06,1580.23 765.06,1582.23 765.07,1584.23 765.07,1586.24 765.08,1588.24 765.09,1590.24 765.09,1592.24 765.1,1594.25 765.11,1596.25 765.12,1598.25 765.12,1600.25 765.14,1602.26 765.15,1604.26 765.16,1606.27 765.18,1608.27 765.2,1610.28 765.22,1612.28 765.24,1614.29 765.26,1616.3 765.28,1618.3 765.3,1620.31 765.33,1622.32 765.36,1624.33 765.38,1626.34 765.41,1628.35 765.44,1630.36 765.47,1632.37 765.5,1634.38 765.53,1636.39 765.56,1638.4 765.6,1640.41 765.63,1642.42 765.66,1644.44 765.7,1646.45 765.73,1648.46 765.77,1650.47 765.8,1652.49 765.83,1654.5 765.87,1656.51 765.9,1658.53 765.94,1660.54 765.97,1662.55 766.01,1664.57 766.04,1666.58 766.07,1668.6 766.11,1670.61 766.14,1672.62 766.17,1674.64 766.2,1676.65 766.23,1678.67 766.26,1680.68 766.29,1682.7 766.32,1684.71 766.35,1686.72 766.38,1688.74 766.4,1690.75 766.43,1692.77 766.45,1694.78 766.47,1696.79 766.5,1698.81 766.51,1700.82 766.53,1702.83 766.55,1704.85 766.57,1706.86 766.58,1708.87 766.59,1710.88 766.6,1712.9 766.61,1714.91 766.62,1716.92 766.62,1718.93 766.62,1720.94 766.62,1722.95 766.62,1724.96 766.62,1726.97 766.61,1728.98 766.61,1730.99 766.6,1733" stroke="#00f" stroke-width="2.5" fill="none"/>
</g>
<g>
<path d="M1110.37,1732.3V1727.2M1129.79,1732.3V1727.2M1149.21,1732.3V1727.2M1168.63,1732.3V1727.2M1188.05,1732.3V1721.7M1207.46,1732.3V1727.2M1226.88,1732.3V1727.2M1246.3,1732.3V1727.2M1265.72,1732.3V1727.2M1285.14,1732.3V1721.7M1304.56,1732.3V1727.2M1323.98,1732.3V1727.2M1343.4,1732.3V1727.2M1362.82,1732.3V1727.2M1382.24,1732.3V1721.7M1401.65,1732.3V1727.2M1421.07,1732.3V1727.2M1440.49,1732.3V1727.2M1459.91,1732.3V1727.2M1479.33,1732.3V1721.7M1090.95,1708.67H1097.05M1090.95,1694.84H1097.05M1090.95,1685.03H1097.05M1090.95,1677.43H1097.05M1090.95,1671.21H1097.05M1090.95,1665.95H1097.05M1090.95,1661.4H1097.05M1090.95,1657.38H1097.05M1090.95,1653.79H1103.25M1090.95,1630.16H1097.05M1090.95,1616.33H1097.05M1090.95,1606.52H1097.05M1090.95,1598.92H1097.05M1090.95,1592.7H1097.05M1090.95,1587.44H1097.05M1090.95,1582.89H1097.05M1090.95,1578.88H1097.05M1090.95,1575.28H1103.25M1090.95,1551.65H1097.05M1090.95,1537.83H1097.05M1090.95,1528.02H1097.05M1090.95,1520.41H1097.05M1090.95,1514.19H1097.05M1090.95,1508.94H1097.05M1090.95,1504.38H1097.05M1090.95,1500.37H1097.05M1090.95,1496.78H1103.25M1090.95,1473.14H1097.05M1090.95,1459.32H1097.05M1090.95,1449.51H1097.05M1090.95,1441.9H1097.05M1090.95,1435.68H1097.05M1090.95,1430.43H1097.05M1090.95,1425.87H1097.05M1090.95,1421.86H1097.05M1090.95,1418.27H1103.25M1090.95,1394.63H1097.05M1090.95,1380.81H1097.05" stroke="#000" stroke-width="2.0" fill="none"/>
<rect x="1090.95" y="1371" width="407.8" height="361.3" fill="none" stroke="#000" stroke-width="2.2"/>
<text x="1089.55" y="1750" text-anchor="middle" font-size="20">0</text>
<text x="1186.65" y="1750" text-anchor="middle" font-size="20">0.005</text>
<text x="1283.74" y="1750" text-anchor="middle" font-size="20">0.01</text>
<text x="1380.84" y="1750" text-anchor="middle" font-size="20">0.015</text>
<text x="1477.93" y="1750" text-anchor="middle" font-size="20">0.02</text>
<text x="1073.55" y="1740.2" text-anchor="end" font-size="20">10</text>
<path d="M1072.55,1727.8H1078.75" stroke="#000" stroke-width="1.3"/>
<text x="1085.35" y="1731.2" text-anchor="end" font-size="12.5">1</text>
<text x="1085.25" y="1660.99" text-anchor="end" font-size="20">1</text>
<text x="1085.25" y="1582.48" text-anchor="end" font-size="20">10</text>
<text x="1084.45" y="1506.18" text-anchor="end" font-size="20">10<tspan font-size="12.5" dy="-11">2</tspan></text>
<text x="1084.45" y="1427.67" text-anchor="end" font-size="20">10<tspan font-size="12.5" dy="-11">3</tspan></text>
<text x="1294.25" y="1774.6" text-anchor="middle" font-size="19.7">1/E<tspan font-size="12.8" dy="5.6">cm</tspan><tspan dy="-5.6"> (MeV</tspan><tspan font-size="12.8" dy="-8.4">-1</tspan><tspan dy="8.4">)</tspan></text>
<text transform="translate(1047.75,1550.15) rotate(-90)" text-anchor="middle" font-size="20.6">σ<tspan font-size="13" dy="6">f</tspan><tspan dy="-6"> (mb)</tspan></text>
<text x="1334.95" y="1417.5" font-size="21" font-weight="bold"><tspan font-size="12" dy="-9.7">40</tspan><tspan dy="9.7">Ar+</tspan><tspan font-size="12" dy="-9.7">112</tspan><tspan dy="9.7">Sn</tspan></text>
<path d="M1319.55,1488.5H1344.25" stroke="#f00" stroke-width="2.6" stroke-dasharray="8,8"/>
<path d="M1319.55,1530.4H1344.25" stroke="#f00" stroke-width="2.6"/>
<path d="M1319.55,1572.5H1344.25" stroke="#00f" stroke-width="2.6"/>
<text x="1348.55" y="1492" font-size="14">Our model (10 n)</text>
<text x="1348.55" y="1534" font-size="14">Our model (15 n)</text>
<text x="1348.55" y="1576" font-size="14">phen. for.</text>
<path d="M1285.8,1664.4V1673M1282.6,1664.4H1289M1282.6,1673H1289M1286.4,1675V1683.6M1283.2,1675H1289.6M1283.2,1683.6H1289.6" stroke="#000" stroke-width="2" fill="none"/>
<path d="M1244.5,1440.2L1248.7,1448.2L1240.3,1448.2Z" fill="#fff" stroke="#000" stroke-width="2" stroke-linejoin="miter"/>
<path d="M1251.8,1450.9L1256,1458.9L1247.6,1458.9Z" fill="#fff" stroke="#000" stroke-width="2" stroke-linejoin="miter"/>
<path d="M1255.8,1456L1260,1464L1251.6,1464Z" fill="#fff" stroke="#000" stroke-width="2" stroke-linejoin="miter"/>
<path d="M1260.8,1466.6L1265,1474.6L1256.6,1474.6Z" fill="#fff" stroke="#000" stroke-width="2" stroke-linejoin="miter"/>
<path d="M1265.3,1477.9L1269.5,1485.9L1261.1,1485.9Z" fill="#fff" stroke="#000" stroke-width="2" stroke-linejoin="miter"/>
<path d="M1268.1,1488L1272.3,1496L1263.9,1496Z" fill="#fff" stroke="#000" stroke-width="2" stroke-linejoin="miter"/>
<path d="M1269.3,1494.2L1273.5,1502.2L1265.1,1502.2Z" fill="#fff" stroke="#000" stroke-width="2" stroke-linejoin="miter"/>
<path d="M1272.6,1507.6L1276.8,1515.6L1268.4,1515.6Z" fill="#fff" stroke="#000" stroke-width="2" stroke-linejoin="miter"/>
<path d="M1276.5,1527.8L1280.7,1535.8L1272.3,1535.8Z" fill="#fff" stroke="#000" stroke-width="2" stroke-linejoin="miter"/>
<path d="M1278.4,1555.9L1282.6,1563.9L1274.2,1563.9Z" fill="#fff" stroke="#000" stroke-width="2" stroke-linejoin="miter"/>
<path d="M1283.4,1623.2L1287.6,1631.2L1279.2,1631.2Z" fill="#fff" stroke="#000" stroke-width="2" stroke-linejoin="miter"/>
<path d="M1285.8,1663.9L1290,1671.9L1281.6,1671.9Z" fill="#fff" stroke="#000" stroke-width="2" stroke-linejoin="miter"/>
<path d="M1286.4,1674.5L1290.6,1682.5L1282.2,1682.5Z" fill="#fff" stroke="#000" stroke-width="2" stroke-linejoin="miter"/>
<path d="M1092.01,1476.41L1092.4,1474.34 1092.84,1472.29 1093.31,1470.27 1093.81,1468.27 1094.35,1466.3 1094.93,1464.36 1095.55,1462.44 1096.21,1460.55 1096.91,1458.68 1097.64,1456.85 1098.42,1455.03 1099.24,1453.25 1100.1,1451.49 1101,1449.77 1101.95,1448.06 1102.93,1446.39 1103.97,1444.75 1105.04,1443.13 1106.17,1441.54 1107.33,1439.99 1108.55,1438.46 1109.81,1436.96 1111.12,1435.49 1112.48,1434.05 1113.88,1432.64 1115.34,1431.26 1116.84,1429.91 1118.4,1428.59 1120,1427.3 1121.66,1426.05 1123.36,1424.83 1125.11,1423.66 1126.89,1422.54 1128.72,1421.47 1130.57,1420.46 1132.45,1419.51 1134.35,1418.64 1136.27,1417.85 1138.21,1417.14 1140.16,1416.51 1142.12,1415.99 1144.09,1415.56 1146.05,1415.23 1148.01,1415.02 1149.96,1414.92 1151.91,1414.92 1153.84,1415.03 1155.77,1415.23 1157.68,1415.53 1159.57,1415.91 1161.45,1416.39 1163.31,1416.94 1165.14,1417.57 1166.95,1418.28 1168.74,1419.05 1170.5,1419.89 1172.23,1420.79 1173.93,1421.74 1175.6,1422.75 1177.24,1423.81 1178.84,1424.92 1180.41,1426.07 1181.95,1427.27 1183.47,1428.52 1184.95,1429.8 1186.4,1431.13 1187.83,1432.5 1189.23,1433.9 1190.6,1435.34 1191.95,1436.81 1193.27,1438.32 1194.56,1439.86 1195.83,1441.42 1197.08,1443.01 1198.3,1444.63 1199.5,1446.28 1200.68,1447.94 1201.84,1449.63 1202.97,1451.33 1204.09,1453.05 1205.18,1454.79 1206.26,1456.54 1207.32,1458.3 1208.36,1460.08 1209.38,1461.86 1210.39,1463.65 1211.37,1465.45 1212.35,1467.25 1213.31,1469.05 1214.25,1470.86 1215.18,1472.66 1216.09,1474.47 1217,1476.29 1217.89,1478.1 1218.76,1479.92 1219.63,1481.74 1220.48,1483.57 1221.32,1485.39 1222.15,1487.22 1222.98,1489.05 1223.79,1490.88 1224.59,1492.72 1225.38,1494.55 1226.17,1496.39 1226.94,1498.24 1227.71,1500.08 1228.47,1501.92 1229.23,1503.77 1229.97,1505.62 1230.72,1507.47 1231.45,1509.33 1232.19,1511.18 1232.91,1513.04 1233.64,1514.9 1234.36,1516.76 1235.07,1518.63 1235.79,1520.49 1236.5,1522.36 1237.2,1524.23 1237.91,1526.1 1238.61,1527.97 1239.31,1529.85 1240,1531.72 1240.7,1533.6 1241.38,1535.48 1242.07,1537.36 1242.75,1539.24 1243.43,1541.13 1244.11,1543.01 1244.78,1544.9 1245.46,1546.79 1246.12,1548.68 1246.79,1550.57 1247.45,1552.47 1248.11,1554.36 1248.76,1556.26 1249.42,1558.16 1250.07,1560.06 1250.71,1561.96 1251.36,1563.86 1252,1565.76 1252.63,1567.67 1253.27,1569.58 1253.9,1571.48 1254.53,1573.39 1255.15,1575.31 1255.78,1577.22 1256.39,1579.13 1257.01,1581.05 1257.62,1582.96 1258.23,1584.88 1258.84,1586.8 1259.45,1588.72 1260.05,1590.64 1260.65,1592.56 1261.24,1594.48 1261.83,1596.41 1262.42,1598.33 1263.01,1600.26 1263.59,1602.19 1264.17,1604.12 1264.75,1606.05 1265.32,1607.98 1265.89,1609.91 1266.46,1611.84 1267.03,1613.78 1267.59,1615.71 1268.15,1617.65 1268.71,1619.58 1269.26,1621.52 1269.81,1623.46 1270.36,1625.4 1270.9,1627.34 1271.44,1629.28 1271.98,1631.23 1272.52,1633.17 1273.05,1635.11 1273.58,1637.06 1274.1,1639 1274.63,1640.95 1275.15,1642.9 1275.66,1644.84 1276.18,1646.79 1276.69,1648.74 1277.2,1650.69 1277.7,1652.64 1278.21,1654.59 1278.71,1656.54 1279.2,1658.49 1279.7,1660.45 1280.19,1662.4 1280.68,1664.35 1281.16,1666.31 1281.64,1668.26 1282.12,1670.22 1282.6,1672.18 1283.07,1674.13 1283.54,1676.09 1284.01,1678.05 1284.47,1680 1284.93,1681.96 1285.39,1683.92 1285.85,1685.88 1286.3,1687.84 1286.75,1689.8 1287.19,1691.76 1287.64,1693.72 1288.08,1695.68 1288.51,1697.64 1288.95,1699.6 1289.38,1701.56 1289.81,1703.52 1290.24,1705.48 1290.66,1707.45 1291.08,1709.41 1291.5,1711.37 1291.91,1713.33 1292.32,1715.29 1292.73,1717.26 1293.13,1719.22 1293.54,1721.18 1293.94,1723.14 1294.33,1725.11 1294.73,1727.07 1295.12,1729.03 1295.5,1730.99" stroke="#f00" stroke-width="2.5" fill="none" stroke-dasharray="8,8"/>
<path d="M1092,1519.1L1092.35,1517.12 1092.71,1515.14 1093.07,1513.16 1093.44,1511.18 1093.82,1509.21 1094.21,1507.23 1094.62,1505.26 1095.03,1503.29 1095.46,1501.33 1095.9,1499.37 1096.36,1497.41 1096.84,1495.46 1097.33,1493.52 1097.84,1491.58 1098.37,1489.65 1098.92,1487.72 1099.49,1485.81 1100.08,1483.9 1100.7,1482 1101.34,1480.11 1102.01,1478.23 1102.7,1476.35 1103.42,1474.49 1104.17,1472.65 1104.95,1470.81 1105.76,1468.98 1106.6,1467.17 1107.47,1465.37 1108.37,1463.59 1109.31,1461.81 1110.29,1460.06 1111.3,1458.32 1112.35,1456.59 1113.43,1454.88 1114.56,1453.19 1115.72,1451.51 1116.91,1449.86 1118.14,1448.23 1119.41,1446.62 1120.71,1445.04 1122.04,1443.49 1123.41,1441.96 1124.8,1440.46 1126.23,1438.99 1127.69,1437.55 1129.18,1436.14 1130.7,1434.77 1132.24,1433.44 1133.81,1432.14 1135.41,1430.88 1137.04,1429.66 1138.69,1428.48 1140.37,1427.35 1142.07,1426.26 1143.79,1425.21 1145.54,1424.22 1147.31,1423.27 1149.1,1422.37 1150.91,1421.52 1152.74,1420.72 1154.59,1419.98 1156.46,1419.3 1158.35,1418.67 1160.25,1418.1 1162.17,1417.58 1164.11,1417.13 1166.06,1416.74 1168.02,1416.4 1169.99,1416.13 1171.96,1415.91 1173.95,1415.74 1175.94,1415.64 1177.93,1415.59 1179.93,1415.59 1181.92,1415.66 1183.91,1415.77 1185.9,1415.95 1187.88,1416.17 1189.86,1416.45 1191.83,1416.78 1193.79,1417.17 1195.73,1417.61 1197.66,1418.09 1199.58,1418.64 1201.48,1419.23 1203.36,1419.87 1205.22,1420.56 1207.05,1421.31 1208.87,1422.1 1210.66,1422.94 1212.42,1423.83 1214.15,1424.77 1215.85,1425.75 1217.52,1426.79 1219.16,1427.87 1220.76,1428.99 1222.32,1430.16 1223.84,1431.38 1225.33,1432.64 1226.77,1433.95 1228.18,1435.29 1229.56,1436.68 1230.89,1438.1 1232.19,1439.57 1233.46,1441.06 1234.7,1442.6 1235.9,1444.16 1237.07,1445.76 1238.21,1447.39 1239.32,1449.05 1240.41,1450.73 1241.46,1452.44 1242.49,1454.18 1243.5,1455.93 1244.47,1457.71 1245.43,1459.51 1246.36,1461.33 1247.27,1463.17 1248.16,1465.02 1249.03,1466.88 1249.88,1468.76 1250.71,1470.65 1251.52,1472.56 1252.32,1474.47 1253.1,1476.38 1253.86,1478.31 1254.62,1480.23 1255.36,1482.16 1256.08,1484.1 1256.8,1486.03 1257.5,1487.96 1258.2,1489.9 1258.88,1491.83 1259.55,1493.76 1260.21,1495.7 1260.87,1497.63 1261.51,1499.56 1262.14,1501.5 1262.76,1503.43 1263.37,1505.37 1263.98,1507.3 1264.57,1509.24 1265.15,1511.17 1265.73,1513.11 1266.3,1515.05 1266.85,1516.98 1267.4,1518.92 1267.94,1520.86 1268.47,1522.8 1269,1524.74 1269.51,1526.68 1270.02,1528.62 1270.52,1530.56 1271.01,1532.5 1271.5,1534.44 1271.98,1536.38 1272.45,1538.33 1272.91,1540.27 1273.37,1542.21 1273.82,1544.16 1274.26,1546.11 1274.7,1548.05 1275.13,1550 1275.55,1551.95 1275.97,1553.9 1276.39,1555.85 1276.79,1557.8 1277.19,1559.75 1277.59,1561.71 1277.98,1563.66 1278.37,1565.62 1278.75,1567.57 1279.12,1569.53 1279.49,1571.49 1279.86,1573.45 1280.22,1575.41 1280.58,1577.37 1280.94,1579.34 1281.29,1581.3 1281.63,1583.27 1281.97,1585.24 1282.31,1587.2 1282.65,1589.17 1282.98,1591.15 1283.31,1593.12 1283.64,1595.09 1283.96,1597.07 1284.28,1599.04 1284.6,1601.02 1284.92,1603 1285.23,1604.98 1285.54,1606.97 1285.85,1608.95 1286.16,1610.94 1286.47,1612.92 1286.77,1614.91 1287.08,1616.9 1287.38,1618.89 1287.67,1620.89 1287.97,1622.88 1288.27,1624.88 1288.56,1626.87 1288.85,1628.87 1289.14,1630.87 1289.43,1632.87 1289.71,1634.87 1289.99,1636.87 1290.27,1638.87 1290.55,1640.88 1290.83,1642.88 1291.1,1644.89 1291.38,1646.89 1291.64,1648.9 1291.91,1650.9 1292.18,1652.91 1292.44,1654.92 1292.7,1656.92 1292.96,1658.93 1293.21,1660.94 1293.47,1662.95 1293.72,1664.96 1293.96,1666.97 1294.21,1668.98 1294.45,1670.99 1294.69,1672.99 1294.93,1675 1295.17,1677.01 1295.4,1679.02 1295.63,1681.03 1295.86,1683.04 1296.08,1685.04 1296.3,1687.05 1296.52,1689.06 1296.74,1691.06 1296.95,1693.07 1297.16,1695.08 1297.37,1697.08 1297.57,1699.08 1297.78,1701.09 1297.98,1703.09 1298.17,1705.09 1298.36,1707.09 1298.55,1709.09 1298.74,1711.09 1298.93,1713.09 1299.11,1715.08 1299.29,1717.08 1299.46,1719.07 1299.63,1721.07 1299.8,1723.06 1299.97,1725.05 1300.13,1727.04 1300.29,1729.03 1300.44,1731.01 1300.59,1733" stroke="#f00" stroke-width="2.5" fill="none"/>
<path d="M1092.01,1512.19L1092.1,1510.33 1092.18,1508.44 1092.25,1506.51 1092.33,1504.56 1092.4,1502.59 1092.47,1500.59 1092.54,1498.58 1092.61,1496.54 1092.7,1494.49 1092.79,1492.43 1092.89,1490.36 1093.01,1488.28 1093.14,1486.19 1093.29,1484.1 1093.46,1482.01 1093.65,1479.92 1093.86,1477.83 1094.1,1475.75 1094.37,1473.67 1094.67,1471.61 1095,1469.55 1095.36,1467.51 1095.77,1465.49 1096.21,1463.49 1096.69,1461.51 1097.22,1459.55 1097.79,1457.61 1098.41,1455.71 1099.07,1453.84 1099.79,1451.99 1100.57,1450.19 1101.4,1448.42 1102.29,1446.69 1103.24,1445 1104.25,1443.35 1105.31,1441.75 1106.44,1440.19 1107.62,1438.68 1108.85,1437.2 1110.14,1435.78 1111.47,1434.4 1112.86,1433.06 1114.29,1431.77 1115.76,1430.53 1117.28,1429.33 1118.85,1428.18 1120.45,1427.08 1122.09,1426.02 1123.77,1425.01 1125.49,1424.05 1127.24,1423.15 1129.02,1422.28 1130.83,1421.47 1132.68,1420.7 1134.54,1419.98 1136.44,1419.3 1138.35,1418.67 1140.29,1418.07 1142.25,1417.51 1144.22,1416.99 1146.21,1416.51 1148.21,1416.06 1150.22,1415.65 1152.25,1415.27 1154.27,1414.91 1156.31,1414.59 1158.35,1414.3 1160.39,1414.03 1162.43,1413.79 1164.47,1413.58 1166.52,1413.4 1168.56,1413.25 1170.61,1413.13 1172.65,1413.04 1174.69,1412.98 1176.73,1412.95 1178.76,1412.95 1180.79,1412.98 1182.82,1413.05 1184.84,1413.15 1186.86,1413.28 1188.87,1413.45 1190.88,1413.65 1192.88,1413.89 1194.87,1414.16 1196.85,1414.47 1198.82,1414.81 1200.79,1415.19 1202.75,1415.61 1204.69,1416.07 1206.62,1416.56 1208.55,1417.09 1210.46,1417.66 1212.36,1418.27 1214.24,1418.93 1216.11,1419.62 1217.97,1420.35 1219.81,1421.12 1221.64,1421.94 1223.45,1422.79 1225.24,1423.69 1227.02,1424.64 1228.77,1425.62 1230.5,1426.65 1232.21,1427.72 1233.9,1428.83 1235.56,1429.98 1237.18,1431.18 1238.78,1432.41 1240.34,1433.69 1241.87,1435 1243.36,1436.35 1244.81,1437.74 1246.23,1439.17 1247.6,1440.64 1248.93,1442.13 1250.22,1443.67 1251.46,1445.23 1252.65,1446.83 1253.8,1448.46 1254.91,1450.12 1255.97,1451.8 1256.99,1453.51 1257.97,1455.25 1258.9,1457.01 1259.8,1458.79 1260.65,1460.59 1261.47,1462.41 1262.25,1464.25 1262.98,1466.1 1263.68,1467.97 1264.35,1469.86 1264.98,1471.75 1265.57,1473.66 1266.13,1475.57 1266.66,1477.5 1267.15,1479.43 1267.61,1481.37 1268.04,1483.32 1268.45,1485.28 1268.82,1487.24 1269.17,1489.21 1269.5,1491.19 1269.8,1493.17 1270.07,1495.16 1270.32,1497.16 1270.56,1499.16 1270.77,1501.16 1270.96,1503.17 1271.13,1505.19 1271.29,1507.21 1271.43,1509.23 1271.56,1511.25 1271.67,1513.28 1271.77,1515.31 1271.86,1517.34 1271.94,1519.37 1272.01,1521.4 1272.07,1523.44 1272.12,1525.47 1272.17,1527.51 1272.22,1529.55 1272.25,1531.58 1272.29,1533.61 1272.32,1535.65 1272.36,1537.68 1272.39,1539.71 1272.43,1541.74 1272.47,1543.76 1272.5,1545.79 1272.54,1547.81 1272.59,1549.83 1272.63,1551.85 1272.67,1553.86 1272.71,1555.88 1272.76,1557.89 1272.8,1559.91 1272.85,1561.92 1272.89,1563.93 1272.94,1565.94 1272.99,1567.94 1273.03,1569.95 1273.08,1571.96 1273.13,1573.96 1273.18,1575.97 1273.22,1577.97 1273.27,1579.98 1273.31,1581.98 1273.36,1583.99 1273.4,1585.99 1273.45,1587.99 1273.49,1590 1273.54,1592 1273.58,1594.01 1273.62,1596.01 1273.66,1598.01 1273.7,1600.02 1273.73,1602.03 1273.77,1604.03 1273.8,1606.04 1273.84,1608.05 1273.87,1610.06 1273.9,1612.07 1273.93,1614.08 1273.96,1616.09 1273.98,1618.1 1274.01,1620.12 1274.04,1622.13 1274.06,1624.14 1274.08,1626.16 1274.1,1628.17 1274.13,1630.19 1274.15,1632.2 1274.17,1634.22 1274.19,1636.24 1274.2,1638.25 1274.22,1640.27 1274.24,1642.29 1274.26,1644.31 1274.27,1646.32 1274.29,1648.34 1274.3,1650.36 1274.32,1652.38 1274.33,1654.4 1274.35,1656.42 1274.36,1658.44 1274.38,1660.46 1274.39,1662.47 1274.41,1664.49 1274.42,1666.51 1274.43,1668.53 1274.45,1670.55 1274.46,1672.57 1274.48,1674.59 1274.49,1676.61 1274.51,1678.63 1274.52,1680.65 1274.54,1682.67 1274.56,1684.68 1274.57,1686.7 1274.59,1688.72 1274.61,1690.74 1274.63,1692.76 1274.65,1694.77 1274.67,1696.79 1274.69,1698.81 1274.71,1700.82 1274.73,1702.84 1274.76,1704.85 1274.78,1706.87 1274.8,1708.88 1274.83,1710.89 1274.86,1712.91 1274.89,1714.92 1274.92,1716.93 1274.95,1718.94 1274.98,1720.95 1275.01,1722.96 1275.05,1724.97 1275.09,1726.98 1275.12,1728.99 1275.16,1730.99 1275.2,1733" stroke="#00f" stroke-width="2.5" fill="none"/>
</g>
</svg></body></html>
